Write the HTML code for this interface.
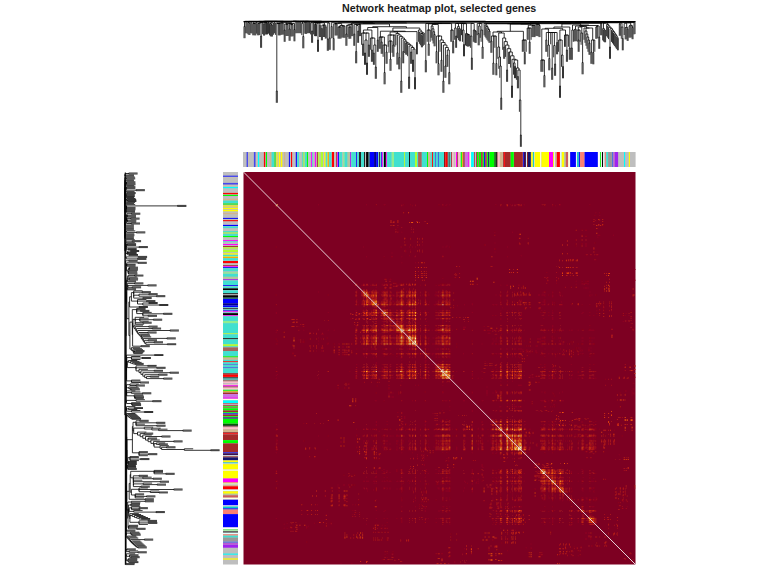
<!DOCTYPE html>
<html><head><meta charset="utf-8"><title>Network heatmap plot</title>
<style>
html,body{margin:0;padding:0;background:#fff;}
body{width:768px;height:576px;overflow:hidden;font-family:"Liberation Sans",sans-serif;}
svg{display:block}
</style></head><body>
<svg width="768" height="576" viewBox="0 0 768 576">
<rect width="768" height="576" fill="#fff"/>
<text x="439.2" y="11.7" text-anchor="middle" font-family="Liberation Sans, sans-serif" font-weight="bold" font-size="10.7px" fill="#1a1a1a">Network heatmap plot, selected genes</text>
<defs><filter id="b2" x="-5%" y="-5%" width="110%" height="110%"><feGaussianBlur stdDeviation="0.3"/></filter></defs>
<g fill="none" stroke="#000" stroke-width="0.8" stroke-linecap="butt" filter="url(#b2)">
<path d="M244 38.2L244 26.4M244 26.4L245 26.4M245 26.4L245 38.2M245.9 33.3L245.9 21.5M245.9 21.5L246.9 21.5M246.9 21.5L246.9 33.3M244.5 26.4L244.5 21.4M244.5 21.4L246.4 21.4M246.4 21.4L246.4 21.5M248.9 35L248.9 23.2M248.9 23.2L249.9 23.2M249.9 23.2L249.9 35M247.9 34.3L247.9 22.5M247.9 22.5L249.4 22.5M249.4 22.5L249.4 23.2M254.8 35.4L254.8 23.6M254.8 23.6L255.8 23.6M255.8 23.6L255.8 35.4M253.8 35.3L253.8 23.5M253.8 23.5L255.3 23.5M255.3 23.5L255.3 23.6M252.8 35.3L252.8 23.5M252.8 23.5L254.5 23.5M254.5 23.5L254.5 23.5M253.7 23.5L253.7 21.9M253.7 21.9L256.7 21.9M256.7 21.9L256.7 33.7M257.7 35.3L257.7 23.5M257.7 23.5L258.7 23.5M258.7 23.5L258.7 35.3M258.2 23.5L258.2 23.3M258.2 23.3L259.7 23.3M259.7 23.3L259.7 35.1M260.6 47.8L260.6 36M260.6 36L261.6 36M261.6 36L261.6 47.8M258.9 23.3L258.9 23M258.9 23L261.1 23M261.1 23L261.1 36M260 23L260 22.4M260 22.4L262.6 22.4M262.6 22.4L262.6 34.2M263.6 35.6L263.6 23.8M263.6 23.8L264.6 23.8M264.6 23.8L264.6 35.6M265.6 34.5L265.6 22.7M265.6 22.7L266.5 22.7M266.5 22.7L266.5 34.5M266 22.7L266 22.6M266 22.6L267.5 22.6M267.5 22.6L267.5 34.4M264.1 23.8L264.1 22.6M264.1 22.6L266.8 22.6M266.8 22.6L266.8 22.6M261.3 22.4L261.3 22.2M261.3 22.2L265.4 22.2M265.4 22.2L265.4 22.6M255.2 21.9L255.2 21.9M255.2 21.9L263.4 21.9M263.4 21.9L263.4 22.2M271.4 36.6L271.4 24.8M271.4 24.8L272.4 24.8M272.4 24.8L272.4 36.6M270.4 36.4L270.4 24.6M270.4 24.6L271.9 24.6M271.9 24.6L271.9 24.8M269.5 35.3L269.5 23.5M269.5 23.5L271.2 23.5M271.2 23.5L271.2 24.6M270.3 23.5L270.3 23M270.3 23L273.4 23M273.4 23L273.4 34.8M268.5 33.7L268.5 21.9M268.5 21.9L271.9 21.9M271.9 21.9L271.9 23M259.3 21.9L259.3 21.7M259.3 21.7L270.2 21.7M270.2 21.7L270.2 21.9M251.8 33.4L251.8 21.6M251.8 21.6L264.7 21.6M264.7 21.6L264.7 21.7M258.3 21.6L258.3 21.5M258.3 21.5L274.4 21.5M274.4 21.5L274.4 33.3M250.8 33.3L250.8 21.5M250.8 21.5L266.3 21.5M266.3 21.5L266.3 21.5M276.3 102.8L276.3 91M276.3 91L277.3 91M277.3 91L277.3 102.8M276.8 91L276.8 23.6M276.8 23.6L278.3 23.6M278.3 23.6L278.3 35.4M279.3 35.4L279.3 23.6M279.3 23.6L280.2 23.6M280.2 23.6L280.2 35.4M277.6 23.6L277.6 23.5M277.6 23.5L279.8 23.5M279.8 23.5L279.8 23.6M275.4 34.9L275.4 23.1M275.4 23.1L278.7 23.1M278.7 23.1L278.7 23.5M277 23.1L277 23.1M277 23.1L281.2 23.1M281.2 23.1L281.2 34.9M282.2 34.7L282.2 22.9M282.2 22.9L283.2 22.9M283.2 22.9L283.2 34.7M279.1 23.1L279.1 22.9M279.1 22.9L282.7 22.9M282.7 22.9L282.7 22.9M284.2 41.8L284.2 30M284.2 30L285.1 30M285.1 30L285.1 41.8M286.1 36L286.1 24.2M286.1 24.2L287.1 24.2M287.1 24.2L287.1 36M286.6 24.2L286.6 24.2M286.6 24.2L288.1 24.2M288.1 24.2L288.1 36M284.7 30L284.7 24M284.7 24L287.4 24M287.4 24L287.4 24.2M289.1 40.8L289.1 29M289.1 29L290.1 29M290.1 29L290.1 40.8M291 36.5L291 24.7M291 24.7L292 24.7M292 24.7L292 36.5M291.5 24.7L291.5 24.5M291.5 24.5L293 24.5M293 24.5L293 36.3M289.6 29L289.6 24.2M289.6 24.2L292.3 24.2M292.3 24.2L292.3 24.5M286 24L286 23.6M286 23.6L290.9 23.6M290.9 23.6L290.9 24.2M294 41.3L294 29.5M294 29.5L294.9 29.5M294.9 29.5L294.9 41.3M288.5 23.6L288.5 23.5M288.5 23.5L294.5 23.5M294.5 23.5L294.5 29.5M280.9 22.9L280.9 22.6M280.9 22.6L291.5 22.6M291.5 22.6L291.5 23.5M286.2 22.6L286.2 21.5M286.2 21.5L295.9 21.5M295.9 21.5L295.9 33.3M291.1 21.5L291.1 21.4M291.1 21.4L296.9 21.4M296.9 21.4L296.9 33.2M297.9 33.2L297.9 21.4M297.9 21.4L298.9 21.4M298.9 21.4L298.9 33.2M294 21.4L294 21.4M294 21.4L298.4 21.4M298.4 21.4L298.4 21.4M258.6 21.5L258.6 21.4M258.6 21.4L296.2 21.4M296.2 21.4L296.2 21.4M248.6 22.5L248.6 21.4M248.6 21.4L277.4 21.4M277.4 21.4L277.4 21.4M302.8 48.3L302.8 36.5M302.8 36.5L303.8 36.5M303.8 36.5L303.8 48.3M301.8 35.1L301.8 23.3M301.8 23.3L303.3 23.3M303.3 23.3L303.3 36.5M302.5 23.3L302.5 21.9M302.5 21.9L304.8 21.9M304.8 21.9L304.8 33.7M305.7 33.9L305.7 22.1M305.7 22.1L306.7 22.1M306.7 22.1L306.7 33.9M303.6 21.9L303.6 21.9M303.6 21.9L306.2 21.9M306.2 21.9L306.2 22.1M300.8 33.3L300.8 21.5M300.8 21.5L304.9 21.5M304.9 21.5L304.9 21.9M307.7 33.2L307.7 21.4M307.7 21.4L308.7 21.4M308.7 21.4L308.7 33.2M302.9 21.5L302.9 21.4M302.9 21.4L308.2 21.4M308.2 21.4L308.2 21.4M305.5 21.4L305.5 21.4M305.5 21.4L309.6 21.4M309.6 21.4L309.6 33.2M299.9 33.2L299.9 21.4M299.9 21.4L307.6 21.4M307.6 21.4L307.6 21.4M263 21.4L263 21.4M263 21.4L303.7 21.4M303.7 21.4L303.7 21.4M245.5 21.4L245.5 21.3M245.5 21.3L283.4 21.3M283.4 21.3L283.4 21.4M311.6 42.8L311.6 31M311.6 31L312.6 31M312.6 31L312.6 42.8M310.6 34.4L310.6 22.6M310.6 22.6L312.1 22.6M312.1 22.6L312.1 31M315.5 36.2L315.5 24.4M315.5 24.4L316.5 24.4M316.5 24.4L316.5 36.2M314.6 36.1L314.6 24.3M314.6 24.3L316 24.3M316 24.3L316 24.4M317.5 51.8L317.5 40M317.5 40L318.5 40M318.5 40L318.5 51.8M315.3 24.3L315.3 23.1M315.3 23.1L318 23.1M318 23.1L318 40M319.4 37L319.4 25.2M319.4 25.2L320.4 25.2M320.4 25.2L320.4 37M316.6 23.1L316.6 22.9M316.6 22.9L319.9 22.9M319.9 22.9L319.9 25.2M321.4 40.3L321.4 28.5M321.4 28.5L322.4 28.5M322.4 28.5L322.4 40.3M323.4 37L323.4 25.2M323.4 25.2L324.4 25.2M324.4 25.2L324.4 37M321.9 28.5L321.9 25.1M321.9 25.1L323.9 25.1M323.9 25.1L323.9 25.2M325.3 38.6L325.3 26.8M325.3 26.8L326.3 26.8M326.3 26.8L326.3 38.6M322.9 25.1L322.9 25.1M322.9 25.1L325.8 25.1M325.8 25.1L325.8 26.8M318.3 22.9L318.3 22.8M318.3 22.8L324.4 22.8M324.4 22.8L324.4 25.1M313.6 34.4L313.6 22.6M313.6 22.6L321.3 22.6M321.3 22.6L321.3 22.8M311.4 22.6L311.4 22.6M311.4 22.6L317.4 22.6M317.4 22.6L317.4 22.6M327.3 50.8L327.3 39M327.3 39L328.3 39M328.3 39L328.3 50.8M329.2 49.8L329.2 38M329.2 38L330.2 38M330.2 38L330.2 49.8M327.8 39L327.8 23M327.8 23L329.7 23M329.7 23L329.7 38M314.4 22.6L314.4 22.4M314.4 22.4L328.8 22.4M328.8 22.4L328.8 23M264.4 21.3L264.4 21.2M264.4 21.2L321.6 21.2M321.6 21.2L321.6 22.4M331.2 38.3L331.2 26.5M331.2 26.5L332.2 26.5M332.2 26.5L332.2 38.3M333.2 50.3L333.2 38.5M333.2 38.5L334.1 38.5M334.1 38.5L334.1 50.3M335.1 35.5L335.1 23.7M335.1 23.7L336.1 23.7M336.1 23.7L336.1 35.5M335.6 23.7L335.6 23.7M335.6 23.7L337.1 23.7M337.1 23.7L337.1 35.5M333.7 38.5L333.7 23.7M333.7 23.7L336.4 23.7M336.4 23.7L336.4 23.7M339.1 38.7L339.1 26.9M339.1 26.9L340 26.9M340 26.9L340 38.7M338.1 38.7L338.1 26.9M338.1 26.9L339.5 26.9M339.5 26.9L339.5 26.9M338.8 26.9L338.8 26.8M338.8 26.8L341 26.8M341 26.8L341 38.6M342 37.6L342 25.8M342 25.8L343 25.8M343 25.8L343 37.6M343.9 37.8L343.9 26M343.9 26L344.9 26M344.9 26L344.9 37.8M342.5 25.8L342.5 25.8M342.5 25.8L344.4 25.8M344.4 25.8L344.4 26M339.9 26.8L339.9 25.5M339.9 25.5L343.5 25.5M343.5 25.5L343.5 25.8M335 23.7L335 23.6M335 23.6L341.7 23.6M341.7 23.6L341.7 25.5M345.9 45.8L345.9 34M345.9 34L346.9 34M346.9 34L346.9 45.8M346.4 34L346.4 25.3M346.4 25.3L347.9 25.3M347.9 25.3L347.9 37.1M348.9 38.8L348.9 27M348.9 27L349.8 27M349.8 27L349.8 38.8M349.3 27L349.3 26.9M349.3 26.9L350.8 26.9M350.8 26.9L350.8 38.7M347.1 25.3L347.1 25.2M347.1 25.2L350.1 25.2M350.1 25.2L350.1 26.9M348.6 25.2L348.6 24.4M348.6 24.4L351.8 24.4M351.8 24.4L351.8 36.2M350.2 24.4L350.2 24.3M350.2 24.3L352.8 24.3M352.8 24.3L352.8 36.1M353.8 45.8L353.8 34M353.8 34L354.7 34M354.7 34L354.7 45.8M355.7 63.3L355.7 51.5M355.7 51.5L356.7 51.5M356.7 51.5L356.7 63.3M357.7 42.8L357.7 31M357.7 31L358.6 31M358.6 31L358.6 42.8M356.2 51.5L356.2 25.5M356.2 25.5L358.2 25.5M358.2 25.5L358.2 31M354.2 34L354.2 24.5M354.2 24.5L357.2 24.5M357.2 24.5L357.2 25.5M355.7 24.5L355.7 24.4M355.7 24.4L359.6 24.4M359.6 24.4L359.6 36.2M357.7 24.4L357.7 24.3M357.7 24.3L360.6 24.3M360.6 24.3L360.6 36.1M362.6 55.8L362.6 44M362.6 44L363.6 44M363.6 44L363.6 55.8M364.5 64.8L364.5 53M364.5 53L365.5 53M365.5 53L365.5 64.8M366.5 74.8L366.5 63M366.5 63L367.5 63M367.5 63L367.5 74.8M365 53L365 40M365 40L367 40M367 40L367 63M368.4 56.8L368.4 45M368.4 45L369.4 45M369.4 45L369.4 56.8M366 40L366 33M366 33L368.9 33M368.9 33L368.9 45M363.1 44L363.1 33M363.1 33L367.5 33M367.5 33L367.5 33M361.6 44.8L361.6 33M361.6 33L365.3 33M365.3 33L365.3 33M371.4 61.8L371.4 50M371.4 50L372.4 50M372.4 50L372.4 61.8M373.4 64.8L373.4 53M373.4 53L374.3 53M374.3 53L374.3 64.8M375.3 78.8L375.3 67M375.3 67L376.3 67M376.3 67L376.3 78.8M373.8 53L373.8 45M373.8 45L375.8 45M375.8 45L375.8 67M371.9 50L371.9 38M371.9 38L374.8 38M374.8 38L374.8 45M370.4 49.8L370.4 38M370.4 38L373.4 38M373.4 38L373.4 38M363.4 33L363.4 30M363.4 30L371.9 30M371.9 30L371.9 38M377.3 51.8L377.3 40M377.3 40L378.2 40M378.2 40L378.2 51.8M367.7 30L367.7 27.5M367.7 27.5L377.8 27.5M377.8 27.5L377.8 40M381.2 53.8L381.2 42M381.2 42L382.2 42M382.2 42L382.2 53.8M384.1 84.3L384.1 72.5M384.1 72.5L385.1 72.5M385.1 72.5L385.1 84.3M386.1 63.8L386.1 52M386.1 52L387.1 52M387.1 52L387.1 63.8M384.6 72.5L384.6 45M384.6 45L386.6 45M386.6 45L386.6 52M383.1 56.8L383.1 45M383.1 45L385.6 45M385.6 45L385.6 45M381.7 42L381.7 37M381.7 37L384.4 37M384.4 37L384.4 45M380.2 48.8L380.2 37M380.2 37L383 37M383 37L383 37M379.2 48.8L379.2 37M379.2 37L381.6 37M381.6 37L381.6 37M390 70.8L390 59M390 59L391 59M391 59L391 70.8M390.5 59L390.5 41M390.5 41L392 41M392 41L392 52.8M389 52.8L389 41M389 41L391.2 41M391.2 41L391.2 41M392.9 56.8L392.9 45M392.9 45L393.9 45M393.9 45L393.9 56.8M393.4 45L393.4 35M393.4 35L394.9 35M394.9 35L394.9 46.8M390.1 41L390.1 35M390.1 35L394.2 35M394.2 35L394.2 35M388.1 46.8L388.1 35M388.1 35L392.2 35M392.2 35L392.2 35M396.9 64.6L396.9 52.8M396.9 52.8L397.9 52.8M397.9 52.8L397.9 64.6M398.8 69.3L398.8 57.5M398.8 57.5L399.8 57.5M399.8 57.5L399.8 69.3M400.8 92.8L400.8 81M400.8 81L401.8 81M401.8 81L401.8 92.8M402.8 63.3L402.8 51.5M402.8 51.5L403.7 51.5M403.7 51.5L403.7 63.3M408.6 88.8L408.6 77M408.6 77L409.6 77M409.6 77L409.6 88.8M410.6 63.8L410.6 52M410.6 52L411.6 52M411.6 52L411.6 63.8M412.5 71.8L412.5 60M412.5 60L413.5 60M413.5 60L413.5 71.8M414.5 89.3L414.5 77.5M414.5 77.5L415.5 77.5M415.5 77.5L415.5 89.3M413 60L413 49M413 49L415 49M415 49L415 77.5M411.1 52L411.1 47.5M411.1 47.5L414 47.5M414 47.5L414 49M409.1 77L409.1 45.9M409.1 45.9L412.6 45.9M412.6 45.9L412.6 47.5M407.6 56.2L407.6 44.4M407.6 44.4L410.8 44.4M410.8 44.4L410.8 45.9M406.7 54.8L406.7 43M406.7 43L409.2 43M409.2 43L409.2 44.4M405.7 54.6L405.7 42.8M405.7 42.8L408 42.8M408 42.8L408 43M404.7 53L404.7 41.2M404.7 41.2L406.8 41.2M406.8 41.2L406.8 42.8M403.2 51.5L403.2 39.7M403.2 39.7L405.8 39.7M405.8 39.7L405.8 41.2M401.3 81L401.3 38.1M401.3 38.1L404.5 38.1M404.5 38.1L404.5 39.7M399.3 57.5L399.3 36.6M399.3 36.6L402.9 36.6M402.9 36.6L402.9 38.1M397.4 52.8L397.4 35M397.4 35L401.1 35M401.1 35L401.1 36.6M395.9 45.3L395.9 33.5M395.9 33.5L399.2 33.5M399.2 33.5L399.2 35M390.1 35L390.1 32M390.1 32L397.6 32M397.6 32L397.6 33.5M416.5 54.3L416.5 42.5M416.5 42.5L417.4 42.5M417.4 42.5L417.4 54.3M393.8 32L393.8 31.6M393.8 31.6L417 31.6M417 31.6L417 42.5M380.4 37L380.4 31.2M380.4 31.2L405.4 31.2M405.4 31.2L405.4 31.6M421.4 47.3L421.4 35.5M421.4 35.5L422.4 35.5M422.4 35.5L422.4 47.3M421.9 35.5L421.9 34M421.9 34L423.3 34M423.3 34L423.3 45.8M420.4 45.3L420.4 33.5M420.4 33.5L422.6 33.5M422.6 33.5L422.6 34M421.5 33.5L421.5 33M421.5 33L424.3 33M424.3 33L424.3 44.8M419.4 43.8L419.4 32M419.4 32L422.9 32M422.9 32L422.9 33M418.4 41.8L418.4 30M418.4 30L421.2 30M421.2 30L421.2 32M392.9 31.2L392.9 28M392.9 28L419.8 28M419.8 28L419.8 30M372.7 27.5L372.7 26.7M372.7 26.7L406.4 26.7M406.4 26.7L406.4 28M359.1 24.3L359.1 24M359.1 24L389.5 24M389.5 24L389.5 26.7M351.5 24.3L351.5 23.3M351.5 23.3L374.3 23.3M374.3 23.3L374.3 24M425.3 72.3L425.3 60.5M425.3 60.5L426.3 60.5M426.3 60.5L426.3 72.3M428.2 55.8L428.2 44M428.2 44L429.2 44M429.2 44L429.2 55.8M428.7 44L428.7 30M428.7 30L430.2 30M430.2 30L430.2 41.8M427.2 41.8L427.2 30M427.2 30L429.5 30M429.5 30L429.5 30M434.1 46.3L434.1 34.5M434.1 34.5L435.1 34.5M435.1 34.5L435.1 46.3M433.1 43.5L433.1 31.7M433.1 31.7L434.6 31.7M434.6 31.7L434.6 34.5M432.1 40.6L432.1 28.8M432.1 28.8L433.9 28.8M433.9 28.8L433.9 31.7M431.2 37.8L431.2 26M431.2 26L433 26M433 26L433 28.8M436.1 63.3L436.1 51.5M436.1 51.5L437 51.5M437 51.5L437 63.3M438 75.3L438 63.5M438 63.5L439 63.5M439 63.5L439 75.3M441 71.8L441 60M441 60L441.9 60M441.9 60L441.9 71.8M442.9 92.8L442.9 81M442.9 81L443.9 81M443.9 81L443.9 92.8M444.9 77.8L444.9 66M444.9 66L445.9 66M445.9 66L445.9 77.8M446.9 66.8L446.9 55M446.9 55L447.8 55M447.8 55L447.8 66.8M448.8 84.3L448.8 72.5M448.8 72.5L449.8 72.5M449.8 72.5L449.8 84.3M447.3 55L447.3 50M447.3 50L449.3 50M449.3 50L449.3 72.5M445.4 66L445.4 47.5M445.4 47.5L448.3 47.5M448.3 47.5L448.3 50M443.4 81L443.4 45M443.4 45L446.9 45M446.9 45L446.9 47.5M441.5 60L441.5 42.5M441.5 42.5L445.1 42.5M445.1 42.5L445.1 45M440 51.8L440 40M440 40L443.3 40M443.3 40L443.3 42.5M438.5 63.5L438.5 36M438.5 36L441.6 36M441.6 36L441.6 40M436.6 51.5L436.6 36M436.6 36L440.1 36M440.1 36L440.1 36M432.1 26L432.1 24.5M432.1 24.5L438.3 24.5M438.3 24.5L438.3 36M428.4 30L428.4 23.8M428.4 23.8L435.2 23.8M435.2 23.8L435.2 24.5M452.7 53.3L452.7 41.5M452.7 41.5L453.7 41.5M453.7 41.5L453.7 53.3M451.8 41.8L451.8 30M451.8 30L453.2 30M453.2 30L453.2 41.5M450.8 41.8L450.8 30M450.8 30L452.5 30M452.5 30L452.5 30M431.8 23.8L431.8 23.6M431.8 23.6L451.6 23.6M451.6 23.6L451.6 30M425.8 60.5L425.8 23.5M425.8 23.5L441.7 23.5M441.7 23.5L441.7 23.6M455.7 47.8L455.7 36M455.7 36L456.6 36M456.6 36L456.6 47.8M454.7 39.8L454.7 28M454.7 28L456.2 28M456.2 28L456.2 36M459.6 41.3L459.6 29.5M459.6 29.5L460.6 29.5M460.6 29.5L460.6 41.3M458.6 40.2L458.6 28.4M458.6 28.4L460.1 28.4M460.1 28.4L460.1 29.5M457.6 38.2L457.6 26.4M457.6 26.4L459.3 26.4M459.3 26.4L459.3 28.4M455.4 28L455.4 23.5M455.4 23.5L458.5 23.5M458.5 23.5L458.5 26.4M463.5 56.3L463.5 44.5M463.5 44.5L464.5 44.5M464.5 44.5L464.5 56.3M462.5 41.8L462.5 30M462.5 30L464 30M464 30L464 44.5M467.4 46.6L467.4 34.8M467.4 34.8L468.4 34.8M468.4 34.8L468.4 46.6M467.9 34.8L467.9 34.5M467.9 34.5L469.4 34.5M469.4 34.5L469.4 46.3M466.4 46.1L466.4 34.3M466.4 34.3L468.7 34.3M468.7 34.3L468.7 34.5M465.5 45.4L465.5 33.6M465.5 33.6L467.6 33.6M467.6 33.6L467.6 34.3M463.3 30L463.3 23.7M463.3 23.7L466.5 23.7M466.5 23.7L466.5 33.6M461.5 35.2L461.5 23.4M461.5 23.4L464.9 23.4M464.9 23.4L464.9 23.7M457 23.5L457 23.4M457 23.4L463.2 23.4M463.2 23.4L463.2 23.4M471.4 69.8L471.4 58M471.4 58L472.3 58M472.3 58L472.3 69.8M470.4 47.8L470.4 36M470.4 36L471.8 36M471.8 36L471.8 58M475.3 42.9L475.3 31.1M475.3 31.1L476.2 31.1M476.2 31.1L476.2 42.9M474.3 42.5L474.3 30.7M474.3 30.7L475.8 30.7M475.8 30.7L475.8 31.1M473.3 41.8L473.3 30M473.3 30L475 30M475 30L475 30.7M471.1 36L471.1 23.5M471.1 23.5L474.2 23.5M474.2 23.5L474.2 30M460.1 23.4L460.1 23.3M460.1 23.3L472.6 23.3M472.6 23.3L472.6 23.5M433.7 23.5L433.7 23.2M433.7 23.2L466.4 23.2M466.4 23.2L466.4 23.3M362.9 23.3L362.9 23.2M362.9 23.2L450.1 23.2M450.1 23.2L450.1 23.2M338.3 23.6L338.3 22.9M338.3 22.9L406.5 22.9M406.5 22.9L406.5 23.2M331.7 26.5L331.7 22.3M331.7 22.3L372.4 22.3M372.4 22.3L372.4 22.9M478.2 45.3L478.2 33.5M478.2 33.5L479.2 33.5M479.2 33.5L479.2 45.3M478.7 33.5L478.7 26M478.7 26L480.2 26M480.2 26L480.2 37.8M482.1 58.8L482.1 47M482.1 47L483.1 47M483.1 47L483.1 58.8M481.1 41.8L481.1 30M481.1 30L482.6 30M482.6 30L482.6 47M479.4 26L479.4 23.6M479.4 23.6L481.9 23.6M481.9 23.6L481.9 30M477.2 35.2L477.2 23.4M477.2 23.4L480.7 23.4M480.7 23.4L480.7 23.6M489 42.8L489 31M489 31L490 31M490 31L490 42.8M488 41.3L488 29.5M488 29.5L489.5 29.5M489.5 29.5L489.5 31M487 39.8L487 28M487 28L488.7 28M488.7 28L488.7 29.5M486 38.3L486 26.5M486 26.5L487.9 26.5M487.9 26.5L487.9 28M485.1 36.8L485.1 25M485.1 25L487 25M487 25L487 26.5M490.9 52.8L490.9 41M490.9 41L491.9 41M491.9 41L491.9 52.8M492.9 74.8L492.9 63M492.9 63L493.9 63M493.9 63L493.9 74.8M495.9 75.3L495.9 63.5M495.9 63.5L496.8 63.5M496.8 63.5L496.8 75.3M494.9 47.8L494.9 36M494.9 36L496.3 36M496.3 36L496.3 63.5M493.4 63L493.4 36M493.4 36L495.6 36M495.6 36L495.6 36M491.4 41L491.4 36M491.4 36L494.5 36M494.5 36L494.5 36M500.8 109.8L500.8 98M500.8 98L501.7 98M501.7 98L501.7 109.8M499.8 77.8L499.8 66M499.8 66L501.2 66M501.2 66L501.2 98M498.8 68.8L498.8 57M498.8 57L500.5 57M500.5 57L500.5 66M497.8 58.8L497.8 47M497.8 47L499.6 47M499.6 47L499.6 57M503.7 58.8L503.7 47M503.7 47L504.7 47M504.7 47L504.7 58.8M506.6 81.8L506.6 70M506.6 70L507.6 70M507.6 70L507.6 81.8M508.6 64L508.6 52.2M508.6 52.2L509.6 52.2M509.6 52.2L509.6 64M511.5 97.8L511.5 86M511.5 86L512.5 86M512.5 86L512.5 97.8M514.5 78.2L514.5 66.4M514.5 66.4L515.5 66.4M515.5 66.4L515.5 78.2M513.5 74.7L513.5 62.9M513.5 62.9L515 62.9M515 62.9L515 66.4M517.4 88.3L517.4 76.5M517.4 76.5L518.4 76.5M518.4 76.5L518.4 88.3M520.4 146.8L520.4 135M520.4 135L521.3 135M521.3 135L521.3 146.8M519.4 111.8L519.4 100M519.4 100L520.8 100M520.8 100L520.8 135M517.9 76.5L517.9 70M517.9 70L520.1 70M520.1 70L520.1 100M516.4 79.8L516.4 68M516.4 68L519 68M519 68L519 70M514.2 62.9L514.2 60M514.2 60L517.7 60M517.7 60L517.7 68M512 86L512 59.3M512 59.3L516 59.3M516 59.3L516 60M510.6 67.6L510.6 55.8M510.6 55.8L514 55.8M514 55.8L514 59.3M509.1 52.2L509.1 52M509.1 52L512.3 52M512.3 52L512.3 55.8M507.1 70L507.1 48.7M507.1 48.7L510.7 48.7M510.7 48.7L510.7 52M505.6 56.9L505.6 45.1M505.6 45.1L508.9 45.1M508.9 45.1L508.9 48.7M504.2 47L504.2 41.6M504.2 41.6L507.3 41.6M507.3 41.6L507.3 45.1M502.7 49.8L502.7 38M502.7 38L505.7 38M505.7 38L505.7 41.6M498.7 47L498.7 33M498.7 33L504.2 33M504.2 33L504.2 38M493 36L493 32M493 32L501.5 32M501.5 32L501.5 33M524.3 64.3L524.3 52.5M524.3 52.5L525.2 52.5M525.2 52.5L525.2 64.3M524.8 52.5L524.8 40M524.8 40L526.2 40M526.2 40L526.2 51.8M523.3 51.8L523.3 40M523.3 40L525.5 40M525.5 40L525.5 40M522.3 51.8L522.3 40M522.3 40L524.4 40M524.4 40L524.4 40M497.2 32L497.2 31.3M497.2 31.3L523.4 31.3M523.4 31.3L523.4 40M529.2 53.8L529.2 42M529.2 42L530.1 42M530.1 42L530.1 53.8M529.7 42L529.7 28M529.7 28L531.1 28M531.1 28L531.1 39.8M528.2 39.8L528.2 28M528.2 28L530.4 28M530.4 28L530.4 28M527.2 39.8L527.2 28M527.2 28L529.3 28M529.3 28L529.3 28M532.1 37.1L532.1 25.3M532.1 25.3L533.1 25.3M533.1 25.3L533.1 37.1M534.1 37.1L534.1 25.3M534.1 25.3L535 25.3M535 25.3L535 37.1M532.6 25.3L532.6 25.3M532.6 25.3L534.6 25.3M534.6 25.3L534.6 25.3M528.3 28L528.3 25.2M528.3 25.2L533.6 25.2M533.6 25.2L533.6 25.3M510.3 31.3L510.3 24M510.3 24L530.9 24M530.9 24L530.9 25.2M539 37.1L539 25.3M539 25.3L540 25.3M540 25.3L540 37.1M538 36.2L538 24.4M538 24.4L539.5 24.4M539.5 24.4L539.5 25.3M537 36.1L537 24.3M537 24.3L538.7 24.3M538.7 24.3L538.7 24.4M536 35.9L536 24.1M536 24.1L537.9 24.1M537.9 24.1L537.9 24.3M520.6 24L520.6 23.9M520.6 23.9L536.9 23.9M536.9 23.9L536.9 24.1M486 25L486 23.8M486 23.8L528.8 23.8M528.8 23.8L528.8 23.9M543.9 87.3L543.9 75.5M543.9 75.5L544.9 75.5M544.9 75.5L544.9 87.3M542.9 71.8L542.9 60M542.9 60L544.4 60M544.4 60L544.4 75.5M541.9 71.8L541.9 60M541.9 60L543.6 60M543.6 60L543.6 60M540.9 71.8L540.9 60M540.9 60L542.8 60M542.8 60L542.8 60M545.8 51.8L545.8 40M545.8 40L546.8 40M546.8 40L546.8 51.8M548.8 70.3L548.8 58.5M548.8 58.5L549.8 58.5M549.8 58.5L549.8 70.3M547.8 56.8L547.8 45M547.8 45L549.3 45M549.3 45L549.3 58.5M551.7 79.8L551.7 68M551.7 68L552.7 68M552.7 68L552.7 79.8M554.6 75.8L554.6 64M554.6 64L555.6 64M555.6 64L555.6 75.8M553.7 57.3L553.7 45.5M553.7 45.5L555.1 45.5M555.1 45.5L555.1 64M556.6 54.3L556.6 42.5M556.6 42.5L557.6 42.5M557.6 42.5L557.6 54.3M554.4 45.5L554.4 32.5M554.4 32.5L557.1 32.5M557.1 32.5L557.1 42.5M552.2 68L552.2 32.5M552.2 32.5L555.8 32.5M555.8 32.5L555.8 32.5M550.7 44.3L550.7 32.5M550.7 32.5L554 32.5M554 32.5L554 32.5M548.5 45L548.5 32.5M548.5 32.5L552.4 32.5M552.4 32.5L552.4 32.5M546.3 40L546.3 32.5M546.3 32.5L550.4 32.5M550.4 32.5L550.4 32.5M541.8 60L541.8 29M541.8 29L548.4 29M548.4 29L548.4 32.5M559.5 97.8L559.5 86M559.5 86L560.5 86M560.5 86L560.5 97.8M562.5 78.3L562.5 66.5M562.5 66.5L563.5 66.5M563.5 66.5L563.5 78.3M561.5 66.8L561.5 55M561.5 55L563 55M563 55L563 66.5M560 86L560 40M560 40L562.2 40M562.2 40L562.2 55M558.6 51.8L558.6 40M558.6 40L561.1 40M561.1 40L561.1 40M566.4 61.8L566.4 50M566.4 50L567.4 50M567.4 50L567.4 61.8M566.9 50L566.9 35M566.9 35L568.4 35M568.4 35L568.4 46.8M565.4 46.8L565.4 35M565.4 35L567.6 35M567.6 35L567.6 35M564.5 46.8L564.5 35M564.5 35L566.5 35M566.5 35L566.5 35M559.9 40L559.9 30M559.9 30L565.5 30M565.5 30L565.5 35M545.1 29L545.1 28.3M545.1 28.3L562.7 28.3M562.7 28.3L562.7 30M569.3 59.8L569.3 48M569.3 48L570.3 48M570.3 48L570.3 59.8M553.9 28.3L553.9 27M553.9 27L569.8 27M569.8 27L569.8 48M571.3 59.8L571.3 48M571.3 48L572.3 48M572.3 48L572.3 59.8M571.8 48L571.8 30M571.8 30L573.3 30M573.3 30L573.3 41.8M574.2 41.4L574.2 29.6M574.2 29.6L575.2 29.6M575.2 29.6L575.2 41.4M574.7 29.6L574.7 29.2M574.7 29.2L576.2 29.2M576.2 29.2L576.2 41M578.2 51.8L578.2 40M578.2 40L579.1 40M579.1 40L579.1 51.8M578.7 40L578.7 30M578.7 30L580.1 30M580.1 30L580.1 41.8M577.2 41.8L577.2 30M577.2 30L579.4 30M579.4 30L579.4 30M582.1 74.3L582.1 62.5M582.1 62.5L583.1 62.5M583.1 62.5L583.1 74.3M581.1 44.8L581.1 33M581.1 33L582.6 33M582.6 33L582.6 62.5M578.3 30L578.3 27M578.3 27L581.8 27M581.8 27L581.8 33M589 54.8L589 43M589 43L589.9 43M589.9 43L589.9 54.8M588 51.8L588 40M588 40L589.4 40M589.4 40L589.4 43M587 48.8L587 37M587 37L588.7 37M588.7 37L588.7 40M586 45.8L586 34M586 34L587.8 34M587.8 34L587.8 37M585 42.8L585 31M585 31L586.9 31M586.9 31L586.9 34M590.9 63.8L590.9 52M590.9 52L591.9 52M591.9 52L591.9 63.8M592.9 64.3L592.9 52.5M592.9 52.5L593.8 52.5M593.8 52.5L593.8 64.3M593.4 52.5L593.4 40M593.4 40L594.8 40M594.8 40L594.8 51.8M591.4 52L591.4 40M591.4 40L594.1 40M594.1 40L594.1 40M586 31L586 28M586 28L592.7 28M592.7 28L592.7 40M584 39.8L584 28M584 28L589.4 28M589.4 28L589.4 28M580.1 27L580.1 26.5M580.1 26.5L586.7 26.5M586.7 26.5L586.7 28M575.5 29.2L575.5 26M575.5 26L583.4 26M583.4 26L583.4 26.5M595.8 38.8L595.8 27M595.8 27L596.8 27M596.8 27L596.8 38.8M596.3 27L596.3 26.5M596.3 26.5L597.8 26.5M597.8 26.5L597.8 38.3M598.8 48.8L598.8 37M598.8 37L599.7 37M599.7 37L599.7 48.8M597 26.5L597 26M597 26L599.2 26M599.2 26L599.2 37M579.4 26L579.4 25.5M579.4 25.5L598.1 25.5M598.1 25.5L598.1 26M572.5 30L572.5 25M572.5 25L588.8 25M588.8 25L588.8 25.5M561.9 27L561.9 23.9M561.9 23.9L580.7 23.9M580.7 23.9L580.7 25M507.4 23.8L507.4 23.7M507.4 23.7L571.3 23.7M571.3 23.7L571.3 23.9M484.1 35.3L484.1 23.5M484.1 23.5L539.3 23.5M539.3 23.5L539.3 23.7M600.7 35.3L600.7 23.5M600.7 23.5L601.7 23.5M601.7 23.5L601.7 35.3M511.7 23.5L511.7 23.1M511.7 23.1L601.2 23.1M601.2 23.1L601.2 23.5M604.6 42.3L604.6 30.5M604.6 30.5L605.6 30.5M605.6 30.5L605.6 42.3M603.6 41.6L603.6 29.8M603.6 29.8L605.1 29.8M605.1 29.8L605.1 30.5M602.7 40.4L602.7 28.6M602.7 28.6L604.4 28.6M604.4 28.6L604.4 29.8M609.5 58.8L609.5 47M609.5 47L610.5 47M610.5 47L610.5 58.8M617.4 50.3L617.4 38.5M617.4 38.5L618.3 38.5M618.3 38.5L618.3 50.3M616.4 48.9L616.4 37.1M616.4 37.1L617.9 37.1M617.9 37.1L617.9 38.5M615.4 47.5L615.4 35.7M615.4 35.7L617.1 35.7M617.1 35.7L617.1 37.1M614.4 46.1L614.4 34.3M614.4 34.3L616.3 34.3M616.3 34.3L616.3 35.7M613.5 44.7L613.5 32.9M613.5 32.9L615.3 32.9M615.3 32.9L615.3 34.3M612.5 43.3L612.5 31.5M612.5 31.5L614.4 31.5M614.4 31.5L614.4 32.9M611.5 41.9L611.5 30.1M611.5 30.1L613.4 30.1M613.4 30.1L613.4 31.5M610 47L610 28.7M610 28.7L612.5 28.7M612.5 28.7L612.5 30.1M608.5 39.1L608.5 27.3M608.5 27.3L611.2 27.3M611.2 27.3L611.2 28.7M607.6 37.7L607.6 25.9M607.6 25.9L609.9 25.9M609.9 25.9L609.9 27.3M606.6 36.3L606.6 24.5M606.6 24.5L608.7 24.5M608.7 24.5L608.7 25.9M603.5 28.6L603.5 23.1M603.5 23.1L607.7 23.1M607.7 23.1L607.7 24.5M556.5 23.1L556.5 23M556.5 23L605.6 23M605.6 23L605.6 23.1M478.9 23.4L478.9 23M478.9 23L581 23M581 23L581 23M619.3 35.8L619.3 24M619.3 24L620.3 24M620.3 24L620.3 35.8M622.3 50.3L622.3 38.5M622.3 38.5L623.2 38.5M623.2 38.5L623.2 50.3M621.3 38.8L621.3 27M621.3 27L622.8 27M622.8 27L622.8 38.5M619.8 24L619.8 23M619.8 23L622 23M622 23L622 27M530 23L530 22.8M530 22.8L620.9 22.8M620.9 22.8L620.9 23M625.2 39.4L625.2 27.6M625.2 27.6L626.2 27.6M626.2 27.6L626.2 39.4M627.2 40.9L627.2 29.1M627.2 29.1L628.1 29.1M628.1 29.1L628.1 40.9M625.7 27.6L625.7 27.4M625.7 27.4L627.7 27.4M627.7 27.4L627.7 29.1M624.2 35L624.2 23.2M624.2 23.2L626.7 23.2M626.7 23.2L626.7 27.4M629.1 37.7L629.1 25.9M629.1 25.9L630.1 25.9M630.1 25.9L630.1 37.7M632.1 39.2L632.1 27.4M632.1 27.4L633 27.4M633 27.4L633 39.2M631.1 37.6L631.1 25.8M631.1 25.8L632.6 25.8M632.6 25.8L632.6 27.4M629.6 25.9L629.6 25.3M629.6 25.3L631.8 25.3M631.8 25.3L631.8 25.8M625.5 23.2L625.5 22.9M625.5 22.9L630.7 22.9M630.7 22.9L630.7 25.3M628.1 22.9L628.1 22.6M628.1 22.6L634 22.6M634 22.6L634 34.4M575.5 22.8L575.5 22.4M575.5 22.4L631.1 22.4M631.1 22.4L631.1 22.6M603.3 22.4L603.3 22.3M603.3 22.3L635 22.3M635 22.3L635 34.1M352.1 22.3L352.1 22.2M352.1 22.2L619.1 22.2M619.1 22.2L619.1 22.3M293 21.2L293 21.2M293 21.2L485.6 21.2M485.6 21.2L485.6 22.2"/>
<path d="M137.6 173L128.7 173M128.7 173L128.7 174M128.7 174L137.6 174M134 175L125 175M125 175L125 175.9M125 175.9L134 175.9M128.7 173.5L125 173.5M125 173.5L125 175.4M125 175.4L125 175.4M135.2 177.9L126.3 177.9M126.3 177.9L126.3 178.9M126.3 178.9L135.2 178.9M134.7 176.9L125.8 176.9M125.8 176.9L125.8 178.4M125.8 178.4L126.3 178.4M135.5 183.8L126.6 183.8M126.6 183.8L126.6 184.8M126.6 184.8L135.5 184.8M135.4 182.8L126.5 182.8M126.5 182.8L126.5 184.3M126.5 184.3L126.6 184.3M135.4 181.8L126.5 181.8M126.5 181.8L126.5 183.5M126.5 183.5L126.5 183.5M126.5 182.7L125.3 182.7M125.3 182.7L125.3 185.7M125.3 185.7L134.2 185.7M135.4 186.7L126.5 186.7M126.5 186.7L126.5 187.7M126.5 187.7L135.4 187.7M126.5 187.2L126.4 187.2M126.4 187.2L126.4 188.7M126.4 188.7L135.3 188.7M144.9 189.7L136 189.7M136 189.7L136 190.7M136 190.7L144.9 190.7M126.4 188L126.2 188M126.2 188L126.2 190.2M126.2 190.2L136 190.2M126.2 189.1L125.7 189.1M125.7 189.1L125.7 191.6M125.7 191.6L134.6 191.6M135.7 192.6L126.8 192.6M126.8 192.6L126.8 193.6M126.8 193.6L135.7 193.6M134.8 194.6L125.9 194.6M125.9 194.6L125.9 195.6M125.9 195.6L134.8 195.6M125.9 195.1L125.9 195.1M125.9 195.1L125.9 196.5M125.9 196.5L134.8 196.5M126.8 193.1L125.8 193.1M125.8 193.1L125.8 195.8M125.8 195.8L125.9 195.8M125.7 190.4L125.6 190.4M125.6 190.4L125.6 194.5M125.6 194.5L125.8 194.5M125.3 184.2L125.3 184.2M125.3 184.2L125.3 192.4M125.3 192.4L125.6 192.4M136.4 200.5L127.5 200.5M127.5 200.5L127.5 201.5M127.5 201.5L136.4 201.5M136.2 199.5L127.3 199.5M127.3 199.5L127.3 201M127.3 201L127.5 201M135.5 198.5L126.6 198.5M126.6 198.5L126.6 200.2M126.6 200.2L127.3 200.2M126.6 199.4L126.2 199.4M126.2 199.4L126.2 202.4M126.2 202.4L135.1 202.4M134.2 197.5L125.3 197.5M125.3 197.5L125.3 200.9M125.3 200.9L126.2 200.9M125.3 188.3L125.2 188.3M125.2 188.3L125.2 199.2M125.2 199.2L125.3 199.2M134 180.8L125.1 180.8M125.1 180.8L125.1 193.8M125.1 193.8L125.2 193.8M125.1 187.3L125 187.3M125 187.3L125 203.4M125 203.4L134 203.4M133.9 179.9L125 179.9M125 179.9L125 195.4M125 195.4L125 195.4M186.4 205.4L177.5 205.4M177.5 205.4L177.5 206.4M177.5 206.4L186.4 206.4M177.5 205.9L126.6 205.9M126.6 205.9L126.6 207.3M126.6 207.3L135.5 207.3M135.5 208.3L126.6 208.3M126.6 208.3L126.6 209.3M126.6 209.3L135.5 209.3M126.6 206.6L126.5 206.6M126.5 206.6L126.5 208.8M126.5 208.8L126.6 208.8M135.2 204.4L126.3 204.4M126.3 204.4L126.3 207.7M126.3 207.7L126.5 207.7M126.3 206.1L126.2 206.1M126.2 206.1L126.2 210.3M126.2 210.3L135.2 210.3M135 211.3L126.1 211.3M126.1 211.3L126.1 212.2M126.1 212.2L135 212.2M126.2 208.2L126.1 208.2M126.1 208.2L126.1 211.8M126.1 211.8L126.1 211.8M140.3 213.2L131.4 213.2M131.4 213.2L131.4 214.2M131.4 214.2L140.3 214.2M136 215.2L127.1 215.2M127.1 215.2L127.1 216.2M127.1 216.2L136 216.2M127.1 215.7L127.1 215.7M127.1 215.7L127.1 217.2M127.1 217.2L136 217.2M131.4 213.7L126.9 213.7M126.9 213.7L126.9 216.4M126.9 216.4L127.1 216.4M139.6 218.1L130.7 218.1M130.7 218.1L130.7 219.1M130.7 219.1L139.6 219.1M136.3 220.1L127.4 220.1M127.4 220.1L127.4 221.1M127.4 221.1L136.3 221.1M127.4 220.6L127.3 220.6M127.3 220.6L127.3 222.1M127.3 222.1L136.2 222.1M130.7 218.6L127.1 218.6M127.1 218.6L127.1 221.3M127.1 221.3L127.3 221.3M126.9 215.1L126.6 215.1M126.6 215.1L126.6 220M126.6 220L127.1 220M140 223L131.1 223M131.1 223L131.1 224M131.1 224L140 224M126.6 217.5L126.5 217.5M126.5 217.5L126.5 223.5M126.5 223.5L131.1 223.5M126.1 210L125.8 210M125.8 210L125.8 220.5M125.8 220.5L126.5 220.5M125.8 215.2L125 215.2M125 215.2L125 225M125 225L133.9 225M125 220.1L125 220.1M125 220.1L125 226M125 226L133.9 226M133.9 227L125 227M125 227L125 228M125 228L133.9 228M125 223.1L124.9 223.1M124.9 223.1L124.9 227.5M124.9 227.5L125 227.5M125 187.6L124.9 187.6M124.9 187.6L124.9 225.3M124.9 225.3L124.9 225.3M125.8 177.7L124.9 177.7M124.9 177.7L124.9 206.4M124.9 206.4L124.9 206.4M145.3 231.9L136.3 231.9M136.3 231.9L136.3 232.9M136.3 232.9L145.3 232.9M135.3 230.9L126.4 230.9M126.4 230.9L126.4 232.4M126.4 232.4L136.3 232.4M126.4 231.6L125.3 231.6M125.3 231.6L125.3 233.8M125.3 233.8L134.3 233.8M134.4 234.8L125.4 234.8M125.4 234.8L125.4 235.8M125.4 235.8L134.4 235.8M125.3 232.7L125.3 232.7M125.3 232.7L125.3 235.3M125.3 235.3L125.4 235.3M133.9 229.9L125 229.9M125 229.9L125 234M125 234L125.3 234M133.9 236.8L125 236.8M125 236.8L125 237.8M125 237.8L133.9 237.8M125 232L125 232M125 232L125 237.3M125 237.3L125 237.3M125 234.6L124.9 234.6M124.9 234.6L124.9 238.7M124.9 238.7L133.9 238.7M133.9 228.9L124.9 228.9M124.9 228.9L124.9 236.7M124.9 236.7L124.9 236.7M124.9 192L124.9 192M124.9 192L124.9 232.8M124.9 232.8L124.9 232.8M125 174.5L124.9 174.5M124.9 174.5L124.9 212.4M124.9 212.4L124.9 212.4M141.1 240.7L132.2 240.7M132.2 240.7L132.2 241.7M132.2 241.7L141.1 241.7M134.8 239.7L125.8 239.7M125.8 239.7L125.8 241.2M125.8 241.2L132.2 241.2M136.1 244.6L127.2 244.6M127.2 244.6L127.2 245.6M127.2 245.6L136.1 245.6M136.1 243.7L127.2 243.7M127.2 243.7L127.2 245.1M127.2 245.1L127.2 245.1M147.9 246.6L139 246.6M139 246.6L139 247.6M139 247.6L147.9 247.6M127.2 244.4L126.3 244.4M126.3 244.4L126.3 247.1M126.3 247.1L139 247.1M136.7 248.6L127.8 248.6M127.8 248.6L127.8 249.5M127.8 249.5L136.7 249.5M126.3 245.7L126.1 245.7M126.1 245.7L126.1 249.1M126.1 249.1L127.8 249.1M139.2 250.5L130.3 250.5M130.3 250.5L130.3 251.5M130.3 251.5L139.2 251.5M136.7 252.5L127.8 252.5M127.8 252.5L127.8 253.5M127.8 253.5L136.7 253.5M130.3 251L127.7 251M127.7 251L127.7 253M127.7 253L127.8 253M138 254.5L129 254.5M129 254.5L129 255.4M129 255.4L138 255.4M127.7 252L127.7 252M127.7 252L127.7 254.9M127.7 254.9L129 254.9M126.1 247.4L126 247.4M126 247.4L126 253.5M126 253.5L127.7 253.5M134.8 242.7L125.9 242.7M125.9 242.7L125.9 250.4M125.9 250.4L126 250.4M125.8 240.5L125.8 240.5M125.8 240.5L125.8 246.6M125.8 246.6L125.9 246.6M147.1 256.4L138.2 256.4M138.2 256.4L138.2 257.4M138.2 257.4L147.1 257.4M146.4 258.4L137.5 258.4M137.5 258.4L137.5 259.4M137.5 259.4L146.4 259.4M138.2 256.9L126.2 256.9M126.2 256.9L126.2 258.9M126.2 258.9L137.5 258.9M125.8 243.5L125.7 243.5M125.7 243.5L125.7 257.9M125.7 257.9L126.2 257.9M124.9 193.4L124.8 193.4M124.8 193.4L124.8 250.7M124.8 250.7L125.7 250.7M137.7 260.3L128.8 260.3M128.8 260.3L128.8 261.3M128.8 261.3L137.7 261.3M146.8 262.3L137.9 262.3M137.9 262.3L137.9 263.3M137.9 263.3L146.8 263.3M135.6 264.3L126.7 264.3M126.7 264.3L126.7 265.2M126.7 265.2L135.6 265.2M126.7 264.8L126.7 264.8M126.7 264.8L126.7 266.2M126.7 266.2L135.6 266.2M137.9 262.8L126.7 262.8M126.7 262.8L126.7 265.5M126.7 265.5L126.7 265.5M138 268.2L129.1 268.2M129.1 268.2L129.1 269.2M129.1 269.2L138 269.2M138 267.2L129.1 267.2M129.1 267.2L129.1 268.7M129.1 268.7L129.1 268.7M129.1 267.9L129 267.9M129 267.9L129 270.2M129 270.2L137.9 270.2M137.2 271.1L128.3 271.1M128.3 271.1L128.3 272.1M128.3 272.1L137.2 272.1M137.4 273.1L128.5 273.1M128.5 273.1L128.5 274.1M128.5 274.1L137.4 274.1M128.3 271.6L128.2 271.6M128.2 271.6L128.2 273.6M128.2 273.6L128.5 273.6M129 269.1L128.1 269.1M128.1 269.1L128.1 272.6M128.1 272.6L128.2 272.6M126.7 264.1L126.6 264.1M126.6 264.1L126.6 270.8M126.6 270.8L128.1 270.8M143.4 275.1L134.5 275.1M134.5 275.1L134.5 276M134.5 276L143.4 276M134.5 275.6L127.9 275.6M127.9 275.6L127.9 277M127.9 277L136.8 277M138.1 278L129.1 278M129.1 278L129.1 279M129.1 279L138.1 279M129.1 278.5L129.1 278.5M129.1 278.5L129.1 280M129.1 280L138 280M127.9 276.3L127.8 276.3M127.8 276.3L127.8 279.2M127.8 279.2L129.1 279.2M127.8 277.8L127.2 277.8M127.2 277.8L127.2 281M127.2 281L136.1 281M127.2 279.4L127.1 279.4M127.1 279.4L127.1 281.9M127.1 281.9L136 281.9M143.4 282.9L134.5 282.9M134.5 282.9L134.5 283.9M134.5 283.9L143.4 283.9M156.6 284.9L147.7 284.9M147.7 284.9L147.7 285.9M147.7 285.9L156.6 285.9M141.1 286.8L132.2 286.8M132.2 286.8L132.2 287.8M132.2 287.8L141.1 287.8M147.7 285.4L128 285.4M128 285.4L128 287.3M128 287.3L132.2 287.3M134.5 283.4L127.3 283.4M127.3 283.4L127.3 286.4M127.3 286.4L128 286.4M127.3 284.9L127.2 284.9M127.2 284.9L127.2 288.8M127.2 288.8L136.1 288.8M127.2 286.8L127.1 286.8M127.1 286.8L127.1 289.8M127.1 289.8L136 289.8M150.9 291.7L142 291.7M142 291.7L142 292.7M142 292.7L150.9 292.7M157.7 293.7L148.8 293.7M148.8 293.7L148.8 294.7M148.8 294.7L157.7 294.7M165.3 295.7L156.4 295.7M156.4 295.7L156.4 296.7M156.4 296.7L165.3 296.7M148.8 294.2L139 294.2M139 294.2L139 296.2M139 296.2L156.4 296.2M151.7 297.6L142.8 297.6M142.8 297.6L142.8 298.6M142.8 298.6L151.7 298.6M139 295.2L133.7 295.2M133.7 295.2L133.7 298.1M133.7 298.1L142.8 298.1M142 292.2L133.7 292.2M133.7 292.2L133.7 296.7M133.7 296.7L133.7 296.7M142.6 290.8L133.7 290.8M133.7 290.8L133.7 294.4M133.7 294.4L133.7 294.4M155.4 300.6L146.5 300.6M146.5 300.6L146.5 301.6M146.5 301.6L155.4 301.6M157.7 302.5L148.8 302.5M148.8 302.5L148.8 303.5M148.8 303.5L157.7 303.5M168.3 304.5L159.4 304.5M159.4 304.5L159.4 305.5M159.4 305.5L168.3 305.5M148.8 303L142.8 303M142.8 303L142.8 305M142.8 305L159.4 305M146.5 301.1L137.5 301.1M137.5 301.1L137.5 304M137.5 304L142.8 304M146.4 299.6L137.5 299.6M137.5 299.6L137.5 302.5M137.5 302.5L137.5 302.5M133.7 292.6L131.4 292.6M131.4 292.6L131.4 301.1M131.4 301.1L137.5 301.1M147.9 306.5L139 306.5M139 306.5L139 307.5M139 307.5L147.9 307.5M131.4 296.8L129.6 296.8M129.6 296.8L129.6 307M129.6 307L139 307M149.4 310.4L140.5 310.4M140.5 310.4L140.5 311.4M140.5 311.4L149.4 311.4M172.4 313.3L163.5 313.3M163.5 313.3L163.5 314.3M163.5 314.3L172.4 314.3M157 315.3L148.1 315.3M148.1 315.3L148.1 316.3M148.1 316.3L157 316.3M163.5 313.8L142.8 313.8M142.8 313.8L142.8 315.8M142.8 315.8L148.1 315.8M151.7 312.4L142.8 312.4M142.8 312.4L142.8 314.8M142.8 314.8L142.8 314.8M140.5 310.9L136.7 310.9M136.7 310.9L136.7 313.6M136.7 313.6L142.8 313.6M145.6 309.4L136.7 309.4M136.7 309.4L136.7 312.2M136.7 312.2L136.7 312.2M145.6 308.4L136.7 308.4M136.7 308.4L136.7 310.8M136.7 310.8L136.7 310.8M162.2 319.2L153.3 319.2M153.3 319.2L153.3 320.2M153.3 320.2L162.2 320.2M153.3 319.7L139.8 319.7M139.8 319.7L139.8 321.2M139.8 321.2L148.7 321.2M148.7 318.2L139.8 318.2M139.8 318.2L139.8 320.5M139.8 320.5L139.8 320.5M151.7 322.2L142.8 322.2M142.8 322.2L142.8 323.2M142.8 323.2L151.7 323.2M142.8 322.7L135.2 322.7M135.2 322.7L135.2 324.1M135.2 324.1L144.1 324.1M139.8 319.4L135.2 319.4M135.2 319.4L135.2 323.4M135.2 323.4L135.2 323.4M144.1 317.3L135.2 317.3M135.2 317.3L135.2 321.4M135.2 321.4L135.2 321.4M157.6 326.1L148.7 326.1M148.7 326.1L148.7 327.1M148.7 327.1L157.6 327.1M161.1 328.1L152.2 328.1M152.2 328.1L152.2 329M152.2 329L161.1 329M178.9 330L169.9 330M169.9 330L169.9 331M169.9 331L178.9 331M156.6 332L147.7 332M147.7 332L147.7 333M147.7 333L156.6 333M175.8 337.9L166.9 337.9M166.9 337.9L166.9 338.9M166.9 338.9L175.8 338.9M157 339.8L148.1 339.8M148.1 339.8L148.1 340.8M148.1 340.8L157 340.8M163 341.8L154.1 341.8M154.1 341.8L154.1 342.8M154.1 342.8L163 342.8M176.2 343.8L167.3 343.8M167.3 343.8L167.3 344.7M167.3 344.7L176.2 344.7M154.1 342.3L145.8 342.3M145.8 342.3L145.8 344.3M145.8 344.3L167.3 344.3M148.1 340.3L144.6 340.3M144.6 340.3L144.6 343.3M144.6 343.3L145.8 343.3M166.9 338.4L143.4 338.4M143.4 338.4L143.4 341.8M143.4 341.8L144.6 341.8M151.2 336.9L142.3 336.9M142.3 336.9L142.3 340.1M142.3 340.1L143.4 340.1M150.2 335.9L141.3 335.9M141.3 335.9L141.3 338.5M141.3 338.5L142.3 338.5M150 334.9L141.1 334.9M141.1 334.9L141.1 337.2M141.1 337.2L141.3 337.2M148.8 334L139.9 334M139.9 334L139.9 336.1M139.9 336.1L141.1 336.1M147.7 332.5L138.8 332.5M138.8 332.5L138.8 335M138.8 335L139.9 335M169.9 330.5L137.6 330.5M137.6 330.5L137.6 333.7M137.6 333.7L138.8 333.7M152.2 328.6L136.4 328.6M136.4 328.6L136.4 332.1M136.4 332.1L137.6 332.1M148.7 326.6L135.3 326.6M135.3 326.6L135.3 330.3M135.3 330.3L136.4 330.3M143 325.1L134.1 325.1M134.1 325.1L134.1 328.5M134.1 328.5L135.3 328.5M135.2 319.3L133 319.3M133 319.3L133 326.8M133 326.8L134.1 326.8M149.8 345.7L140.9 345.7M140.9 345.7L140.9 346.7M140.9 346.7L149.8 346.7M133 323.1L132.6 323.1M132.6 323.1L132.6 346.2M132.6 346.2L140.9 346.2M136.7 309.6L132.3 309.6M132.3 309.6L132.3 334.6M132.3 334.6L132.6 334.6M144.5 350.6L135.6 350.6M135.6 350.6L135.6 351.6M135.6 351.6L144.5 351.6M135.6 351.1L134.5 351.1M134.5 351.1L134.5 352.6M134.5 352.6L143.4 352.6M143 349.7L134.1 349.7M134.1 349.7L134.1 351.9M134.1 351.9L134.5 351.9M134.1 350.8L133.7 350.8M133.7 350.8L133.7 353.6M133.7 353.6L142.6 353.6M141.9 348.7L133 348.7M133 348.7L133 352.2M133 352.2L133.7 352.2M140.3 347.7L131.4 347.7M131.4 347.7L131.4 350.4M131.4 350.4L133 350.4M132.3 322.1L129.9 322.1M129.9 322.1L129.9 349.1M129.9 349.1L131.4 349.1M129.6 301.9L128.9 301.9M128.9 301.9L128.9 335.6M128.9 335.6L129.9 335.6M127.1 288.3L126.9 288.3M126.9 288.3L126.9 318.7M126.9 318.7L128.9 318.7M127.1 280.6L126.4 280.6M126.4 280.6L126.4 303.5M126.4 303.5L126.9 303.5M163.4 354.6L154.5 354.6M154.5 354.6L154.5 355.5M154.5 355.5L163.4 355.5M150.9 357.5L142 357.5M142 357.5L142 358.5M142 358.5L150.9 358.5M142 358L131.5 358M131.5 358L131.5 359.5M131.5 359.5L140.4 359.5M140.4 356.5L131.4 356.5M131.4 356.5L131.4 358.7M131.4 358.7L131.5 358.7M143.7 363.4L134.8 363.4M134.8 363.4L134.8 364.4M134.8 364.4L143.7 364.4M141.6 362.4L132.7 362.4M132.7 362.4L132.7 363.9M132.7 363.9L134.8 363.9M139.5 361.4L130.6 361.4M130.6 361.4L130.6 363.2M130.6 363.2L132.7 363.2M137.3 360.5L128.4 360.5M128.4 360.5L128.4 362.3M128.4 362.3L130.6 362.3M156.6 365.4L147.7 365.4M147.7 365.4L147.7 366.3M147.7 366.3L156.6 366.3M165.6 367.3L156.7 367.3M156.7 367.3L156.7 368.3M156.7 368.3L165.6 368.3M163 370.3L154.1 370.3M154.1 370.3L154.1 371.2M154.1 371.2L163 371.2M178.9 372.2L169.9 372.2M169.9 372.2L169.9 373.2M169.9 373.2L178.9 373.2M167.5 374.2L158.6 374.2M158.6 374.2L158.6 375.2M158.6 375.2L167.5 375.2M159.2 376.2L150.3 376.2M150.3 376.2L150.3 377.1M150.3 377.1L159.2 377.1M172.4 378.1L163.5 378.1M163.5 378.1L163.5 379.1M163.5 379.1L172.4 379.1M150.3 376.6L146.5 376.6M146.5 376.6L146.5 378.6M146.5 378.6L163.5 378.6M158.6 374.7L144.7 374.7M144.7 374.7L144.7 377.6M144.7 377.6L146.5 377.6M169.9 372.7L142.8 372.7M142.8 372.7L142.8 376.2M142.8 376.2L144.7 376.2M154.1 370.8L140.9 370.8M140.9 370.8L140.9 374.4M140.9 374.4L142.8 374.4M147.9 369.3L139 369.3M139 369.3L139 372.6M139 372.6L140.9 372.6M156.7 367.8L136 367.8M136 367.8L136 370.9M136 370.9L139 370.9M147.7 365.8L136 365.8M136 365.8L136 369.4M136 369.4L136 369.4M128.4 361.4L127.3 361.4M127.3 361.4L127.3 367.6M127.3 367.6L136 367.6M131.4 357.6L126.8 357.6M126.8 357.6L126.8 364.5M126.8 364.5L127.3 364.5M149 382L140.1 382M140.1 382L140.1 383M140.1 383L149 383M140.4 381.1L131.5 381.1M131.5 381.1L131.5 382.5M131.5 382.5L140.1 382.5M140.4 380.1L131.4 380.1M131.4 380.1L131.4 381.8M131.4 381.8L131.5 381.8M126.8 361.1L126.6 361.1M126.6 361.1L126.6 380.9M126.6 380.9L131.4 380.9M154.5 355.1L126.5 355.1M126.5 355.1L126.5 371M126.5 371L126.6 371M144.9 385L136 385M136 385L136 386M136 386L144.9 386M138.8 384L129.9 384M129.9 384L129.9 385.5M129.9 385.5L136 385.5M139.9 388.9L131 388.9M131 388.9L131 389.9M131 389.9L139.9 389.9M139.1 387.9L130.2 387.9M130.2 387.9L130.2 389.4M130.2 389.4L131 389.4M137.7 387L128.8 387M128.8 387L128.8 388.7M128.8 388.7L130.2 388.7M129.9 384.7L126.5 384.7M126.5 384.7L126.5 387.8M126.5 387.8L128.8 387.8M151.3 392.8L142.4 392.8M142.4 392.8L142.4 393.8M142.4 393.8L151.3 393.8M140.4 391.9L131.4 391.9M131.4 391.9L131.4 393.3M131.4 393.3L142.4 393.3M144 396.8L135.1 396.8M135.1 396.8L135.1 397.7M135.1 397.7L144 397.7M135.1 397.3L134.8 397.3M134.8 397.3L134.8 398.7M134.8 398.7L143.7 398.7M143.6 395.8L134.7 395.8M134.7 395.8L134.7 398M134.7 398L134.8 398M143.1 394.8L134.2 394.8M134.2 394.8L134.2 396.9M134.2 396.9L134.7 396.9M131.4 392.6L126.7 392.6M126.7 392.6L126.7 395.8M126.7 395.8L134.2 395.8M135.4 390.9L126.5 390.9M126.5 390.9L126.5 394.2M126.5 394.2L126.7 394.2M126.5 386.3L126.5 386.3M126.5 386.3L126.5 392.5M126.5 392.5L126.5 392.5M161.5 400.7L152.6 400.7M152.6 400.7L152.6 401.7M152.6 401.7L161.5 401.7M144.9 399.7L136 399.7M136 399.7L136 401.2M136 401.2L152.6 401.2M141.1 404.6L132.2 404.6M132.2 404.6L132.2 405.6M132.2 405.6L141.1 405.6M140.9 403.6L132 403.6M132 403.6L132 405.1M132 405.1L132.2 405.1M140.4 402.7L131.5 402.7M131.5 402.7L131.5 404.4M131.5 404.4L132 404.4M136 400.4L126.5 400.4M126.5 400.4L126.5 403.5M126.5 403.5L131.5 403.5M126.5 389.4L126.4 389.4M126.4 389.4L126.4 402M126.4 402L126.5 402M126.5 363L126.3 363M126.3 363L126.3 395.7M126.3 395.7L126.4 395.7M126.4 292.1L126.3 292.1M126.3 292.1L126.3 379.4M126.3 379.4L126.3 379.4M126.6 267.5L126.1 267.5M126.1 267.5L126.1 335.7M126.1 335.7L126.3 335.7M128.8 260.8L125.6 260.8M125.6 260.8L125.6 301.6M125.6 301.6L126.1 301.6M143 407.6L134.1 407.6M134.1 407.6L134.1 408.5M134.1 408.5L143 408.5M134.1 408.1L128.4 408.1M128.4 408.1L128.4 409.5M128.4 409.5L137.3 409.5M153.2 411.5L144.3 411.5M144.3 411.5L144.3 412.5M144.3 412.5L153.2 412.5M140.4 410.5L131.4 410.5M131.4 410.5L131.4 412M131.4 412L144.3 412M128.4 408.8L126.6 408.8M126.6 408.8L126.6 411.2M126.6 411.2L131.4 411.2M135.4 406.6L126.5 406.6M126.5 406.6L126.5 410M126.5 410L126.6 410M141.1 418.4L132.2 418.4M132.2 418.4L132.2 419.3M132.2 419.3L141.1 419.3M140 417.4L131.1 417.4M131.1 417.4L131.1 418.8M131.1 418.8L132.2 418.8M138.8 416.4L129.9 416.4M129.9 416.4L129.9 418.1M129.9 418.1L131.1 418.1M137.7 415.4L128.8 415.4M128.8 415.4L128.8 417.3M128.8 417.3L129.9 417.3M136.6 414.4L127.7 414.4M127.7 414.4L127.7 416.3M127.7 416.3L128.8 416.3M148.7 420.3L139.7 420.3M139.7 420.3L139.7 421.3M139.7 421.3L148.7 421.3M165.3 422.3L156.4 422.3M156.4 422.3L156.4 423.3M156.4 423.3L165.3 423.3M165.6 425.2L156.7 425.2M156.7 425.2L156.7 426.2M156.7 426.2L165.6 426.2M144.9 424.2L136 424.2M136 424.2L136 425.7M136 425.7L156.7 425.7M156.4 422.8L136 422.8M136 422.8L136 425M136 425L136 425M139.7 420.8L136 420.8M136 420.8L136 423.9M136 423.9L136 423.9M191.7 430.1L182.8 430.1M182.8 430.1L182.8 431.1M182.8 431.1L191.7 431.1M167.5 429.2L158.6 429.2M158.6 429.2L158.6 430.6M158.6 430.6L182.8 430.6M160.7 428.2L151.8 428.2M151.8 428.2L151.8 429.9M151.8 429.9L158.6 429.9M153.2 427.2L144.3 427.2M144.3 427.2L144.3 429M144.3 429L151.8 429M153.2 433.1L144.3 433.1M144.3 433.1L144.3 434.1M144.3 434.1L153.2 434.1M170.5 436L161.6 436M161.6 436L161.6 437M161.6 437L170.5 437M157.1 438L148.2 438M148.2 438L148.2 439M148.2 439L157.1 439M182.6 440.9L173.7 440.9M173.7 440.9L173.7 441.9M173.7 441.9L182.6 441.9M167.9 443.9L159 443.9M159 443.9L159 444.9M159 444.9L167.9 444.9M165.2 442.9L156.3 442.9M156.3 442.9L156.3 444.4M156.3 444.4L159 444.4M175.5 446.8L166.5 446.8M166.5 446.8L166.5 447.8M166.5 447.8L175.5 447.8M219.6 449.8L210.7 449.8M210.7 449.8L210.7 450.7M210.7 450.7L219.6 450.7M193.2 448.8L184.3 448.8M184.3 448.8L184.3 450.3M184.3 450.3L210.7 450.3M166.5 447.3L161.6 447.3M161.6 447.3L161.6 449.5M161.6 449.5L184.3 449.5M169 445.8L160.1 445.8M160.1 445.8L160.1 448.4M160.1 448.4L161.6 448.4M156.3 443.6L154.1 443.6M154.1 443.6L154.1 447.1M154.1 447.1L160.1 447.1M173.7 441.4L153.6 441.4M153.6 441.4L153.6 445.4M153.6 445.4L154.1 445.4M159.8 440L150.9 440M150.9 440L150.9 443.4M150.9 443.4L153.6 443.4M148.2 438.5L148.1 438.5M148.1 438.5L148.1 441.7M148.1 441.7L150.9 441.7M161.6 436.5L145.5 436.5M145.5 436.5L145.5 440.1M145.5 440.1L148.1 440.1M151.8 435L142.8 435M142.8 435L142.8 438.3M142.8 438.3L145.5 438.3M144.3 433.6L140.2 433.6M140.2 433.6L140.2 436.7M140.2 436.7L142.8 436.7M146.4 432.1L137.5 432.1M137.5 432.1L137.5 435.1M137.5 435.1L140.2 435.1M144.3 428.1L133.7 428.1M133.7 428.1L133.7 433.6M133.7 433.6L137.5 433.6M136 422.3L133 422.3M133 422.3L133 430.9M133 430.9L133.7 430.9M157.3 453.7L148.4 453.7M148.4 453.7L148.4 454.7M148.4 454.7L157.3 454.7M148.4 454.2L139 454.2M139 454.2L139 455.7M139 455.7L147.9 455.7M147.9 452.7L139 452.7M139 452.7L139 454.9M139 454.9L139 454.9M147.9 451.7L139 451.7M139 451.7L139 453.8M139 453.8L139 453.8M133 426.6L132.4 426.6M132.4 426.6L132.4 452.8M132.4 452.8L139 452.8M149.4 458.6L140.5 458.6M140.5 458.6L140.5 459.6M140.5 459.6L149.4 459.6M140.5 459.1L130 459.1M130 459.1L130 460.6M130 460.6L138.9 460.6M138.9 457.6L129.9 457.6M129.9 457.6L129.9 459.8M129.9 459.8L130 459.8M138.8 456.6L129.9 456.6M129.9 456.6L129.9 458.7M129.9 458.7L129.9 458.7M136.8 461.5L127.9 461.5M127.9 461.5L127.9 462.5M127.9 462.5L136.8 462.5M136.8 463.5L127.9 463.5M127.9 463.5L127.9 464.5M127.9 464.5L136.8 464.5M127.9 462L127.9 462M127.9 462L127.9 464M127.9 464L127.9 464M129.9 457.7L127.8 457.7M127.8 457.7L127.8 463M127.8 463L127.9 463M132.4 439.7L126.9 439.7M126.9 439.7L126.9 460.3M126.9 460.3L127.8 460.3M136.8 468.4L127.9 468.4M127.9 468.4L127.9 469.4M127.9 469.4L136.8 469.4M136.1 467.4L127.2 467.4M127.2 467.4L127.2 468.9M127.2 468.9L127.9 468.9M136.1 466.5L127.2 466.5M127.2 466.5L127.2 468.2M127.2 468.2L127.2 468.2M135.9 465.5L127 465.5M127 465.5L127 467.3M127 467.3L127.2 467.3M126.9 450L126.9 450M126.9 450L126.9 466.4M126.9 466.4L127 466.4M127.7 415.4L126.8 415.4M126.8 415.4L126.8 458.2M126.8 458.2L126.9 458.2M174.7 473.3L165.8 473.3M165.8 473.3L165.8 474.3M165.8 474.3L174.7 474.3M163 472.3L154.1 472.3M154.1 472.3L154.1 473.8M154.1 473.8L165.8 473.8M163 471.4L154.1 471.4M154.1 471.4L154.1 473.1M154.1 473.1L154.1 473.1M163 470.4L154.1 470.4M154.1 470.4L154.1 472.2M154.1 472.2L154.1 472.2M147.9 475.3L139 475.3M139 475.3L139 476.3M139 476.3L147.9 476.3M161.9 478.2L153 478.2M153 478.2L153 479.2M153 479.2L161.9 479.2M151.7 477.2L142.8 477.2M142.8 477.2L142.8 478.7M142.8 478.7L153 478.7M169 481.2L160.1 481.2M160.1 481.2L160.1 482.2M160.1 482.2L169 482.2M166 484.1L157.1 484.1M157.1 484.1L157.1 485.1M157.1 485.1L166 485.1M152.1 483.1L143.2 483.1M143.2 483.1L143.2 484.6M143.2 484.6L157.1 484.6M149.8 486.1L140.9 486.1M140.9 486.1L140.9 487.1M140.9 487.1L149.8 487.1M143.2 483.9L133.4 483.9M133.4 483.9L133.4 486.6M133.4 486.6L140.9 486.6M160.1 481.7L133.4 481.7M133.4 481.7L133.4 485.2M133.4 485.2L133.4 485.2M142.3 480.2L133.4 480.2M133.4 480.2L133.4 483.4M133.4 483.4L133.4 483.4M142.8 478L133.3 478M133.3 478L133.3 481.8M133.3 481.8L133.4 481.8M139 475.8L133.3 475.8M133.3 475.8L133.3 479.9M133.3 479.9L133.3 479.9M154.1 471.3L130.7 471.3M130.7 471.3L130.7 477.8M130.7 477.8L133.3 477.8M182.6 489L173.7 489M173.7 489L173.7 490M173.7 490L182.6 490M167.9 492L159 492M159 492L159 492.9M159 492.9L167.9 492.9M159.2 491L150.3 491M150.3 491L150.3 492.5M150.3 492.5L159 492.5M173.7 489.5L139 489.5M139 489.5L139 491.7M139 491.7L150.3 491.7M147.9 488L139 488M139 488L139 490.6M139 490.6L139 490.6M155.4 495.9L146.5 495.9M146.5 495.9L146.5 496.9M146.5 496.9L155.4 496.9M146.5 496.4L135.2 496.4M135.2 496.4L135.2 497.9M135.2 497.9L144.1 497.9M144.1 494.9L135.2 494.9M135.2 494.9L135.2 497.1M135.2 497.1L135.2 497.1M144.1 493.9L135.2 493.9M135.2 493.9L135.2 496M135.2 496L135.2 496M139 489.3L131.4 489.3M131.4 489.3L131.4 495M131.4 495L135.2 495M130.7 474.6L130.2 474.6M130.2 474.6L130.2 492.2M130.2 492.2L131.4 492.2M153.9 498.8L145 498.8M145 498.8L145 499.8M145 499.8L153.9 499.8M130.2 483.4L129.2 483.4M129.2 483.4L129.2 499.3M129.2 499.3L145 499.3M153.9 500.8L145 500.8M145 500.8L145 501.8M145 501.8L153.9 501.8M145 501.3L131.4 501.3M131.4 501.3L131.4 502.8M131.4 502.8L140.4 502.8M140 503.7L131.1 503.7M131.1 503.7L131.1 504.7M131.1 504.7L140 504.7M131.1 504.2L130.8 504.2M130.8 504.2L130.8 505.7M130.8 505.7L139.7 505.7M147.9 507.7L139 507.7M139 507.7L139 508.7M139 508.7L147.9 508.7M139 508.2L131.5 508.2M131.5 508.2L131.5 509.6M131.5 509.6L140.4 509.6M140.4 506.7L131.4 506.7M131.4 506.7L131.4 508.9M131.4 508.9L131.5 508.9M164.9 511.6L156 511.6M156 511.6L156 512.6M156 512.6L164.9 512.6M142.6 510.6L133.7 510.6M133.7 510.6L133.7 512.1M133.7 512.1L156 512.1M131.4 507.8L129.2 507.8M129.2 507.8L129.2 511.4M129.2 511.4L133.7 511.4M150.2 518.5L141.3 518.5M141.3 518.5L141.3 519.4M141.3 519.4L150.2 519.4M147.9 517.5L139 517.5M139 517.5L139 519M139 519L141.3 519M145.6 516.5L136.7 516.5M136.7 516.5L136.7 518.2M136.7 518.2L139 518.2M143.4 515.5L134.5 515.5M134.5 515.5L134.5 517.4M134.5 517.4L136.7 517.4M141.1 514.5L132.2 514.5M132.2 514.5L132.2 516.4M132.2 516.4L134.5 516.4M157 520.4L148.1 520.4M148.1 520.4L148.1 521.4M148.1 521.4L157 521.4M157.3 522.4L148.4 522.4M148.4 522.4L148.4 523.4M148.4 523.4L157.3 523.4M148.4 522.9L139 522.9M139 522.9L139 524.4M139 524.4L147.9 524.4M148.1 520.9L139 520.9M139 520.9L139 523.6M139 523.6L139 523.6M132.2 515.5L129.9 515.5M129.9 515.5L129.9 522.3M129.9 522.3L139 522.3M138.8 513.6L129.9 513.6M129.9 513.6L129.9 518.9M129.9 518.9L129.9 518.9M129.2 509.6L128.8 509.6M128.8 509.6L128.8 516.2M128.8 516.2L129.9 516.2M130.8 505L128.4 505M128.4 505L128.4 512.9M128.4 512.9L128.8 512.9M138.1 525.3L129.2 525.3M129.2 525.3L129.2 526.3M129.2 526.3L138.1 526.3M129.2 525.8L128.8 525.8M128.8 525.8L128.8 527.3M128.8 527.3L137.7 527.3M145.6 528.3L136.7 528.3M136.7 528.3L136.7 529.3M136.7 529.3L145.6 529.3M128.8 526.6L128.4 526.6M128.4 526.6L128.4 528.8M128.4 528.8L136.7 528.8M128.4 508.9L128 508.9M128 508.9L128 527.7M128 527.7L128.4 527.7M131.4 502L127.7 502M127.7 502L127.7 518.3M127.7 518.3L128 518.3M129.2 491.3L126.8 491.3M126.8 491.3L126.8 510.2M126.8 510.2L127.7 510.2M126.8 436.8L126.7 436.8M126.7 436.8L126.7 500.8M126.7 500.8L126.8 500.8M135.4 413.5L126.5 413.5M126.5 413.5L126.5 468.8M126.5 468.8L126.7 468.8M135.4 530.2L126.5 530.2M126.5 530.2L126.5 531.2M126.5 531.2L135.4 531.2M126.5 441.1L126.2 441.1M126.2 441.1L126.2 530.7M126.2 530.7L126.5 530.7M140.7 534.2L131.8 534.2M131.8 534.2L131.8 535.2M131.8 535.2L140.7 535.2M140.2 533.2L131.3 533.2M131.3 533.2L131.3 534.7M131.3 534.7L131.8 534.7M139.3 532.2L130.4 532.2M130.4 532.2L130.4 533.9M130.4 533.9L131.3 533.9M153.2 539.1L144.3 539.1M144.3 539.1L144.3 540.1M144.3 540.1L153.2 540.1M146.8 546.9L137.9 546.9M137.9 546.9L137.9 547.9M137.9 547.9L146.8 547.9M145.7 545.9L136.8 545.9M136.8 545.9L136.8 547.4M136.8 547.4L137.9 547.4M144.7 545L135.7 545M135.7 545L135.7 546.7M135.7 546.7L136.8 546.7M143.6 544L134.7 544M134.7 544L134.7 545.8M134.7 545.8L135.7 545.8M142.5 543L133.6 543M133.6 543L133.6 544.9M133.6 544.9L134.7 544.9M141.5 542L132.6 542M132.6 542L132.6 544M132.6 544L133.6 544M140.4 541L131.5 541M131.5 541L131.5 543M131.5 543L132.6 543M144.3 539.6L130.5 539.6M130.5 539.6L130.5 542M130.5 542L131.5 542M138.3 538.1L129.4 538.1M129.4 538.1L129.4 540.8M129.4 540.8L130.5 540.8M137.3 537.1L128.3 537.1M128.3 537.1L128.3 539.4M128.3 539.4L129.4 539.4M136.2 536.1L127.3 536.1M127.3 536.1L127.3 538.3M127.3 538.3L128.3 538.3M130.4 533.1L126.2 533.1M126.2 533.1L126.2 537.2M126.2 537.2L127.3 537.2M126.2 485.9L126.2 485.9M126.2 485.9L126.2 535.1M126.2 535.1L126.2 535.1M126.5 408.3L126.2 408.3M126.2 408.3L126.2 510.5M126.2 510.5L126.2 510.5M135.8 548.9L126.9 548.9M126.9 548.9L126.9 549.9M126.9 549.9L135.8 549.9M146.8 551.8L137.9 551.8M137.9 551.8L137.9 552.8M137.9 552.8L146.8 552.8M138.1 550.9L129.2 550.9M129.2 550.9L129.2 552.3M129.2 552.3L137.9 552.3M126.9 549.4L126.2 549.4M126.2 549.4L126.2 551.6M126.2 551.6L129.2 551.6M126.2 459.4L126 459.4M126 459.4L126 550.5M126 550.5L126.2 550.5M138.5 554.8L129.6 554.8M129.6 554.8L129.6 555.8M129.6 555.8L138.5 555.8M139.7 556.7L130.8 556.7M130.8 556.7L130.8 557.7M130.8 557.7L139.7 557.7M129.6 555.3L129.5 555.3M129.5 555.3L129.5 557.2M129.5 557.2L130.8 557.2M135.2 553.8L126.3 553.8M126.3 553.8L126.3 556.3M126.3 556.3L129.5 556.3M137.3 558.7L128.4 558.7M128.4 558.7L128.4 559.7M128.4 559.7L137.3 559.7M138.4 561.7L129.5 561.7M129.5 561.7L129.5 562.6M129.5 562.6L138.4 562.6M137.2 560.7L128.3 560.7M128.3 560.7L128.3 562.1M128.3 562.1L129.5 562.1M128.4 559.2L127.9 559.2M127.9 559.2L127.9 561.4M127.9 561.4L128.3 561.4M126.3 555L126.1 555M126.1 555L126.1 560.3M126.1 560.3L127.9 560.3M126.1 557.7L125.9 557.7M125.9 557.7L125.9 563.6M125.9 563.6L134.8 563.6M126 505L125.7 505M125.7 505L125.7 560.6M125.7 560.6L125.9 560.6M125.7 532.8L125.6 532.8M125.6 532.8L125.6 564.6M125.6 564.6L134.5 564.6M125.6 281.2L125.6 281.2M125.6 281.2L125.6 548.7M125.6 548.7L125.6 548.7M124.8 222.1L124.8 222.1M124.8 222.1L124.8 415M124.8 415L125.6 415"/>
<path d="M243.5 21.6H635.6" stroke-width="1.3"/>
<path d="M125.3 172.4V564.8" stroke-width="0.9"/>
</g>
<defs><filter id="bh" x="-1%" y="0" width="102%" height="100%"><feGaussianBlur stdDeviation="0.5 0"/></filter>
<filter id="bv" x="0" y="-1%" width="100%" height="102%"><feGaussianBlur stdDeviation="0 0.5"/></filter>
<clipPath id="ct"><rect x="243" y="152" width="392.6" height="15"/></clipPath><clipPath id="cl"><rect x="223" y="172" width="15" height="392.6"/></clipPath></defs>
<g clip-path="url(#ct)"><g filter="url(#bh)"><rect x="233" y="152" width="412" height="15" fill="#BEBEBE"/>
<rect x="246.6" y="152" width="1.3" height="15" fill="#4040F0"/><rect x="248.2" y="152" width="0.7" height="15" fill="#CBC2B0"/><rect x="253.9" y="152" width="1.6" height="15" fill="#4444EE"/><rect x="256.1" y="152" width="1.4" height="15" fill="#CBC2B0"/><rect x="257.9" y="152" width="1.3" height="15" fill="#00FFFF"/><rect x="263.9" y="152" width="1.3" height="15" fill="#FF0000"/><rect x="265.9" y="152" width="1.2" height="15" fill="#00FF00"/><rect x="267.3" y="152" width="0.8" height="15" fill="#C9A9D9"/><rect x="269.7" y="152" width="1.8" height="15" fill="#D2B48C"/><rect x="271.6" y="152" width="2.5" height="15" fill="#40E0D0"/><rect x="274.1" y="152" width="1.9" height="15" fill="#4FDD5A"/><rect x="276" y="152" width="2.2" height="15" fill="#E2DA55"/><rect x="278.9" y="152" width="1.2" height="15" fill="#FFFF00"/><rect x="280.9" y="152" width="1.4" height="15" fill="#FFFF00"/><rect x="284" y="152" width="1.2" height="15" fill="#D2B48C"/><rect x="288.9" y="152" width="1" height="15" fill="#0000FF"/><rect x="291" y="152" width="1.1" height="15" fill="#FF0000"/><rect x="295.1" y="152" width="0.5" height="15" fill="#C9A9D9"/><rect x="295.8" y="152" width="1.1" height="15" fill="#0000FF"/><rect x="297.2" y="152" width="1.8" height="15" fill="#40E0D0"/><rect x="301.9" y="152" width="0.9" height="15" fill="#40E0D0"/><rect x="302.9" y="152" width="1.8" height="15" fill="#9AE870"/><rect x="305" y="152" width="1.8" height="15" fill="#40E0D0"/><rect x="306.9" y="152" width="1.1" height="15" fill="#00FF00"/><rect x="311" y="152" width="0.9" height="15" fill="#FF00FF"/><rect x="312.3" y="152" width="0.8" height="15" fill="#40E0D0"/><rect x="314.9" y="152" width="1.1" height="15" fill="#FF00FF"/><rect x="316.9" y="152" width="0.9" height="15" fill="#A52A2A"/><rect x="318.1" y="152" width="1.4" height="15" fill="#ADFF2F"/><rect x="320.7" y="152" width="2.3" height="15" fill="#ADFF2F"/><rect x="324.2" y="152" width="1.3" height="15" fill="#FFFF00"/><rect x="325.8" y="152" width="1.1" height="15" fill="#40E0D0"/><rect x="327.1" y="152" width="0.6" height="15" fill="#ADFF2F"/><rect x="327.9" y="152" width="1" height="15" fill="#FFA500"/><rect x="329.1" y="152" width="2.3" height="15" fill="#40E0D0"/><rect x="331.9" y="152" width="2.1" height="15" fill="#FF0000"/><rect x="336.1" y="152" width="0.8" height="15" fill="#A52A2A"/><rect x="337.1" y="152" width="0.8" height="15" fill="#FF00FF"/><rect x="338.1" y="152" width="0.9" height="15" fill="#0000FF"/><rect x="339.2" y="152" width="3" height="15" fill="#40E0D0"/><rect x="343.1" y="152" width="1.4" height="15" fill="#90EE90"/><rect x="344.6" y="152" width="3" height="15" fill="#40E0D0"/><rect x="347.6" y="152" width="2.2" height="15" fill="#B4C49C"/><rect x="350.1" y="152" width="0.9" height="15" fill="#A020F0"/><rect x="351.3" y="152" width="4.6" height="15" fill="#40E0D0"/><rect x="356.1" y="152" width="0.8" height="15" fill="#0000FF"/><rect x="357.2" y="152" width="1.8" height="15" fill="#40E0D0"/><rect x="359.2" y="152" width="1.6" height="15" fill="#000000"/><rect x="361.1" y="152" width="2.9" height="15" fill="#40E0D0"/><rect x="364.1" y="152" width="0.8" height="15" fill="#000000"/><rect x="366.1" y="152" width="2.3" height="15" fill="#000000"/><rect x="368.5" y="152" width="1.1" height="15" fill="#106060"/><rect x="369.8" y="152" width="4.3" height="15" fill="#0000FF"/><rect x="374.1" y="152" width="2.1" height="15" fill="#00008B"/><rect x="376.2" y="152" width="1.8" height="15" fill="#0000FF"/><rect x="378.3" y="152" width="0.6" height="15" fill="#40E0D0"/><rect x="379.2" y="152" width="0.7" height="15" fill="#000000"/><rect x="380.2" y="152" width="0.6" height="15" fill="#40E0D0"/><rect x="381.2" y="152" width="0.7" height="15" fill="#0000FF"/><rect x="382.1" y="152" width="0.8" height="15" fill="#FF00FF"/><rect x="383.3" y="152" width="0.5" height="15" fill="#40E0D0"/><rect x="384" y="152" width="1.8" height="15" fill="#000000"/><rect x="386.1" y="152" width="0.8" height="15" fill="#FF00FF"/><rect x="387.1" y="152" width="4.6" height="15" fill="#40E0D0"/><rect x="391.8" y="152" width="2.2" height="15" fill="#90EE90"/><rect x="394" y="152" width="10" height="15" fill="#40E0D0"/><rect x="404.1" y="152" width="0.9" height="15" fill="#ADFF2F"/><rect x="405.1" y="152" width="3.9" height="15" fill="#40E0D0"/><rect x="409.1" y="152" width="0.9" height="15" fill="#000000"/><rect x="410.1" y="152" width="4.9" height="15" fill="#40E0D0"/><rect x="415" y="152" width="2" height="15" fill="#ADFF2F"/><rect x="417.1" y="152" width="0.9" height="15" fill="#40E0D0"/><rect x="418.1" y="152" width="3.7" height="15" fill="#A8645C"/><rect x="421.8" y="152" width="5.1" height="15" fill="#40E0D0"/><rect x="427" y="152" width="1.1" height="15" fill="#00FF00"/><rect x="428.3" y="152" width="2.1" height="15" fill="#D2B48C"/><rect x="430.5" y="152" width="1.3" height="15" fill="#40E0D0"/><rect x="432" y="152" width="0.9" height="15" fill="#FF0000"/><rect x="433" y="152" width="1.9" height="15" fill="#40E0D0"/><rect x="435" y="152" width="0.9" height="15" fill="#4169E1"/><rect x="436" y="152" width="1.8" height="15" fill="#40E0D0"/><rect x="437.9" y="152" width="1.1" height="15" fill="#4169E1"/><rect x="439.1" y="152" width="4.9" height="15" fill="#40E0D0"/><rect x="444.1" y="152" width="1.1" height="15" fill="#8B0000"/><rect x="445.3" y="152" width="2.3" height="15" fill="#FF0000"/><rect x="447.8" y="152" width="0.6" height="15" fill="#000000"/><rect x="448.6" y="152" width="0.5" height="15" fill="#40E0D0"/><rect x="449.3" y="152" width="0.8" height="15" fill="#106060"/><rect x="450.3" y="152" width="0.7" height="15" fill="#40E0D0"/><rect x="451.2" y="152" width="0.8" height="15" fill="#A52A2A"/><rect x="452.2" y="152" width="1.4" height="15" fill="#FFC0CB"/><rect x="455" y="152" width="0.7" height="15" fill="#FFC0CB"/><rect x="456" y="152" width="1.1" height="15" fill="#FF00FF"/><rect x="457.3" y="152" width="0.7" height="15" fill="#A52A2A"/><rect x="458.4" y="152" width="1.5" height="15" fill="#FFC0CB"/><rect x="460.1" y="152" width="0.7" height="15" fill="#90EE90"/><rect x="461" y="152" width="0.9" height="15" fill="#00FF00"/><rect x="462.1" y="152" width="0.8" height="15" fill="#FFA500"/><rect x="463.3" y="152" width="1.4" height="15" fill="#A52A2A"/><rect x="464.8" y="152" width="3.2" height="15" fill="#CC70E0"/><rect x="468.1" y="152" width="1.2" height="15" fill="#FF00FF"/><rect x="469.6" y="152" width="1.3" height="15" fill="#FFFFE0"/><rect x="471.1" y="152" width="2.6" height="15" fill="#00FFFF"/><rect x="474.2" y="152" width="0.7" height="15" fill="#A52A2A"/><rect x="475.1" y="152" width="0.7" height="15" fill="#C9A9D9"/><rect x="476" y="152" width="0.8" height="15" fill="#A52A2A"/><rect x="477" y="152" width="1.1" height="15" fill="#00FF00"/><rect x="478.3" y="152" width="0.5" height="15" fill="#A52A2A"/><rect x="478.9" y="152" width="2.2" height="15" fill="#00FF00"/><rect x="481.2" y="152" width="1.5" height="15" fill="#A52A2A"/><rect x="482.9" y="152" width="1" height="15" fill="#00FF00"/><rect x="484.1" y="152" width="1" height="15" fill="#0000FF"/><rect x="485.3" y="152" width="1.4" height="15" fill="#A52A2A"/><rect x="486.9" y="152" width="1" height="15" fill="#00FF00"/><rect x="488.1" y="152" width="1.2" height="15" fill="#191970"/><rect x="489.5" y="152" width="4.7" height="15" fill="#00FF00"/><rect x="494.3" y="152" width="1.5" height="15" fill="#006400"/><rect x="496" y="152" width="0.8" height="15" fill="#000000"/><rect x="497" y="152" width="0.8" height="15" fill="#A8645C"/><rect x="497.9" y="152" width="1.9" height="15" fill="#FFC0CB"/><rect x="500" y="152" width="2.8" height="15" fill="#D2B48C"/><rect x="503" y="152" width="0.6" height="15" fill="#8B0000"/><rect x="503.8" y="152" width="1.1" height="15" fill="#FF0000"/><rect x="505" y="152" width="5.6" height="15" fill="#A52A2A"/><rect x="510.7" y="152" width="3.1" height="15" fill="#00FF00"/><rect x="514" y="152" width="8.8" height="15" fill="#A52A2A"/><rect x="523" y="152" width="0.8" height="15" fill="#0000FF"/><rect x="523.9" y="152" width="2" height="15" fill="#3A0A50"/><rect x="526" y="152" width="0.8" height="15" fill="#E0FFFF"/><rect x="527.1" y="152" width="0.8" height="15" fill="#8B0000"/><rect x="528" y="152" width="2.8" height="15" fill="#191970"/><rect x="530.9" y="152" width="0" height="15" fill="#FFFFFF"/><rect x="531.1" y="152" width="1.6" height="15" fill="#FFFF00"/><rect x="533.1" y="152" width="0.9" height="15" fill="#00CED1"/><rect x="534.2" y="152" width="0.5" height="15" fill="#FFFFE0"/><rect x="534.8" y="152" width="5.2" height="15" fill="#FFFF00"/><rect x="540.1" y="152" width="1.3" height="15" fill="#FFFFE0"/><rect x="541.5" y="152" width="7.5" height="15" fill="#FFFF00"/><rect x="549" y="152" width="4.1" height="15" fill="#FF00FF"/><rect x="553.2" y="152" width="0.8" height="15" fill="#FFFF00"/><rect x="554.2" y="152" width="0.9" height="15" fill="#E0FFFF"/><rect x="555.3" y="152" width="1.4" height="15" fill="#D2B48C"/><rect x="556.8" y="152" width="3.1" height="15" fill="#FF0000"/><rect x="560.1" y="152" width="1.5" height="15" fill="#E0FFFF"/><rect x="561.8" y="152" width="2.4" height="15" fill="#FFFF00"/><rect x="564.3" y="152" width="1.4" height="15" fill="#B4C49C"/><rect x="565.8" y="152" width="2.3" height="15" fill="#CD5C5C"/><rect x="568.2" y="152" width="1.9" height="15" fill="#FFFFE0"/><rect x="570.2" y="152" width="5.7" height="15" fill="#0000FF"/><rect x="576" y="152" width="0.8" height="15" fill="#FFFFFF"/><rect x="577.1" y="152" width="1.6" height="15" fill="#00CED1"/><rect x="578.9" y="152" width="1" height="15" fill="#0000FF"/><rect x="580.1" y="152" width="4.4" height="15" fill="#FA8072"/><rect x="584.6" y="152" width="13.3" height="15" fill="#0000FF"/><rect x="597.9" y="152" width="2" height="15" fill="#FFFFFF"/><rect x="600.1" y="152" width="0.8" height="15" fill="#00FF00"/><rect x="601.1" y="152" width="0.7" height="15" fill="#FFFFFF"/><rect x="602" y="152" width="1" height="15" fill="#000000"/><rect x="603.2" y="152" width="1.3" height="15" fill="#E0FFFF"/><rect x="604.8" y="152" width="1.1" height="15" fill="#FA8072"/><rect x="606.2" y="152" width="1.9" height="15" fill="#40E0D0"/><rect x="608.1" y="152" width="3.8" height="15" fill="#999999"/><rect x="612.1" y="152" width="1.1" height="15" fill="#4169E1"/><rect x="613.4" y="152" width="1.5" height="15" fill="#BA55D3"/><rect x="615" y="152" width="3.1" height="15" fill="#A020F0"/><rect x="624" y="152" width="1.1" height="15" fill="#00FFFF"/><rect x="628.8" y="152" width="1.2" height="15" fill="#FFFF00"/></g></g>
<g clip-path="url(#cl)"><g filter="url(#bv)"><rect x="223" y="162" width="15" height="412" fill="#BEBEBE"/>
<rect x="223" y="175.6" width="15" height="1.3" fill="#4040F0"/><rect x="223" y="177.2" width="15" height="0.7" fill="#CBC2B0"/><rect x="223" y="182.9" width="15" height="1.6" fill="#4444EE"/><rect x="223" y="185.1" width="15" height="1.4" fill="#CBC2B0"/><rect x="223" y="186.9" width="15" height="1.3" fill="#00FFFF"/><rect x="223" y="192.9" width="15" height="1.3" fill="#FF0000"/><rect x="223" y="194.9" width="15" height="1.2" fill="#00FF00"/><rect x="223" y="196.3" width="15" height="0.8" fill="#C9A9D9"/><rect x="223" y="198.7" width="15" height="1.8" fill="#D2B48C"/><rect x="223" y="200.6" width="15" height="2.5" fill="#40E0D0"/><rect x="223" y="203.1" width="15" height="1.9" fill="#4FDD5A"/><rect x="223" y="205" width="15" height="2.2" fill="#E2DA55"/><rect x="223" y="207.9" width="15" height="1.2" fill="#FFFF00"/><rect x="223" y="209.9" width="15" height="1.4" fill="#FFFF00"/><rect x="223" y="213" width="15" height="1.2" fill="#D2B48C"/><rect x="223" y="217.9" width="15" height="1" fill="#0000FF"/><rect x="223" y="220.1" width="15" height="1.1" fill="#FF0000"/><rect x="223" y="224.2" width="15" height="0.5" fill="#C9A9D9"/><rect x="223" y="224.9" width="15" height="1.1" fill="#0000FF"/><rect x="223" y="226.3" width="15" height="1.8" fill="#40E0D0"/><rect x="223" y="231" width="15" height="0.9" fill="#40E0D0"/><rect x="223" y="232" width="15" height="1.8" fill="#9AE870"/><rect x="223" y="234.1" width="15" height="1.8" fill="#40E0D0"/><rect x="223" y="236" width="15" height="1.1" fill="#00FF00"/><rect x="223" y="240.1" width="15" height="0.9" fill="#FF00FF"/><rect x="223" y="241.4" width="15" height="0.8" fill="#40E0D0"/><rect x="223" y="244" width="15" height="1.1" fill="#FF00FF"/><rect x="223" y="246" width="15" height="0.9" fill="#A52A2A"/><rect x="223" y="247.2" width="15" height="1.4" fill="#ADFF2F"/><rect x="223" y="249.8" width="15" height="2.3" fill="#ADFF2F"/><rect x="223" y="253.3" width="15" height="1.3" fill="#FFFF00"/><rect x="223" y="254.9" width="15" height="1.1" fill="#40E0D0"/><rect x="223" y="256.2" width="15" height="0.6" fill="#ADFF2F"/><rect x="223" y="257" width="15" height="1" fill="#FFA500"/><rect x="223" y="258.2" width="15" height="2.3" fill="#40E0D0"/><rect x="223" y="261" width="15" height="2.1" fill="#FF0000"/><rect x="223" y="265.2" width="15" height="0.8" fill="#A52A2A"/><rect x="223" y="266.2" width="15" height="0.8" fill="#FF00FF"/><rect x="223" y="267.2" width="15" height="0.9" fill="#0000FF"/><rect x="223" y="268.3" width="15" height="3" fill="#40E0D0"/><rect x="223" y="272.2" width="15" height="1.4" fill="#90EE90"/><rect x="223" y="273.8" width="15" height="3" fill="#40E0D0"/><rect x="223" y="276.8" width="15" height="2.2" fill="#B4C49C"/><rect x="223" y="279.2" width="15" height="0.9" fill="#A020F0"/><rect x="223" y="280.5" width="15" height="4.6" fill="#40E0D0"/><rect x="223" y="285.2" width="15" height="0.8" fill="#0000FF"/><rect x="223" y="286.4" width="15" height="1.8" fill="#40E0D0"/><rect x="223" y="288.4" width="15" height="1.6" fill="#000000"/><rect x="223" y="290.3" width="15" height="2.9" fill="#40E0D0"/><rect x="223" y="293.3" width="15" height="0.8" fill="#000000"/><rect x="223" y="295.3" width="15" height="2.3" fill="#000000"/><rect x="223" y="297.7" width="15" height="1.1" fill="#106060"/><rect x="223" y="299" width="15" height="4.3" fill="#0000FF"/><rect x="223" y="303.3" width="15" height="2.1" fill="#00008B"/><rect x="223" y="305.4" width="15" height="1.8" fill="#0000FF"/><rect x="223" y="307.5" width="15" height="0.6" fill="#40E0D0"/><rect x="223" y="308.4" width="15" height="0.7" fill="#000000"/><rect x="223" y="309.4" width="15" height="0.6" fill="#40E0D0"/><rect x="223" y="310.4" width="15" height="0.7" fill="#0000FF"/><rect x="223" y="311.3" width="15" height="0.8" fill="#FF00FF"/><rect x="223" y="312.5" width="15" height="0.5" fill="#40E0D0"/><rect x="223" y="313.2" width="15" height="1.8" fill="#000000"/><rect x="223" y="315.3" width="15" height="0.8" fill="#FF00FF"/><rect x="223" y="316.3" width="15" height="4.6" fill="#40E0D0"/><rect x="223" y="321" width="15" height="2.2" fill="#90EE90"/><rect x="223" y="323.2" width="15" height="10" fill="#40E0D0"/><rect x="223" y="333.3" width="15" height="0.9" fill="#ADFF2F"/><rect x="223" y="334.3" width="15" height="3.9" fill="#40E0D0"/><rect x="223" y="338.3" width="15" height="0.9" fill="#000000"/><rect x="223" y="339.3" width="15" height="4.9" fill="#40E0D0"/><rect x="223" y="344.3" width="15" height="2" fill="#ADFF2F"/><rect x="223" y="346.3" width="15" height="0.9" fill="#40E0D0"/><rect x="223" y="347.4" width="15" height="3.7" fill="#A8645C"/><rect x="223" y="351.1" width="15" height="5.1" fill="#40E0D0"/><rect x="223" y="356.3" width="15" height="1.1" fill="#00FF00"/><rect x="223" y="357.6" width="15" height="2.1" fill="#D2B48C"/><rect x="223" y="359.8" width="15" height="1.3" fill="#40E0D0"/><rect x="223" y="361.3" width="15" height="0.9" fill="#FF0000"/><rect x="223" y="362.3" width="15" height="1.9" fill="#40E0D0"/><rect x="223" y="364.3" width="15" height="0.9" fill="#4169E1"/><rect x="223" y="365.3" width="15" height="1.8" fill="#40E0D0"/><rect x="223" y="367.2" width="15" height="1.1" fill="#4169E1"/><rect x="223" y="368.4" width="15" height="4.9" fill="#40E0D0"/><rect x="223" y="373.4" width="15" height="1.1" fill="#8B0000"/><rect x="223" y="374.6" width="15" height="2.3" fill="#FF0000"/><rect x="223" y="377.1" width="15" height="0.6" fill="#000000"/><rect x="223" y="377.9" width="15" height="0.5" fill="#40E0D0"/><rect x="223" y="378.6" width="15" height="0.8" fill="#106060"/><rect x="223" y="379.6" width="15" height="0.7" fill="#40E0D0"/><rect x="223" y="380.5" width="15" height="0.8" fill="#A52A2A"/><rect x="223" y="381.5" width="15" height="1.4" fill="#FFC0CB"/><rect x="223" y="384.3" width="15" height="0.7" fill="#FFC0CB"/><rect x="223" y="385.3" width="15" height="1.1" fill="#FF00FF"/><rect x="223" y="386.6" width="15" height="0.7" fill="#A52A2A"/><rect x="223" y="387.7" width="15" height="1.5" fill="#FFC0CB"/><rect x="223" y="389.4" width="15" height="0.7" fill="#90EE90"/><rect x="223" y="390.3" width="15" height="0.9" fill="#00FF00"/><rect x="223" y="391.4" width="15" height="0.8" fill="#FFA500"/><rect x="223" y="392.6" width="15" height="1.4" fill="#A52A2A"/><rect x="223" y="394.1" width="15" height="3.2" fill="#CC70E0"/><rect x="223" y="397.4" width="15" height="1.2" fill="#FF00FF"/><rect x="223" y="398.9" width="15" height="1.3" fill="#FFFFE0"/><rect x="223" y="400.4" width="15" height="2.6" fill="#00FFFF"/><rect x="223" y="403.5" width="15" height="0.7" fill="#A52A2A"/><rect x="223" y="404.4" width="15" height="0.7" fill="#C9A9D9"/><rect x="223" y="405.3" width="15" height="0.8" fill="#A52A2A"/><rect x="223" y="406.3" width="15" height="1.1" fill="#00FF00"/><rect x="223" y="407.6" width="15" height="0.5" fill="#A52A2A"/><rect x="223" y="408.3" width="15" height="2.2" fill="#00FF00"/><rect x="223" y="410.5" width="15" height="1.5" fill="#A52A2A"/><rect x="223" y="412.2" width="15" height="1" fill="#00FF00"/><rect x="223" y="413.4" width="15" height="1" fill="#0000FF"/><rect x="223" y="414.6" width="15" height="1.4" fill="#A52A2A"/><rect x="223" y="416.2" width="15" height="1" fill="#00FF00"/><rect x="223" y="417.4" width="15" height="1.2" fill="#191970"/><rect x="223" y="418.9" width="15" height="4.7" fill="#00FF00"/><rect x="223" y="423.7" width="15" height="1.5" fill="#006400"/><rect x="223" y="425.4" width="15" height="0.8" fill="#000000"/><rect x="223" y="426.4" width="15" height="0.8" fill="#A8645C"/><rect x="223" y="427.3" width="15" height="1.9" fill="#FFC0CB"/><rect x="223" y="429.4" width="15" height="2.8" fill="#D2B48C"/><rect x="223" y="432.4" width="15" height="0.6" fill="#8B0000"/><rect x="223" y="433.2" width="15" height="1.1" fill="#FF0000"/><rect x="223" y="434.4" width="15" height="5.6" fill="#A52A2A"/><rect x="223" y="440.1" width="15" height="3.1" fill="#00FF00"/><rect x="223" y="443.4" width="15" height="8.8" fill="#A52A2A"/><rect x="223" y="452.4" width="15" height="0.8" fill="#0000FF"/><rect x="223" y="453.3" width="15" height="2" fill="#3A0A50"/><rect x="223" y="455.4" width="15" height="0.8" fill="#E0FFFF"/><rect x="223" y="456.5" width="15" height="0.8" fill="#8B0000"/><rect x="223" y="457.4" width="15" height="2.8" fill="#191970"/><rect x="223" y="460.3" width="15" height="0" fill="#FFFFFF"/><rect x="223" y="460.5" width="15" height="1.6" fill="#FFFF00"/><rect x="223" y="462.5" width="15" height="0.9" fill="#00CED1"/><rect x="223" y="463.6" width="15" height="0.5" fill="#FFFFE0"/><rect x="223" y="464.2" width="15" height="5.2" fill="#FFFF00"/><rect x="223" y="469.5" width="15" height="1.3" fill="#FFFFE0"/><rect x="223" y="470.9" width="15" height="7.5" fill="#FFFF00"/><rect x="223" y="478.5" width="15" height="4.1" fill="#FF00FF"/><rect x="223" y="482.6" width="15" height="0.8" fill="#FFFF00"/><rect x="223" y="483.6" width="15" height="0.9" fill="#E0FFFF"/><rect x="223" y="484.7" width="15" height="1.4" fill="#D2B48C"/><rect x="223" y="486.3" width="15" height="3.1" fill="#FF0000"/><rect x="223" y="489.6" width="15" height="1.5" fill="#E0FFFF"/><rect x="223" y="491.3" width="15" height="2.4" fill="#FFFF00"/><rect x="223" y="493.8" width="15" height="1.4" fill="#B4C49C"/><rect x="223" y="495.3" width="15" height="2.3" fill="#CD5C5C"/><rect x="223" y="497.7" width="15" height="1.9" fill="#FFFFE0"/><rect x="223" y="499.7" width="15" height="5.7" fill="#0000FF"/><rect x="223" y="505.5" width="15" height="0.8" fill="#FFFFFF"/><rect x="223" y="506.6" width="15" height="1.6" fill="#00CED1"/><rect x="223" y="508.4" width="15" height="1" fill="#0000FF"/><rect x="223" y="509.6" width="15" height="4.4" fill="#FA8072"/><rect x="223" y="514.1" width="15" height="13.3" fill="#0000FF"/><rect x="223" y="527.4" width="15" height="2" fill="#FFFFFF"/><rect x="223" y="529.6" width="15" height="0.8" fill="#00FF00"/><rect x="223" y="530.6" width="15" height="0.7" fill="#FFFFFF"/><rect x="223" y="531.5" width="15" height="1" fill="#000000"/><rect x="223" y="532.7" width="15" height="1.3" fill="#E0FFFF"/><rect x="223" y="534.3" width="15" height="1.1" fill="#FA8072"/><rect x="223" y="535.7" width="15" height="1.9" fill="#40E0D0"/><rect x="223" y="537.6" width="15" height="3.8" fill="#999999"/><rect x="223" y="541.6" width="15" height="1.1" fill="#4169E1"/><rect x="223" y="542.9" width="15" height="1.5" fill="#BA55D3"/><rect x="223" y="544.6" width="15" height="3.1" fill="#A020F0"/><rect x="223" y="553.6" width="15" height="1.1" fill="#00FFFF"/><rect x="223" y="558.4" width="15" height="1.2" fill="#FFFF00"/></g></g>
<rect x="243.5" y="172" width="392" height="392.5" fill="#7D0022"/>
<defs><filter id="bl" x="-2%" y="-2%" width="104%" height="104%"><feGaussianBlur stdDeviation="0.45"/></filter></defs>
<g transform="translate(243.5 172)" filter="url(#bl)">
<g id="tri"><path fill="#900820" d="M74.5 32.3h1v1h-1zM122.5 32.3h1v1h-1zM140.1 32.3h2v1h-2zM157.8 32.3h1v1h-1zM159.7 32.3h1v1h-1zM166.6 32.3h1v1h-1zM171.5 32.3h1v1h-1zM195 32.3h1v1h-1zM202.9 32.3h1v1h-1zM205.8 32.3h1v1h-1zM251.9 32.3h1v1h-1zM257.7 32.3h1v1h-1zM266.6 32.3h1v1h-1zM268.5 32.3h1v1h-1zM270.5 32.3h4v1h-4zM276.4 32.3h1v1h-1zM280.3 32.3h1v1h-1zM297.9 32.3h1v1h-1zM299.9 32.3h1v1h-1zM316.5 32.3h1v1h-1zM345.9 32.3h1v1h-1zM168.6 33.3h1v1h-1zM171.5 33.3h1v1h-1zM198.9 33.3h1v1h-1zM201.9 33.3h1v1h-1zM262.6 33.3h1v1h-1zM267.5 33.3h2v1h-2zM270.5 33.3h2v1h-2zM274.4 33.3h3v1h-3zM300.9 33.3h1v1h-1zM308.7 33.3h1v1h-1zM311.6 33.3h1v1h-1zM351.8 40.2h1v1h-1zM355.7 40.2h1v1h-1zM350.8 43.1h1v1h-1zM355.7 43.1h1v1h-1zM350.8 47h1v1h-1zM355.7 47h1v1h-1zM350.8 48h2v1h-2zM354.8 48h2v1h-2zM180.3 49h1v1h-1zM351.8 51.9h1v1h-1zM153.9 54.9h1v1h-1zM167.6 54.9h1v1h-1zM153.9 58.8h1v1h-1zM169.5 58.8h1v1h-1zM157.8 59.8h1v1h-1zM167.6 59.8h1v1h-1zM250.9 59.8h1v1h-1zM268.5 59.8h1v1h-1zM353.8 62.7h3v1h-3zM369.5 62.7h1v1h-1zM353.8 64.7h1v1h-1zM161.7 65.7h1v1h-1zM166.6 65.7h1v1h-1zM250.9 70.6h1v1h-1zM350.8 70.6h1v1h-1zM178.4 72.5h1v1h-1zM202.9 73.5h1v1h-1zM332.2 73.5h1v1h-1zM119.6 74.5h1v1h-1zM156.8 74.5h2v1h-2zM165.6 74.5h1v1h-1zM168.6 74.5h1v1h-1zM171.5 74.5h1v1h-1zM198.9 74.5h1v1h-1zM201.9 74.5h1v1h-1zM205.8 74.5h1v1h-1zM263.6 74.5h1v1h-1zM161.7 77.4h1v1h-1zM166.6 77.4h1v1h-1zM178.4 77.4h1v1h-1zM161.7 78.4h1v1h-1zM178.4 78.4h1v1h-1zM161.7 79.4h1v1h-1zM175.4 79.4h1v1h-1zM250.9 79.4h1v1h-1zM148 80.4h1v1h-1zM342 82.3h1v1h-1zM165.6 83.3h1v1h-1zM171.5 83.3h1v1h-1zM198.9 83.3h1v1h-1zM277.3 83.3h1v1h-1zM122.5 84.3h1v1h-1zM140.1 84.3h1v1h-1zM157.8 84.3h1v1h-1zM170.5 84.3h2v1h-2zM263.6 84.3h1v1h-1zM351.8 87.2h1v1h-1zM157.8 90.2h1v1h-1zM171.5 90.2h1v1h-1zM312.6 94.1h1v1h-1zM314.6 94.1h1v1h-1zM391 97h1v1h-1zM302.8 100h1v1h-1zM211.7 101.9h1v1h-1zM212.7 102.9h1v1h-1zM210.7 104.9h1v1h-1zM198.9 105.8h1v1h-1zM146 106.8h2v1h-2zM314.6 106.8h1v1h-1zM391 107.8h1v1h-1zM303.8 108.8h1v1h-1zM312.6 108.8h1v1h-1zM332.2 108.8h1v1h-1zM338.1 108.8h1v1h-1zM342 108.8h1v1h-1zM165.6 110.7h1v1h-1zM312.6 110.7h1v1h-1zM338.1 110.7h1v1h-1zM340.1 110.7h1v1h-1zM344 110.7h1v1h-1zM120.5 111.7h1v1h-1zM128.4 111.7h2v1h-2zM138.2 111.7h1v1h-1zM140.1 111.7h2v1h-2zM146 111.7h1v1h-1zM152.9 111.7h1v1h-1zM155.8 111.7h2v1h-2zM158.8 111.7h1v1h-1zM164.6 111.7h1v1h-1zM166.6 111.7h1v1h-1zM181.3 111.7h1v1h-1zM197 111.7h1v1h-1zM200.9 111.7h1v1h-1zM202.9 111.7h4v1h-4zM332.2 111.7h1v1h-1zM338.1 111.7h1v1h-1zM344 111.7h1v1h-1zM117.6 112.7h2v1h-2zM121.5 112.7h1v1h-1zM124.5 112.7h1v1h-1zM126.4 112.7h2v1h-2zM131.3 112.7h1v1h-1zM138.2 112.7h1v1h-1zM141.1 112.7h2v1h-2zM146 112.7h1v1h-1zM153.9 112.7h2v1h-2zM162.7 112.7h1v1h-1zM176.4 112.7h1v1h-1zM192.1 112.7h1v1h-1zM197 112.7h2v1h-2zM199.9 112.7h3v1h-3zM203.8 112.7h2v1h-2zM256.8 112.7h1v1h-1zM262.6 112.7h2v1h-2zM268.5 112.7h1v1h-1zM274.4 112.7h2v1h-2zM132.3 114.7h1v1h-1zM340.1 115.6h1v1h-1zM344 115.6h1v1h-1zM123.5 117.6h1v1h-1zM129.4 117.6h1v1h-1zM131.3 117.6h2v1h-2zM141.1 117.6h1v1h-1zM143.1 117.6h1v1h-1zM158.8 117.6h1v1h-1zM165.6 117.6h1v1h-1zM168.6 117.6h1v1h-1zM121.5 118.6h1v1h-1zM129.4 118.6h2v1h-2zM138.2 118.6h1v1h-1zM140.1 118.6h1v1h-1zM143.1 118.6h1v1h-1zM146 118.6h1v1h-1zM152.9 118.6h1v1h-1zM156.8 118.6h1v1h-1zM159.7 118.6h1v1h-1zM162.7 118.6h3v1h-3zM166.6 118.6h1v1h-1zM168.6 118.6h1v1h-1zM170.5 118.6h1v1h-1zM181.3 118.6h1v1h-1zM195 118.6h1v1h-1zM205.8 118.6h1v1h-1zM263.6 118.6h1v1h-1zM124.5 119.6h1v1h-1zM126.4 119.6h1v1h-1zM129.4 119.6h1v1h-1zM133.3 119.6h2v1h-2zM137.2 119.6h3v1h-3zM153.9 119.6h2v1h-2zM169.5 119.6h1v1h-1zM172.5 119.6h1v1h-1zM176.4 119.6h1v1h-1zM192.1 119.6h1v1h-1zM194 119.6h1v1h-1zM197 119.6h2v1h-2zM200.9 119.6h2v1h-2zM204.8 119.6h1v1h-1zM268.5 119.6h1v1h-1zM270.5 119.6h1v1h-1zM274.4 119.6h1v1h-1zM277.3 119.6h1v1h-1zM299.9 119.6h1v1h-1zM308.7 119.6h1v1h-1zM315.6 119.6h1v1h-1zM345.9 119.6h1v1h-1zM125.4 120.5h1v1h-1zM127.4 120.5h1v1h-1zM133.3 120.5h2v1h-2zM138.2 120.5h2v1h-2zM142.1 120.5h1v1h-1zM146 120.5h1v1h-1zM153.9 120.5h3v1h-3zM158.8 120.5h1v1h-1zM162.7 120.5h2v1h-2zM172.5 120.5h1v1h-1zM176.4 120.5h1v1h-1zM182.3 120.5h1v1h-1zM184.2 120.5h1v1h-1zM192.1 120.5h1v1h-1zM194 120.5h2v1h-2zM198 120.5h1v1h-1zM199.9 120.5h1v1h-1zM203.8 120.5h1v1h-1zM256.8 120.5h1v1h-1zM262.6 120.5h2v1h-2zM268.5 120.5h1v1h-1zM276.4 120.5h1v1h-1zM298.9 120.5h1v1h-1zM300.9 120.5h1v1h-1zM308.7 120.5h1v1h-1zM315.6 120.5h2v1h-2zM124.5 121.5h1v1h-1zM127.4 121.5h3v1h-3zM131.3 121.5h1v1h-1zM138.2 121.5h1v1h-1zM140.1 121.5h1v1h-1zM142.1 121.5h2v1h-2zM156.8 121.5h1v1h-1zM158.8 121.5h1v1h-1zM165.6 121.5h1v1h-1zM168.6 121.5h1v1h-1zM170.5 121.5h1v1h-1zM198.9 121.5h1v1h-1zM202.9 121.5h1v1h-1zM277.3 121.5h1v1h-1zM133.3 122.5h1v1h-1zM135.2 122.5h1v1h-1zM139.2 122.5h1v1h-1zM144.1 122.5h1v1h-1zM147 122.5h4v1h-4zM154.8 122.5h2v1h-2zM160.7 122.5h1v1h-1zM172.5 122.5h2v1h-2zM176.4 122.5h1v1h-1zM178.4 122.5h1v1h-1zM184.2 122.5h2v1h-2zM191.1 122.5h4v1h-4zM251.9 122.5h1v1h-1zM255.8 122.5h1v1h-1zM262.6 122.5h1v1h-1zM264.6 122.5h1v1h-1zM272.4 122.5h1v1h-1zM275.4 122.5h1v1h-1zM297.9 122.5h4v1h-4zM304.8 122.5h1v1h-1zM308.7 122.5h1v1h-1zM315.6 122.5h2v1h-2zM345.9 122.5h1v1h-1zM347.9 122.5h1v1h-1zM351.8 122.5h1v1h-1zM134.3 123.5h1v1h-1zM139.2 123.5h1v1h-1zM149 123.5h3v1h-3zM153.9 123.5h2v1h-2zM161.7 123.5h1v1h-1zM167.6 123.5h1v1h-1zM169.5 123.5h1v1h-1zM176.4 123.5h1v1h-1zM192.1 123.5h1v1h-1zM195 123.5h1v1h-1zM201.9 123.5h1v1h-1zM204.8 123.5h1v1h-1zM268.5 123.5h1v1h-1zM272.4 123.5h1v1h-1zM275.4 123.5h1v1h-1zM277.3 123.5h1v1h-1zM300.9 123.5h1v1h-1zM308.7 123.5h1v1h-1zM316.5 123.5h1v1h-1zM318.5 123.5h1v1h-1zM345.9 123.5h1v1h-1zM140.1 124.5h4v1h-4zM146 124.5h1v1h-1zM158.8 124.5h1v1h-1zM163.7 124.5h2v1h-2zM167.6 124.5h1v1h-1zM170.5 124.5h1v1h-1zM181.3 124.5h1v1h-1zM195 124.5h1v1h-1zM197 124.5h1v1h-1zM199.9 124.5h1v1h-1zM201.9 124.5h1v1h-1zM203.8 124.5h2v1h-2zM256.8 124.5h1v1h-1zM268.5 124.5h1v1h-1zM308.7 124.5h1v1h-1zM163.7 125.4h1v1h-1zM165.6 125.4h2v1h-2zM181.3 125.4h1v1h-1zM199.9 125.4h1v1h-1zM201.9 125.4h2v1h-2zM205.8 125.4h1v1h-1zM127.4 126.4h1v1h-1zM129.4 126.4h1v1h-1zM140.1 126.4h1v1h-1zM143.1 126.4h1v1h-1zM156.8 126.4h1v1h-1zM164.6 126.4h1v1h-1zM168.6 126.4h1v1h-1zM181.3 126.4h1v1h-1zM198.9 126.4h1v1h-1zM205.8 126.4h1v1h-1zM256.8 126.4h1v1h-1zM138.2 127.4h2v1h-2zM145 127.4h3v1h-3zM152.9 127.4h2v1h-2zM155.8 127.4h1v1h-1zM158.8 127.4h2v1h-2zM162.7 127.4h2v1h-2zM172.5 127.4h1v1h-1zM176.4 127.4h1v1h-1zM195 127.4h1v1h-1zM197 127.4h1v1h-1zM199.9 127.4h1v1h-1zM201.9 127.4h1v1h-1zM203.8 127.4h1v1h-1zM262.6 127.4h2v1h-2zM275.4 127.4h1v1h-1zM277.3 127.4h1v1h-1zM299.9 127.4h2v1h-2zM133.3 128.4h2v1h-2zM138.2 128.4h1v1h-1zM141.1 128.4h2v1h-2zM146 128.4h2v1h-2zM149 128.4h1v1h-1zM152.9 128.4h4v1h-4zM158.8 128.4h1v1h-1zM163.7 128.4h2v1h-2zM176.4 128.4h1v1h-1zM182.3 128.4h1v1h-1zM194 128.4h2v1h-2zM197 128.4h1v1h-1zM199.9 128.4h2v1h-2zM203.8 128.4h2v1h-2zM256.8 128.4h1v1h-1zM263.6 128.4h1v1h-1zM275.4 128.4h3v1h-3zM300.9 128.4h1v1h-1zM133.3 129.4h1v1h-1zM139.2 129.4h1v1h-1zM145 129.4h1v1h-1zM149 129.4h2v1h-2zM151.9 129.4h1v1h-1zM153.9 129.4h1v1h-1zM155.8 129.4h1v1h-1zM162.7 129.4h2v1h-2zM169.5 129.4h1v1h-1zM172.5 129.4h1v1h-1zM176.4 129.4h1v1h-1zM182.3 129.4h1v1h-1zM185.2 129.4h1v1h-1zM192.1 129.4h1v1h-1zM197 129.4h2v1h-2zM199.9 129.4h2v1h-2zM203.8 129.4h2v1h-2zM256.8 129.4h1v1h-1zM263.6 129.4h1v1h-1zM270.5 129.4h1v1h-1zM274.4 129.4h2v1h-2zM277.3 129.4h1v1h-1zM298.9 129.4h3v1h-3zM308.7 129.4h1v1h-1zM317.5 129.4h1v1h-1zM133.3 130.3h3v1h-3zM138.2 130.3h2v1h-2zM146 130.3h1v1h-1zM150.9 130.3h1v1h-1zM152.9 130.3h4v1h-4zM169.5 130.3h1v1h-1zM176.4 130.3h1v1h-1zM182.3 130.3h1v1h-1zM194 130.3h2v1h-2zM197 130.3h2v1h-2zM199.9 130.3h1v1h-1zM204.8 130.3h1v1h-1zM262.6 130.3h1v1h-1zM268.5 130.3h1v1h-1zM276.4 130.3h1v1h-1zM300.9 130.3h1v1h-1zM308.7 130.3h1v1h-1zM310.7 130.3h1v1h-1zM133.3 131.3h3v1h-3zM139.2 131.3h1v1h-1zM145 131.3h1v1h-1zM149 131.3h1v1h-1zM160.7 131.3h1v1h-1zM162.7 131.3h1v1h-1zM167.6 131.3h1v1h-1zM172.5 131.3h2v1h-2zM192.1 131.3h4v1h-4zM197 131.3h2v1h-2zM199.9 131.3h1v1h-1zM204.8 131.3h1v1h-1zM228.3 131.3h1v1h-1zM256.8 131.3h1v1h-1zM262.6 131.3h2v1h-2zM270.5 131.3h1v1h-1zM274.4 131.3h3v1h-3zM300.9 131.3h1v1h-1zM304.8 131.3h1v1h-1zM308.7 131.3h1v1h-1zM355.7 131.3h1v1h-1zM135.2 132.3h2v1h-2zM144.1 132.3h2v1h-2zM149.9 132.3h1v1h-1zM161.7 132.3h1v1h-1zM173.5 132.3h1v1h-1zM179.3 132.3h1v1h-1zM185.2 132.3h1v1h-1zM190.1 132.3h3v1h-3zM200.9 132.3h1v1h-1zM220.5 132.3h1v1h-1zM228.3 132.3h1v1h-1zM248.9 132.3h2v1h-2zM251.9 132.3h2v1h-2zM257.7 132.3h1v1h-1zM265.6 132.3h1v1h-1zM267.5 132.3h1v1h-1zM271.5 132.3h1v1h-1zM274.4 132.3h1v1h-1zM297.9 132.3h3v1h-3zM303.8 132.3h2v1h-2zM310.7 132.3h1v1h-1zM318.5 132.3h1v1h-1zM327.3 132.3h1v1h-1zM338.1 132.3h1v1h-1zM345.9 132.3h1v1h-1zM351.8 132.3h1v1h-1zM134.3 133.3h1v1h-1zM141.1 133.3h1v1h-1zM143.1 133.3h1v1h-1zM146 133.3h1v1h-1zM152.9 133.3h1v1h-1zM158.8 133.3h1v1h-1zM168.6 133.3h1v1h-1zM170.5 133.3h2v1h-2zM202.9 133.3h1v1h-1zM213.6 133.3h1v1h-1zM359.7 133.3h1v1h-1zM138.2 134.3h1v1h-1zM143.1 134.3h1v1h-1zM156.8 134.3h1v1h-1zM164.6 134.3h1v1h-1zM166.6 134.3h1v1h-1zM168.6 134.3h1v1h-1zM198.9 134.3h1v1h-1zM205.8 134.3h1v1h-1zM365.5 134.3h1v1h-1zM138.2 135.2h1v1h-1zM140.1 135.2h1v1h-1zM157.8 135.2h1v1h-1zM168.6 135.2h1v1h-1zM198.9 135.2h1v1h-1zM258.7 135.2h1v1h-1zM140.1 136.2h1v1h-1zM157.8 136.2h1v1h-1zM171.5 136.2h1v1h-1zM198.9 136.2h1v1h-1zM142.1 137.2h1v1h-1zM152.9 137.2h1v1h-1zM155.8 137.2h2v1h-2zM164.6 137.2h1v1h-1zM169.5 137.2h2v1h-2zM198.9 137.2h1v1h-1zM202.9 137.2h1v1h-1zM359.7 137.2h1v1h-1zM144.1 138.2h1v1h-1zM147 138.2h1v1h-1zM149 138.2h1v1h-1zM153.9 138.2h1v1h-1zM155.8 138.2h1v1h-1zM158.8 138.2h1v1h-1zM162.7 138.2h1v1h-1zM170.5 138.2h1v1h-1zM176.4 138.2h1v1h-1zM181.3 138.2h1v1h-1zM192.1 138.2h1v1h-1zM195 138.2h4v1h-4zM199.9 138.2h1v1h-1zM201.9 138.2h1v1h-1zM203.8 138.2h2v1h-2zM256.8 138.2h1v1h-1zM263.6 138.2h1v1h-1zM268.5 138.2h1v1h-1zM274.4 138.2h1v1h-1zM297.9 138.2h1v1h-1zM300.9 138.2h1v1h-1zM308.7 138.2h1v1h-1zM352.8 138.2h1v1h-1zM355.7 138.2h1v1h-1zM367.5 138.2h1v1h-1zM387.1 138.2h1v1h-1zM146 139.2h1v1h-1zM155.8 139.2h2v1h-2zM164.6 139.2h1v1h-1zM166.6 139.2h1v1h-1zM170.5 139.2h2v1h-2zM181.3 139.2h1v1h-1zM198.9 139.2h1v1h-1zM202.9 139.2h1v1h-1zM205.8 139.2h1v1h-1zM148 140.1h1v1h-1zM149.9 140.1h2v1h-2zM154.8 140.1h2v1h-2zM160.7 140.1h1v1h-1zM179.3 140.1h1v1h-1zM184.2 140.1h1v1h-1zM193.1 140.1h4v1h-4zM200.9 140.1h1v1h-1zM228.3 140.1h1v1h-1zM256.8 140.1h1v1h-1zM265.6 140.1h1v1h-1zM267.5 140.1h1v1h-1zM272.4 140.1h1v1h-1zM274.4 140.1h1v1h-1zM276.4 140.1h2v1h-2zM296.9 140.1h1v1h-1zM298.9 140.1h2v1h-2zM304.8 140.1h1v1h-1zM308.7 140.1h1v1h-1zM316.5 140.1h1v1h-1zM339.1 140.1h1v1h-1zM345.9 140.1h1v1h-1zM144.1 141.1h1v1h-1zM149 141.1h1v1h-1zM151.9 141.1h1v1h-1zM154.8 141.1h2v1h-2zM167.6 141.1h1v1h-1zM172.5 141.1h2v1h-2zM176.4 141.1h1v1h-1zM192.1 141.1h1v1h-1zM194 141.1h1v1h-1zM197 141.1h2v1h-2zM199.9 141.1h3v1h-3zM203.8 141.1h2v1h-2zM262.6 141.1h2v1h-2zM268.5 141.1h1v1h-1zM270.5 141.1h1v1h-1zM275.4 141.1h1v1h-1zM277.3 141.1h1v1h-1zM300.9 141.1h1v1h-1zM308.7 141.1h1v1h-1zM315.6 141.1h1v1h-1zM338.1 141.1h1v1h-1zM352.8 141.1h1v1h-1zM382.2 141.1h1v1h-1zM144.1 142.1h2v1h-2zM148 142.1h2v1h-2zM153.9 142.1h2v1h-2zM156.8 142.1h1v1h-1zM159.7 142.1h1v1h-1zM163.7 142.1h1v1h-1zM166.6 142.1h1v1h-1zM169.5 142.1h1v1h-1zM181.3 142.1h1v1h-1zM192.1 142.1h1v1h-1zM194 142.1h2v1h-2zM197 142.1h1v1h-1zM199.9 142.1h3v1h-3zM203.8 142.1h1v1h-1zM256.8 142.1h1v1h-1zM268.5 142.1h1v1h-1zM277.3 142.1h1v1h-1zM299.9 142.1h1v1h-1zM144.1 143.1h1v1h-1zM148 143.1h1v1h-1zM150.9 143.1h2v1h-2zM167.6 143.1h1v1h-1zM172.5 143.1h1v1h-1zM193.1 143.1h2v1h-2zM196 143.1h1v1h-1zM203.8 143.1h1v1h-1zM248.9 143.1h1v1h-1zM251.9 143.1h1v1h-1zM257.7 143.1h1v1h-1zM262.6 143.1h1v1h-1zM271.5 143.1h1v1h-1zM274.4 143.1h2v1h-2zM277.3 143.1h1v1h-1zM297.9 143.1h3v1h-3zM304.8 143.1h1v1h-1zM307.7 143.1h2v1h-2zM315.6 143.1h2v1h-2zM345.9 143.1h1v1h-1zM349.9 143.1h1v1h-1zM381.2 143.1h1v1h-1zM385.1 143.1h1v1h-1zM146 144.1h2v1h-2zM156.8 144.1h1v1h-1zM158.8 144.1h1v1h-1zM165.6 144.1h1v1h-1zM181.3 144.1h1v1h-1zM147 145h2v1h-2zM152.9 145h1v1h-1zM158.8 145h2v1h-2zM164.6 145h2v1h-2zM168.6 145h1v1h-1zM170.5 145h1v1h-1zM202.9 145h1v1h-1zM216.6 145h1v1h-1zM219.5 145h1v1h-1zM308.7 145h1v1h-1zM387.1 145h1v1h-1zM148 146h1v1h-1zM150.9 146h1v1h-1zM154.8 146h1v1h-1zM159.7 146h1v1h-1zM172.5 146h1v1h-1zM176.4 146h1v1h-1zM181.3 146h2v1h-2zM192.1 146h4v1h-4zM198 146h1v1h-1zM200.9 146h1v1h-1zM204.8 146h1v1h-1zM256.8 146h1v1h-1zM263.6 146h1v1h-1zM271.5 146h1v1h-1zM275.4 146h2v1h-2zM299.9 146h1v1h-1zM308.7 146h1v1h-1zM315.6 146h2v1h-2zM148 147h1v1h-1zM150.9 147h1v1h-1zM153.9 147h2v1h-2zM158.8 147h2v1h-2zM162.7 147h1v1h-1zM164.6 147h1v1h-1zM166.6 147h1v1h-1zM172.5 147h1v1h-1zM176.4 147h1v1h-1zM192.1 147h1v1h-1zM194 147h1v1h-1zM197 147h1v1h-1zM199.9 147h1v1h-1zM201.9 147h1v1h-1zM204.8 147h2v1h-2zM224.4 147h1v1h-1zM256.8 147h1v1h-1zM263.6 147h1v1h-1zM276.4 147h1v1h-1zM308.7 147h1v1h-1zM149 148h1v1h-1zM152.9 148h2v1h-2zM165.6 148h1v1h-1zM168.6 148h2v1h-2zM198.9 148h1v1h-1zM202.9 148h1v1h-1zM381.2 148h2v1h-2zM384.2 148h1v1h-1zM149.9 149h2v1h-2zM154.8 149h2v1h-2zM159.7 149h1v1h-1zM164.6 149h1v1h-1zM168.6 149h1v1h-1zM170.5 149h2v1h-2zM182.3 149h1v1h-1zM198.9 149h1v1h-1zM201.9 149h2v1h-2zM204.8 149h2v1h-2zM220.5 149h1v1h-1zM263.6 149h1v1h-1zM379.3 149h1v1h-1zM381.2 149h2v1h-2zM154.8 149.9h2v1h-2zM158.8 149.9h1v1h-1zM162.7 149.9h1v1h-1zM164.6 149.9h3v1h-3zM168.6 149.9h1v1h-1zM170.5 149.9h1v1h-1zM198.9 149.9h1v1h-1zM154.8 150.9h2v1h-2zM159.7 150.9h1v1h-1zM164.6 150.9h3v1h-3zM168.6 150.9h1v1h-1zM198.9 150.9h1v1h-1zM387.1 150.9h1v1h-1zM154.8 151.9h1v1h-1zM158.8 151.9h2v1h-2zM168.6 151.9h3v1h-3zM198.9 151.9h1v1h-1zM202.9 151.9h1v1h-1zM161.7 152.9h1v1h-1zM172.5 152.9h1v1h-1zM182.3 152.9h1v1h-1zM184.2 152.9h1v1h-1zM194 152.9h1v1h-1zM200.9 152.9h1v1h-1zM203.8 152.9h2v1h-2zM257.7 152.9h1v1h-1zM262.6 152.9h1v1h-1zM270.5 152.9h2v1h-2zM274.4 152.9h1v1h-1zM276.4 152.9h2v1h-2zM296.9 152.9h3v1h-3zM308.7 152.9h1v1h-1zM316.5 152.9h1v1h-1zM345.9 152.9h1v1h-1zM163.7 153.9h3v1h-3zM169.5 153.9h1v1h-1zM172.5 153.9h1v1h-1zM181.3 153.9h1v1h-1zM192.1 153.9h1v1h-1zM201.9 153.9h1v1h-1zM203.8 153.9h2v1h-2zM240.1 153.9h1v1h-1zM245 153.9h1v1h-1zM263.6 153.9h1v1h-1zM268.5 153.9h1v1h-1zM308.7 153.9h1v1h-1zM163.7 154.8h1v1h-1zM166.6 154.8h2v1h-2zM169.5 154.8h1v1h-1zM181.3 154.8h1v1h-1zM194 154.8h2v1h-2zM203.8 154.8h1v1h-1zM219.5 154.8h3v1h-3zM263.6 154.8h1v1h-1zM160.7 155.8h1v1h-1zM167.6 155.8h1v1h-1zM169.5 155.8h1v1h-1zM182.3 155.8h1v1h-1zM192.1 155.8h1v1h-1zM194 155.8h1v1h-1zM198 155.8h1v1h-1zM199.9 155.8h2v1h-2zM203.8 155.8h2v1h-2zM257.7 155.8h1v1h-1zM263.6 155.8h1v1h-1zM272.4 155.8h1v1h-1zM308.7 155.8h1v1h-1zM316.5 155.8h1v1h-1zM173.5 156.8h2v1h-2zM182.3 156.8h1v1h-1zM185.2 156.8h1v1h-1zM192.1 156.8h3v1h-3zM203.8 156.8h1v1h-1zM248.9 156.8h1v1h-1zM255.8 156.8h3v1h-3zM262.6 156.8h2v1h-2zM268.5 156.8h1v1h-1zM270.5 156.8h1v1h-1zM272.4 156.8h1v1h-1zM274.4 156.8h3v1h-3zM296.9 156.8h2v1h-2zM299.9 156.8h2v1h-2zM315.6 156.8h2v1h-2zM345.9 156.8h1v1h-1zM174.4 157.8h1v1h-1zM177.4 157.8h1v1h-1zM180.3 157.8h1v1h-1zM188.2 157.8h1v1h-1zM208.7 157.8h1v1h-1zM248.9 157.8h2v1h-2zM252.8 157.8h1v1h-1zM254.8 157.8h1v1h-1zM265.6 157.8h2v1h-2zM269.5 157.8h1v1h-1zM273.4 157.8h1v1h-1zM280.3 157.8h1v1h-1zM302.8 157.8h1v1h-1zM310.7 157.8h2v1h-2zM313.6 157.8h2v1h-2zM317.5 157.8h3v1h-3zM325.4 157.8h1v1h-1zM327.3 157.8h2v1h-2zM334.2 157.8h1v1h-1zM338.1 157.8h1v1h-1zM345 157.8h5.9v1h-5.9zM160.7 158.8h2v1h-2zM172.5 158.8h2v1h-2zM176.4 158.8h1v1h-1zM192.1 158.8h1v1h-1zM195 158.8h1v1h-1zM199.9 158.8h2v1h-2zM205.8 158.8h1v1h-1zM256.8 158.8h1v1h-1zM262.6 158.8h1v1h-1zM268.5 158.8h1v1h-1zM274.4 158.8h1v1h-1zM299.9 158.8h1v1h-1zM308.7 158.8h1v1h-1zM315.6 158.8h1v1h-1zM317.5 158.8h1v1h-1zM161.7 159.7h1v1h-1zM176.4 159.7h1v1h-1zM182.3 159.7h1v1h-1zM197 159.7h1v1h-1zM201.9 159.7h1v1h-1zM203.8 159.7h2v1h-2zM256.8 159.7h1v1h-1zM263.6 159.7h1v1h-1zM268.5 159.7h1v1h-1zM270.5 159.7h1v1h-1zM274.4 159.7h2v1h-2zM277.3 159.7h1v1h-1zM300.9 159.7h1v1h-1zM310.7 159.7h1v1h-1zM163.7 160.7h2v1h-2zM170.5 160.7h1v1h-1zM198.9 160.7h1v1h-1zM202.9 160.7h1v1h-1zM205.8 160.7h1v1h-1zM244 160.7h3v1h-3zM263.6 160.7h1v1h-1zM162.7 161.7h3v1h-3zM166.6 161.7h1v1h-1zM170.5 161.7h1v1h-1zM181.3 161.7h1v1h-1zM205.8 161.7h1v1h-1zM250.9 161.7h1v1h-1zM252.8 161.7h1v1h-1zM257.7 161.7h1v1h-1zM167.6 162.7h1v1h-1zM172.5 162.7h1v1h-1zM176.4 162.7h1v1h-1zM192.1 162.7h1v1h-1zM197 162.7h2v1h-2zM201.9 162.7h3v1h-3zM256.8 162.7h1v1h-1zM167.6 163.7h1v1h-1zM172.5 163.7h2v1h-2zM176.4 163.7h1v1h-1zM182.3 163.7h1v1h-1zM194 163.7h2v1h-2zM198 163.7h1v1h-1zM199.9 163.7h1v1h-1zM201.9 163.7h1v1h-1zM256.8 163.7h1v1h-1zM275.4 163.7h1v1h-1zM308.7 163.7h1v1h-1zM172.5 164.6h1v1h-1zM176.4 164.6h1v1h-1zM179.3 164.6h1v1h-1zM182.3 164.6h1v1h-1zM192.1 164.6h1v1h-1zM194 164.6h1v1h-1zM198 164.6h1v1h-1zM199.9 164.6h1v1h-1zM201.9 164.6h1v1h-1zM203.8 164.6h2v1h-2zM262.6 164.6h1v1h-1zM268.5 164.6h1v1h-1zM272.4 164.6h1v1h-1zM275.4 164.6h1v1h-1zM277.3 164.6h1v1h-1zM298.9 164.6h1v1h-1zM307.7 164.6h1v1h-1zM173.5 165.6h2v1h-2zM184.2 165.6h2v1h-2zM189.1 165.6h2v1h-2zM193.1 165.6h1v1h-1zM196 165.6h1v1h-1zM252.8 165.6h1v1h-1zM255.8 165.6h1v1h-1zM257.7 165.6h1v1h-1zM266.6 165.6h1v1h-1zM268.5 165.6h1v1h-1zM270.5 165.6h3v1h-3zM277.3 165.6h1v1h-1zM296.9 165.6h1v1h-1zM299.9 165.6h2v1h-2zM308.7 165.6h1v1h-1zM310.7 165.6h1v1h-1zM314.6 165.6h2v1h-2zM338.1 165.6h2v1h-2zM347.9 165.6h1v1h-1zM349.9 165.6h1v1h-1zM173.5 166.6h1v1h-1zM176.4 166.6h1v1h-1zM182.3 166.6h1v1h-1zM184.2 166.6h1v1h-1zM194 166.6h2v1h-2zM197 166.6h1v1h-1zM199.9 166.6h1v1h-1zM203.8 166.6h1v1h-1zM248.9 166.6h1v1h-1zM251.9 166.6h1v1h-1zM257.7 166.6h1v1h-1zM262.6 166.6h1v1h-1zM268.5 166.6h1v1h-1zM272.4 166.6h1v1h-1zM274.4 166.6h4v1h-4zM300.9 166.6h1v1h-1zM308.7 166.6h1v1h-1zM172.5 167.6h1v1h-1zM176.4 167.6h1v1h-1zM181.3 167.6h1v1h-1zM197 167.6h2v1h-2zM199.9 167.6h1v1h-1zM202.9 167.6h1v1h-1zM204.8 167.6h1v1h-1zM275.4 167.6h1v1h-1zM178.4 168.6h1v1h-1zM184.2 168.6h2v1h-2zM193.1 168.6h1v1h-1zM228.3 168.6h1v1h-1zM249.9 168.6h1v1h-1zM251.9 168.6h1v1h-1zM255.8 168.6h1v1h-1zM265.6 168.6h1v1h-1zM270.5 168.6h4v1h-4zM276.4 168.6h1v1h-1zM280.3 168.6h1v1h-1zM296.9 168.6h2v1h-2zM299.9 168.6h2v1h-2zM315.6 168.6h1v1h-1zM317.5 168.6h1v1h-1zM338.1 168.6h2v1h-2zM347.9 168.6h1v1h-1zM174.4 169.5h1v1h-1zM182.3 169.5h1v1h-1zM192.1 169.5h1v1h-1zM195 169.5h1v1h-1zM197 169.5h2v1h-2zM199.9 169.5h3v1h-3zM203.8 169.5h2v1h-2zM256.8 169.5h1v1h-1zM262.6 169.5h2v1h-2zM271.5 169.5h1v1h-1zM277.3 169.5h1v1h-1zM285.2 169.5h1v1h-1zM300.9 169.5h1v1h-1zM318.5 169.5h1v1h-1zM320.5 169.5h1v1h-1zM327.3 169.5h1v1h-1zM184.2 170.5h1v1h-1zM193.1 170.5h2v1h-2zM198 170.5h1v1h-1zM200.9 170.5h1v1h-1zM203.8 170.5h2v1h-2zM248.9 170.5h1v1h-1zM257.7 170.5h1v1h-1zM263.6 170.5h1v1h-1zM268.5 170.5h1v1h-1zM270.5 170.5h2v1h-2zM274.4 170.5h4v1h-4zM300.9 170.5h1v1h-1zM308.7 170.5h1v1h-1zM316.5 170.5h1v1h-1zM345.9 170.5h1v1h-1zM174.4 171.5h2v1h-2zM178.4 171.5h2v1h-2zM185.2 171.5h1v1h-1zM188.2 171.5h4v1h-4zM196 171.5h1v1h-1zM212.7 171.5h1v1h-1zM238.1 171.5h1v1h-1zM247.9 171.5h2v1h-2zM252.8 171.5h1v1h-1zM254.8 171.5h2v1h-2zM267.5 171.5h1v1h-1zM273.4 171.5h1v1h-1zM296.9 171.5h1v1h-1zM302.8 171.5h1v1h-1zM305.8 171.5h1v1h-1zM310.7 171.5h1v1h-1zM314.6 171.5h1v1h-1zM317.5 171.5h3v1h-3zM323.4 171.5h1v1h-1zM328.3 171.5h1v1h-1zM334.2 171.5h1v1h-1zM339.1 171.5h1v1h-1zM346.9 171.5h3v1h-3zM173.5 172.5h1v1h-1zM182.3 172.5h1v1h-1zM195 172.5h1v1h-1zM197 172.5h2v1h-2zM201.9 172.5h5v1h-5zM263.6 172.5h1v1h-1zM275.4 172.5h3v1h-3zM181.3 173.5h1v1h-1zM198.9 173.5h1v1h-1zM202.9 173.5h1v1h-1zM205.8 173.5h1v1h-1zM282.2 173.5h1v1h-1zM284.2 173.5h1v1h-1zM292 173.5h1v1h-1zM297.9 173.5h1v1h-1zM181.3 174.4h1v1h-1zM212.7 174.4h1v1h-1zM332.2 175.4h1v1h-1zM334.2 175.4h1v1h-1zM336.1 175.4h1v1h-1zM345 175.4h1v1h-1zM346.9 175.4h1v1h-1zM182.3 176.4h1v1h-1zM184.2 176.4h1v1h-1zM192.1 176.4h1v1h-1zM198 176.4h1v1h-1zM200.9 176.4h1v1h-1zM205.8 176.4h1v1h-1zM257.7 176.4h1v1h-1zM262.6 176.4h2v1h-2zM270.5 176.4h2v1h-2zM274.4 176.4h4v1h-4zM300.9 176.4h1v1h-1zM308.7 176.4h1v1h-1zM316.5 176.4h1v1h-1zM181.3 177.4h1v1h-1zM205.8 177.4h1v1h-1zM278.3 177.4h2v1h-2zM282.2 177.4h2v1h-2zM288.1 177.4h1v1h-1zM320.5 177.4h1v1h-1zM329.3 177.4h1v1h-1zM332.2 177.4h1v1h-1zM336.1 177.4h1v1h-1zM338.1 177.4h1v1h-1zM198.9 178.4h1v1h-1zM205.8 178.4h1v1h-1zM282.2 178.4h1v1h-1zM284.2 178.4h1v1h-1zM297.9 178.4h1v1h-1zM336.1 178.4h1v1h-1zM338.1 178.4h1v1h-1zM345 178.4h1v1h-1zM346.9 178.4h1v1h-1zM202.9 179.3h1v1h-1zM204.8 179.3h1v1h-1zM263.6 179.3h1v1h-1zM276.4 179.3h1v1h-1zM278.3 179.3h1v1h-1zM318.5 179.3h1v1h-1zM320.5 179.3h1v1h-1zM327.3 179.3h1v1h-1zM329.3 179.3h1v1h-1zM202.9 180.3h1v1h-1zM256.8 180.3h1v1h-1zM263.6 180.3h1v1h-1zM282.2 180.3h1v1h-1zM284.2 180.3h1v1h-1zM286.2 180.3h1v1h-1zM292 180.3h2v1h-2zM319.5 180.3h1v1h-1zM325.4 180.3h1v1h-1zM327.3 180.3h1v1h-1zM334.2 180.3h1v1h-1zM183.3 181.3h1v1h-1zM186.2 181.3h1v1h-1zM188.2 181.3h3v1h-3zM196 181.3h1v1h-1zM198 181.3h1v1h-1zM219.5 181.3h1v1h-1zM247.9 181.3h1v1h-1zM249.9 181.3h1v1h-1zM251.9 181.3h2v1h-2zM254.8 181.3h2v1h-2zM266.6 181.3h2v1h-2zM273.4 181.3h1v1h-1zM299.9 181.3h1v1h-1zM304.8 181.3h1v1h-1zM307.7 181.3h1v1h-1zM310.7 181.3h2v1h-2zM313.6 181.3h1v1h-1zM316.5 181.3h1v1h-1zM319.5 181.3h1v1h-1zM334.2 181.3h1v1h-1zM336.1 181.3h1v1h-1zM338.1 181.3h2v1h-2zM345.9 181.3h1v1h-1zM347.9 181.3h1v1h-1zM183.3 182.3h1v1h-1zM185.2 182.3h1v1h-1zM188.2 182.3h1v1h-1zM194 182.3h1v1h-1zM198 182.3h1v1h-1zM199.9 182.3h2v1h-2zM203.8 182.3h2v1h-2zM248.9 182.3h1v1h-1zM257.7 182.3h1v1h-1zM262.6 182.3h1v1h-1zM266.6 182.3h1v1h-1zM271.5 182.3h1v1h-1zM274.4 182.3h3v1h-3zM296.9 182.3h1v1h-1zM298.9 182.3h1v1h-1zM308.7 182.3h1v1h-1zM327.3 182.3h1v1h-1zM345.9 182.3h1v1h-1zM192.1 184.2h1v1h-1zM195 184.2h1v1h-1zM198 184.2h1v1h-1zM199.9 184.2h1v1h-1zM202.9 184.2h4v1h-4zM262.6 184.2h2v1h-2zM268.5 184.2h1v1h-1zM271.5 184.2h1v1h-1zM274.4 184.2h1v1h-1zM300.9 184.2h1v1h-1zM311.6 184.2h1v1h-1zM345.9 184.2h1v1h-1zM192.1 185.2h1v1h-1zM195 185.2h1v1h-1zM198.9 185.2h2v1h-2zM205.8 185.2h1v1h-1zM256.8 185.2h1v1h-1zM263.6 185.2h1v1h-1zM275.4 185.2h1v1h-1zM277.3 185.2h1v1h-1zM192.1 188.2h1v1h-1zM198.9 188.2h1v1h-1zM195 189.1h1v1h-1zM202.9 189.1h1v1h-1zM205.8 189.1h1v1h-1zM241.1 189.1h1v1h-1zM192.1 190.1h1v1h-1zM197 190.1h1v1h-1zM198.9 190.1h1v1h-1zM256.8 190.1h2v1h-2zM263.6 190.1h1v1h-1zM274.4 190.1h1v1h-1zM192.1 191.1h1v1h-1zM194 191.1h2v1h-2zM202.9 191.1h1v1h-1zM243 191.1h1v1h-1zM263.6 191.1h1v1h-1zM251.9 192.1h2v1h-2zM255.8 192.1h1v1h-1zM266.6 192.1h2v1h-2zM271.5 192.1h3v1h-3zM296.9 192.1h1v1h-1zM300.9 192.1h1v1h-1zM327.3 192.1h1v1h-1zM345.9 192.1h1v1h-1zM349.9 192.1h1v1h-1zM199.9 193.1h1v1h-1zM201.9 193.1h1v1h-1zM203.8 193.1h3v1h-3zM250.9 193.1h1v1h-1zM256.8 193.1h2v1h-2zM262.6 193.1h2v1h-2zM268.5 193.1h1v1h-1zM274.4 193.1h4v1h-4zM204.8 194h1v1h-1zM262.6 194h1v1h-1zM271.5 194h1v1h-1zM273.4 194h1v1h-1zM275.4 194h3v1h-3zM300.9 194h1v1h-1zM308.7 194h1v1h-1zM311.6 194h1v1h-1zM315.6 194h1v1h-1zM200.9 195h1v1h-1zM203.8 195h1v1h-1zM251.9 195h1v1h-1zM255.8 195h1v1h-1zM262.6 195h1v1h-1zM265.6 195h1v1h-1zM271.5 195h1v1h-1zM275.4 195h3v1h-3zM297.9 195h2v1h-2zM300.9 195h1v1h-1zM308.7 195h1v1h-1zM315.6 195h2v1h-2zM338.1 195h2v1h-2zM345.9 195h1v1h-1zM198 196h1v1h-1zM199.9 196h1v1h-1zM203.8 196h1v1h-1zM205.8 196h1v1h-1zM263.6 196h1v1h-1zM275.4 196h3v1h-3zM248.9 197h1v1h-1zM252.8 197h1v1h-1zM266.6 197h1v1h-1zM271.5 197h1v1h-1zM308.7 197h2v1h-2zM311.6 197h1v1h-1zM338.1 197h1v1h-1zM249.9 198h1v1h-1zM257.7 198h1v1h-1zM262.6 198h1v1h-1zM266.6 198h1v1h-1zM270.5 198h2v1h-2zM274.4 198h2v1h-2zM298.9 198h1v1h-1zM308.7 198h1v1h-1zM345.9 198h1v1h-1zM389.1 198h1v1h-1zM206.8 198.9h1v1h-1zM212.7 198.9h1v1h-1zM220.5 198.9h1v1h-1zM238.1 198.9h1v1h-1zM247 198.9h1v1h-1zM249.9 198.9h1v1h-1zM253.8 198.9h1v1h-1zM261.7 198.9h1v1h-1zM280.3 198.9h1v1h-1zM304.8 198.9h1v1h-1zM311.6 198.9h2v1h-2zM314.6 198.9h1v1h-1zM319.5 198.9h1v1h-1zM321.4 198.9h1v1h-1zM323.4 198.9h1v1h-1zM328.3 198.9h1v1h-1zM334.2 198.9h1v1h-1zM339.1 198.9h2v1h-2zM345 198.9h1v1h-1zM348.9 198.9h1v1h-1zM241.1 199.9h1v1h-1zM248.9 199.9h1v1h-1zM251.9 199.9h1v1h-1zM255.8 199.9h1v1h-1zM267.5 199.9h1v1h-1zM270.5 199.9h5v1h-5zM276.4 199.9h1v1h-1zM296.9 199.9h3v1h-3zM300.9 199.9h1v1h-1zM310.7 199.9h1v1h-1zM334.2 199.9h1v1h-1zM338.1 199.9h1v1h-1zM345.9 199.9h1v1h-1zM349.9 199.9h1v1h-1zM228.3 200.9h1v1h-1zM249.9 200.9h1v1h-1zM255.8 200.9h1v1h-1zM262.6 200.9h1v1h-1zM265.6 200.9h1v1h-1zM272.4 200.9h1v1h-1zM297.9 200.9h2v1h-2zM300.9 200.9h1v1h-1zM308.7 200.9h1v1h-1zM311.6 200.9h1v1h-1zM316.5 200.9h1v1h-1zM228.3 201.9h1v1h-1zM249.9 201.9h1v1h-1zM252.8 201.9h1v1h-1zM255.8 201.9h1v1h-1zM265.6 201.9h1v1h-1zM267.5 201.9h1v1h-1zM272.4 201.9h2v1h-2zM288.1 201.9h2v1h-2zM296.9 201.9h5v1h-5zM304.8 201.9h1v1h-1zM307.7 201.9h1v1h-1zM315.6 201.9h1v1h-1zM318.5 201.9h1v1h-1zM325.4 201.9h1v1h-1zM328.3 201.9h1v1h-1zM338.1 201.9h1v1h-1zM345.9 201.9h1v1h-1zM347.9 201.9h3v1h-3zM206.8 202.9h1v1h-1zM208.7 202.9h2v1h-2zM228.3 202.9h1v1h-1zM247 202.9h1v1h-1zM248.9 202.9h2v1h-2zM254.8 202.9h2v1h-2zM265.6 202.9h2v1h-2zM280.3 202.9h1v1h-1zM286.2 202.9h1v1h-1zM288.1 202.9h1v1h-1zM296.9 202.9h1v1h-1zM302.8 202.9h1v1h-1zM304.8 202.9h2v1h-2zM316.5 202.9h1v1h-1zM318.5 202.9h1v1h-1zM325.4 202.9h1v1h-1zM327.3 202.9h2v1h-2zM334.2 202.9h1v1h-1zM339.1 202.9h2v1h-2zM346.9 202.9h4v1h-4zM248.9 203.8h1v1h-1zM251.9 203.8h2v1h-2zM255.8 203.8h1v1h-1zM257.7 203.8h1v1h-1zM271.5 203.8h4v1h-4zM297.9 203.8h1v1h-1zM300.9 203.8h1v1h-1zM304.8 203.8h1v1h-1zM310.7 203.8h1v1h-1zM316.5 203.8h1v1h-1zM318.5 203.8h1v1h-1zM345.9 203.8h1v1h-1zM349.9 203.8h1v1h-1zM208.7 204.8h1v1h-1zM248.9 204.8h2v1h-2zM251.9 204.8h2v1h-2zM255.8 204.8h1v1h-1zM257.7 204.8h1v1h-1zM266.6 204.8h2v1h-2zM270.5 204.8h1v1h-1zM272.4 204.8h2v1h-2zM286.2 204.8h1v1h-1zM288.1 204.8h2v1h-2zM297.9 204.8h1v1h-1zM299.9 204.8h2v1h-2zM315.6 204.8h2v1h-2zM318.5 204.8h1v1h-1zM338.1 204.8h1v1h-1zM206.8 205.8h2v1h-2zM209.7 205.8h1v1h-1zM234.2 205.8h1v1h-1zM238.1 205.8h1v1h-1zM249.9 205.8h1v1h-1zM252.8 205.8h1v1h-1zM264.6 205.8h1v1h-1zM269.5 205.8h1v1h-1zM298.9 205.8h1v1h-1zM304.8 205.8h2v1h-2zM307.7 205.8h1v1h-1zM310.7 205.8h2v1h-2zM314.6 205.8h1v1h-1zM325.4 205.8h1v1h-1zM327.3 205.8h1v1h-1zM334.2 205.8h1v1h-1zM339.1 205.8h1v1h-1zM345 205.8h1v1h-1zM346.9 205.8h3v1h-3zM351.8 205.8h1v1h-1zM361.6 206.8h1v1h-1zM256.8 208.7h1v1h-1zM263.6 208.7h1v1h-1zM268.5 208.7h1v1h-1zM293 209.7h1v1h-1zM389.1 210.7h2v1h-2zM256.8 211.7h1v1h-1zM263.6 211.7h1v1h-1zM257.7 212.7h1v1h-1zM262.6 212.7h1v1h-1zM274.4 212.7h4v1h-4zM243 214.6h1v1h-1zM389.1 216.6h2v1h-2zM256.8 218.5h1v1h-1zM381.2 218.5h2v1h-2zM388.1 218.5h1v1h-1zM220.5 219.5h1v1h-1zM228.3 219.5h1v1h-1zM251.9 219.5h2v1h-2zM255.8 219.5h1v1h-1zM267.5 219.5h1v1h-1zM273.4 219.5h3v1h-3zM297.9 219.5h1v1h-1zM300.9 219.5h1v1h-1zM318.5 219.5h1v1h-1zM228.3 220.5h1v1h-1zM248.9 220.5h1v1h-1zM251.9 220.5h2v1h-2zM255.8 220.5h1v1h-1zM257.7 220.5h1v1h-1zM266.6 220.5h1v1h-1zM270.5 220.5h1v1h-1zM272.4 220.5h1v1h-1zM300.9 220.5h1v1h-1zM308.7 220.5h1v1h-1zM315.6 220.5h1v1h-1zM376.3 220.5h1v1h-1zM388.1 220.5h3v1h-3zM256.8 221.5h2v1h-2zM262.6 221.5h1v1h-1zM268.5 221.5h1v1h-1zM270.5 221.5h1v1h-1zM275.4 221.5h3v1h-3zM309.7 221.5h1v1h-1zM381.2 221.5h1v1h-1zM390 221.5h1v1h-1zM243 222.5h1v1h-1zM251.9 222.5h1v1h-1zM388.1 222.5h1v1h-1zM310.7 223.4h1v1h-1zM228.3 227.4h1v1h-1zM251.9 227.4h2v1h-2zM257.7 227.4h1v1h-1zM262.6 227.4h1v1h-1zM268.5 227.4h1v1h-1zM270.5 227.4h1v1h-1zM274.4 227.4h1v1h-1zM276.4 227.4h1v1h-1zM300.9 227.4h1v1h-1zM307.7 227.4h2v1h-2zM316.5 227.4h1v1h-1zM238.1 228.3h2v1h-2zM251.9 228.3h2v1h-2zM254.8 228.3h2v1h-2zM261.7 228.3h1v1h-1zM264.6 228.3h2v1h-2zM267.5 228.3h1v1h-1zM273.4 228.3h1v1h-1zM280.3 228.3h1v1h-1zM296.9 228.3h4v1h-4zM304.8 228.3h1v1h-1zM310.7 228.3h2v1h-2zM317.5 228.3h3v1h-3zM307.7 230.3h1v1h-1zM263.6 231.3h1v1h-1zM270.5 232.3h1v1h-1zM309.7 232.3h2v1h-2zM255.8 234.2h2v1h-2zM262.6 234.2h1v1h-1zM265.6 234.2h1v1h-1zM270.5 234.2h3v1h-3zM274.4 234.2h2v1h-2zM277.3 234.2h1v1h-1zM301.8 234.2h1v1h-1zM306.7 234.2h1v1h-1zM308.7 234.2h1v1h-1zM310.7 234.2h1v1h-1zM239.1 238.1h1v1h-1zM248.9 238.1h2v1h-2zM251.9 238.1h2v1h-2zM255.8 238.1h1v1h-1zM257.7 238.1h1v1h-1zM266.6 238.1h2v1h-2zM272.4 238.1h1v1h-1zM292 238.1h3v1h-3zM300.9 238.1h1v1h-1zM308.7 238.1h1v1h-1zM251.9 239.1h1v1h-1zM255.8 239.1h1v1h-1zM257.7 239.1h1v1h-1zM270.5 239.1h2v1h-2zM275.4 239.1h2v1h-2zM295 239.1h1v1h-1zM303.8 239.1h1v1h-1zM256.8 244h1v1h-1zM268.5 244h1v1h-1zM263.6 245h1v1h-1zM342 246h1v1h-1zM247.9 247h1v1h-1zM257.7 247h1v1h-1zM266.6 247h1v1h-1zM268.5 247h1v1h-1zM270.5 247h1v1h-1zM275.4 247h1v1h-1zM311.6 247h1v1h-1zM314.6 247h2v1h-2zM333.2 247h2v1h-2zM336.1 247h1v1h-1zM251.9 247.9h2v1h-2zM255.8 247.9h1v1h-1zM257.7 247.9h1v1h-1zM262.6 247.9h1v1h-1zM270.5 247.9h2v1h-2zM274.4 247.9h1v1h-1zM345.9 247.9h1v1h-1zM253.8 248.9h2v1h-2zM267.5 248.9h1v1h-1zM273.4 248.9h1v1h-1zM280.3 248.9h2v1h-2zM296.9 248.9h1v1h-1zM298.9 248.9h1v1h-1zM304.8 248.9h1v1h-1zM307.7 248.9h1v1h-1zM310.7 248.9h2v1h-2zM325.4 248.9h1v1h-1zM327.3 248.9h1v1h-1zM338.1 248.9h1v1h-1zM346.9 248.9h2v1h-2zM351.8 248.9h1v1h-1zM254.8 249.9h2v1h-2zM257.7 249.9h1v1h-1zM271.5 249.9h1v1h-1zM276.4 249.9h1v1h-1zM297.9 249.9h1v1h-1zM300.9 249.9h1v1h-1zM316.5 249.9h1v1h-1zM328.3 249.9h1v1h-1zM338.1 249.9h1v1h-1zM345.9 249.9h1v1h-1zM349.9 249.9h1v1h-1zM309.7 250.9h1v1h-1zM316.5 250.9h1v1h-1zM319.5 250.9h1v1h-1zM253.8 251.9h1v1h-1zM265.6 251.9h3v1h-3zM270.5 251.9h1v1h-1zM273.4 251.9h1v1h-1zM281.3 251.9h1v1h-1zM297.9 251.9h1v1h-1zM299.9 251.9h2v1h-2zM304.8 251.9h1v1h-1zM307.7 251.9h2v1h-2zM310.7 251.9h1v1h-1zM312.6 251.9h1v1h-1zM318.5 251.9h1v1h-1zM325.4 251.9h1v1h-1zM327.3 251.9h1v1h-1zM338.1 251.9h2v1h-2zM349.9 251.9h1v1h-1zM253.8 252.8h1v1h-1zM260.7 252.8h1v1h-1zM262.6 252.8h1v1h-1zM266.6 252.8h2v1h-2zM273.4 252.8h1v1h-1zM280.3 252.8h1v1h-1zM299.9 252.8h2v1h-2zM305.8 252.8h1v1h-1zM310.7 252.8h1v1h-1zM317.5 252.8h1v1h-1zM333.2 252.8h1v1h-1zM336.1 252.8h1v1h-1zM338.1 252.8h1v1h-1zM342 252.8h1v1h-1zM344 252.8h1v1h-1zM254.8 253.8h2v1h-2zM257.7 253.8h1v1h-1zM262.6 253.8h1v1h-1zM268.5 253.8h1v1h-1zM270.5 253.8h1v1h-1zM274.4 253.8h2v1h-2zM277.3 253.8h1v1h-1zM309.7 253.8h1v1h-1zM316.5 253.8h1v1h-1zM319.5 253.8h1v1h-1zM330.3 253.8h1v1h-1zM333.2 253.8h1v1h-1zM335.2 253.8h1v1h-1zM344 253.8h1v1h-1zM345.9 253.8h1v1h-1zM265.6 254.8h1v1h-1zM272.4 254.8h1v1h-1zM296.9 254.8h1v1h-1zM298.9 254.8h3v1h-3zM304.8 254.8h1v1h-1zM327.3 254.8h1v1h-1zM331.2 254.8h1v1h-1zM333.2 254.8h2v1h-2zM341 254.8h2v1h-2zM344 254.8h1v1h-1zM345.9 254.8h1v1h-1zM258.7 255.8h1v1h-1zM267.5 255.8h1v1h-1zM270.5 255.8h4v1h-4zM280.3 255.8h2v1h-2zM297.9 255.8h2v1h-2zM307.7 255.8h1v1h-1zM311.6 255.8h1v1h-1zM315.6 255.8h3v1h-3zM328.3 255.8h1v1h-1zM338.1 255.8h1v1h-1zM347.9 255.8h1v1h-1zM349.9 255.8h1v1h-1zM351.8 255.8h1v1h-1zM282.2 256.8h1v1h-1zM285.2 256.8h2v1h-2zM296.9 256.8h1v1h-1zM302.8 256.8h2v1h-2zM311.6 256.8h3v1h-3zM320.5 256.8h4v1h-4zM343 256.8h3v1h-3zM351.8 256.8h1v1h-1zM355.7 256.8h1v1h-1zM259.7 257.7h1v1h-1zM261.7 257.7h1v1h-1zM264.6 257.7h1v1h-1zM280.3 257.7h1v1h-1zM296.9 257.7h1v1h-1zM299.9 257.7h1v1h-1zM304.8 257.7h2v1h-2zM310.7 257.7h2v1h-2zM314.6 257.7h2v1h-2zM325.4 257.7h1v1h-1zM328.3 257.7h1v1h-1zM334.2 257.7h1v1h-1zM351.8 257.7h1v1h-1zM370.4 257.7h1v1h-1zM268.5 258.7h1v1h-1zM271.5 258.7h1v1h-1zM274.4 258.7h2v1h-2zM263.6 259.7h1v1h-1zM268.5 259.7h1v1h-1zM275.4 259.7h1v1h-1zM277.3 259.7h1v1h-1zM261.7 260.7h1v1h-1zM268.5 260.7h1v1h-1zM270.5 260.7h2v1h-2zM274.4 260.7h4v1h-4zM349.9 260.7h1v1h-1zM265.6 261.7h1v1h-1zM268.5 261.7h1v1h-1zM270.5 261.7h2v1h-2zM276.4 261.7h2v1h-2zM331.2 261.7h1v1h-1zM335.2 261.7h1v1h-1zM338.1 261.7h1v1h-1zM344 261.7h1v1h-1zM273.4 262.6h1v1h-1zM282.2 262.6h1v1h-1zM286.2 262.6h1v1h-1zM305.8 262.6h1v1h-1zM307.7 262.6h1v1h-1zM310.7 262.6h2v1h-2zM313.6 262.6h1v1h-1zM317.5 262.6h2v1h-2zM323.4 262.6h1v1h-1zM325.4 262.6h1v1h-1zM328.3 262.6h1v1h-1zM334.2 262.6h1v1h-1zM340.1 262.6h1v1h-1zM345 262.6h1v1h-1zM346.9 262.6h1v1h-1zM348.9 262.6h1v1h-1zM351.8 262.6h1v1h-1zM278.3 263.6h2v1h-2zM302.8 263.6h1v1h-1zM305.8 263.6h1v1h-1zM313.6 263.6h1v1h-1zM321.4 263.6h2v1h-2zM326.3 263.6h1v1h-1zM328.3 263.6h1v1h-1zM330.3 263.6h3v1h-3zM335.2 263.6h3v1h-3zM343 263.6h1v1h-1zM378.3 263.6h1v1h-1zM267.5 264.6h1v1h-1zM272.4 264.6h1v1h-1zM275.4 264.6h1v1h-1zM300.9 264.6h1v1h-1zM308.7 264.6h1v1h-1zM330.3 264.6h2v1h-2zM333.2 264.6h1v1h-1zM345.9 264.6h1v1h-1zM347.9 264.6h1v1h-1zM269.5 265.6h1v1h-1zM299.9 265.6h1v1h-1zM308.7 265.6h1v1h-1zM315.6 265.6h1v1h-1zM338.1 265.6h1v1h-1zM345.9 265.6h1v1h-1zM348.9 265.6h2v1h-2zM351.8 265.6h1v1h-1zM269.5 266.6h1v1h-1zM280.3 266.6h1v1h-1zM296.9 266.6h3v1h-3zM304.8 266.6h1v1h-1zM307.7 266.6h1v1h-1zM319.5 266.6h1v1h-1zM338.1 266.6h1v1h-1zM345.9 266.6h2v1h-2zM349.9 266.6h1v1h-1zM281.3 267.5h1v1h-1zM296.9 267.5h1v1h-1zM298.9 267.5h1v1h-1zM304.8 267.5h1v1h-1zM310.7 267.5h2v1h-2zM315.6 267.5h3v1h-3zM338.1 267.5h2v1h-2zM347.9 267.5h1v1h-1zM349.9 267.5h1v1h-1zM279.3 268.5h1v1h-1zM282.2 268.5h1v1h-1zM286.2 268.5h1v1h-1zM302.8 268.5h1v1h-1zM305.8 268.5h1v1h-1zM310.7 268.5h2v1h-2zM314.6 268.5h2v1h-2zM317.5 268.5h3v1h-3zM321.4 268.5h1v1h-1zM323.4 268.5h1v1h-1zM334.2 268.5h2v1h-2zM340.1 268.5h1v1h-1zM343 268.5h1v1h-1zM272.4 269.5h2v1h-2zM300.9 269.5h1v1h-1zM308.7 269.5h1v1h-1zM327.3 269.5h1v1h-1zM345.9 269.5h1v1h-1zM279.3 270.5h1v1h-1zM296.9 270.5h3v1h-3zM307.7 270.5h1v1h-1zM310.7 270.5h2v1h-2zM314.6 270.5h1v1h-1zM317.5 270.5h2v1h-2zM327.3 270.5h1v1h-1zM340.1 270.5h1v1h-1zM349.9 270.5h1v1h-1zM351.8 270.5h1v1h-1zM280.3 271.5h2v1h-2zM296.9 271.5h2v1h-2zM302.8 271.5h1v1h-1zM304.8 271.5h1v1h-1zM307.7 271.5h1v1h-1zM309.7 271.5h1v1h-1zM311.6 271.5h1v1h-1zM317.5 271.5h1v1h-1zM325.4 271.5h1v1h-1zM334.2 271.5h1v1h-1zM340.1 271.5h1v1h-1zM344 271.5h2v1h-2zM346.9 271.5h4v1h-4zM357.7 271.5h1v1h-1zM281.3 272.4h1v1h-1zM292 272.4h2v1h-2zM297.9 272.4h3v1h-3zM301.8 272.4h1v1h-1zM307.7 272.4h1v1h-1zM310.7 272.4h2v1h-2zM316.5 272.4h3v1h-3zM323.4 272.4h1v1h-1zM327.3 272.4h1v1h-1zM334.2 272.4h1v1h-1zM348.9 272.4h2v1h-2zM351.8 272.4h1v1h-1zM280.3 273.4h2v1h-2zM297.9 273.4h2v1h-2zM300.9 273.4h2v1h-2zM305.8 273.4h1v1h-1zM310.7 273.4h1v1h-1zM315.6 273.4h1v1h-1zM325.4 273.4h1v1h-1zM328.3 273.4h1v1h-1zM338.1 273.4h2v1h-2zM347.9 273.4h2v1h-2zM278.3 274.4h2v1h-2zM285.2 274.4h2v1h-2zM296.9 274.4h1v1h-1zM302.8 274.4h1v1h-1zM305.8 274.4h1v1h-1zM310.7 274.4h2v1h-2zM314.6 274.4h1v1h-1zM319.5 274.4h1v1h-1zM323.4 274.4h1v1h-1zM334.2 274.4h1v1h-1zM340.1 274.4h1v1h-1zM344 274.4h1v1h-1zM278.3 275.4h1v1h-1zM285.2 275.4h2v1h-2zM296.9 275.4h1v1h-1zM302.8 275.4h3v1h-3zM313.6 275.4h1v1h-1zM317.5 275.4h1v1h-1zM319.5 275.4h1v1h-1zM328.3 275.4h1v1h-1zM343 275.4h3v1h-3zM278.3 276.4h1v1h-1zM285.2 276.4h2v1h-2zM303.8 276.4h3v1h-3zM309.7 276.4h1v1h-1zM311.6 276.4h4v1h-4zM317.5 276.4h1v1h-1zM323.4 276.4h1v1h-1zM328.3 276.4h1v1h-1zM334.2 276.4h1v1h-1zM340.1 276.4h1v1h-1zM344 276.4h2v1h-2zM346.9 276.4h1v1h-1zM351.8 276.4h1v1h-1zM282.2 277.3h1v1h-1zM302.8 277.3h1v1h-1zM305.8 277.3h1v1h-1zM307.7 277.3h1v1h-1zM311.6 277.3h1v1h-1zM313.6 277.3h1v1h-1zM319.5 277.3h1v1h-1zM321.4 277.3h1v1h-1zM325.4 277.3h1v1h-1zM328.3 277.3h1v1h-1zM334.2 277.3h1v1h-1zM340.1 277.3h1v1h-1zM343 277.3h2v1h-2zM346.9 277.3h1v1h-1zM351.8 277.3h1v1h-1zM280.3 279.3h1v1h-1zM282.2 280.3h1v1h-1zM285.2 280.3h1v1h-1zM300.9 280.3h1v1h-1zM308.7 280.3h1v1h-1zM282.2 281.3h1v1h-1zM348.9 281.3h1v1h-1zM375.3 282.2h1v1h-1zM371.4 287.1h1v1h-1zM375.3 287.1h2v1h-2zM294 290.1h1v1h-1zM294 293h1v1h-1zM298.9 293h3v1h-3zM297.9 294h1v1h-1zM299.9 294h1v1h-1zM302.8 296.9h2v1h-2zM309.7 296.9h2v1h-2zM313.6 296.9h2v1h-2zM317.5 296.9h3v1h-3zM323.4 296.9h1v1h-1zM338.1 296.9h1v1h-1zM301.8 297.9h1v1h-1zM303.8 297.9h1v1h-1zM309.7 297.9h1v1h-1zM311.6 297.9h2v1h-2zM314.6 297.9h1v1h-1zM317.5 297.9h3v1h-3zM322.4 297.9h1v1h-1zM339.1 297.9h1v1h-1zM349.9 297.9h1v1h-1zM301.8 298.9h1v1h-1zM309.7 298.9h1v1h-1zM312.6 298.9h3v1h-3zM327.3 298.9h1v1h-1zM338.1 298.9h2v1h-2zM345.9 298.9h1v1h-1zM303.8 299.9h1v1h-1zM313.6 299.9h3v1h-3zM319.5 299.9h1v1h-1zM322.4 299.9h1v1h-1zM325.4 299.9h1v1h-1zM327.3 299.9h1v1h-1zM339.1 299.9h1v1h-1zM345.9 299.9h1v1h-1zM347.9 299.9h3v1h-3zM306.7 300.9h1v1h-1zM313.6 300.9h1v1h-1zM321.4 300.9h2v1h-2zM334.2 300.9h1v1h-1zM338.1 300.9h2v1h-2zM346.9 300.9h1v1h-1zM348.9 300.9h1v1h-1zM351.8 300.9h1v1h-1zM303.8 301.8h2v1h-2zM308.7 301.8h1v1h-1zM316.5 301.8h1v1h-1zM305.8 302.8h1v1h-1zM309.7 302.8h2v1h-2zM315.6 302.8h2v1h-2zM345.9 302.8h1v1h-1zM305.8 303.8h1v1h-1zM310.7 303.8h2v1h-2zM309.7 304.8h1v1h-1zM319.5 304.8h1v1h-1zM323.4 304.8h1v1h-1zM325.4 304.8h1v1h-1zM339.1 304.8h1v1h-1zM345.9 304.8h1v1h-1zM309.7 305.8h1v1h-1zM313.6 305.8h1v1h-1zM316.5 305.8h4v1h-4zM325.4 305.8h1v1h-1zM345.9 305.8h1v1h-1zM349.9 305.8h1v1h-1zM307.7 306.7h1v1h-1zM312.6 307.7h1v1h-1zM321.4 307.7h1v1h-1zM323.4 307.7h1v1h-1zM338.1 307.7h1v1h-1zM320.5 308.7h4v1h-4zM328.3 308.7h1v1h-1zM334.2 308.7h1v1h-1zM345 308.7h1v1h-1zM346.9 308.7h4v1h-4zM313.6 309.7h2v1h-2zM317.5 309.7h1v1h-1zM312.6 310.7h1v1h-1zM323.4 310.7h1v1h-1zM338.1 310.7h1v1h-1zM345.9 310.7h1v1h-1zM312.6 311.6h1v1h-1zM314.6 311.6h1v1h-1zM323.4 311.6h1v1h-1zM325.4 311.6h1v1h-1zM313.6 312.6h1v1h-1zM317.5 312.6h1v1h-1zM317.5 313.6h3v1h-3zM319.5 314.6h1v1h-1zM321.4 315.6h3v1h-3zM327.3 315.6h1v1h-1zM338.1 315.6h2v1h-2zM346.9 315.6h2v1h-2zM381.2 315.6h1v1h-1zM320.5 316.5h1v1h-1zM322.4 316.5h2v1h-2zM327.3 316.5h1v1h-1zM338.1 316.5h2v1h-2zM347.9 316.5h1v1h-1zM322.4 317.5h1v1h-1zM325.4 317.5h1v1h-1zM338.1 317.5h1v1h-1zM320.5 318.5h1v1h-1zM323.4 318.5h2v1h-2zM328.3 318.5h1v1h-1zM339.1 318.5h1v1h-1zM345.9 318.5h1v1h-1zM349.9 318.5h1v1h-1zM320.5 319.5h1v1h-1zM325.4 319.5h1v1h-1zM327.3 319.5h1v1h-1zM349.9 319.5h1v1h-1zM323.4 322.4h1v1h-1zM325.4 322.4h1v1h-1zM372.4 322.4h1v1h-1zM376.3 322.4h1v1h-1zM378.3 323.4h2v1h-2zM382.2 323.4h1v1h-1zM326.3 325.4h1v1h-1zM328.3 325.4h1v1h-1zM339.1 325.4h1v1h-1zM342 325.4h2v1h-2zM345.9 325.4h1v1h-1zM349.9 325.4h1v1h-1zM351.8 325.4h2v1h-2zM343 326.3h1v1h-1zM352.8 326.3h1v1h-1zM343 327.3h1v1h-1zM345 327.3h1v1h-1zM346.9 327.3h2v1h-2zM351.8 327.3h2v1h-2zM334.2 328.3h1v1h-1zM339.1 328.3h1v1h-1zM349.9 328.3h1v1h-1zM351.8 328.3h1v1h-1zM379.3 328.3h1v1h-1zM382.2 328.3h2v1h-2zM379.3 329.3h1v1h-1zM339.1 330.3h1v1h-1zM345.9 330.3h1v1h-1zM374.4 330.3h1v1h-1zM338.1 332.2h1v1h-1zM335.2 334.2h1v1h-1zM347.9 334.2h3v1h-3zM383.2 334.2h1v1h-1zM338.1 336.1h2v1h-2zM379.3 336.1h1v1h-1zM339.1 337.1h1v1h-1zM342 338.1h4v1h-4zM344 339.1h1v1h-1zM346.9 339.1h1v1h-1zM344 340.1h1v1h-1zM346.9 340.1h2v1h-2zM345.9 341h1v1h-1zM345.9 342h1v1h-1zM347.9 342h1v1h-1zM345 343h1v1h-1zM347.9 343h1v1h-1zM345 344h1v1h-1zM347.9 344h3v1h-3zM346.9 345h1v1h-1zM351.8 345h1v1h-1zM350.8 349.9h1v1h-1zM351.8 350.8h1v1h-1z"/><path fill="#A4121C" d="M132.3 32.3h1v1h-1zM198.9 32.3h1v1h-1zM256.8 32.3h1v1h-1zM262.6 32.3h1v1h-1zM275.4 32.3h1v1h-1zM277.3 32.3h1v1h-1zM298.9 32.3h1v1h-1zM308.7 32.3h1v1h-1zM315.6 32.3h1v1h-1zM157.8 33.3h1v1h-1zM256.8 33.3h1v1h-1zM277.3 33.3h1v1h-1zM349.9 47h1v1h-1zM172.5 49h2v1h-2zM181.3 49h1v1h-1zM149 50h1v1h-1zM349.9 51.9h1v1h-1zM149 52.9h1v1h-1zM153.9 52.9h1v1h-1zM358.7 52.9h1v1h-1zM157.8 54.9h1v1h-1zM151.9 56.8h1v1h-1zM167.6 56.8h1v1h-1zM169.5 56.8h1v1h-1zM338.1 57.8h1v1h-1zM342 57.8h1v1h-1zM151.9 58.8h1v1h-1zM151.9 59.8h1v1h-1zM153.9 59.8h1v1h-1zM169.5 59.8h1v1h-1zM250.9 62.7h1v1h-1zM338.1 62.7h1v1h-1zM342 63.7h1v1h-1zM173.5 65.7h1v1h-1zM178.4 65.7h1v1h-1zM276.4 65.7h1v1h-1zM284.2 65.7h1v1h-1zM166.6 66.6h1v1h-1zM173.5 66.6h1v1h-1zM175.4 66.6h1v1h-1zM160.7 69.6h1v1h-1zM178.4 69.6h1v1h-1zM275.4 70.6h1v1h-1zM275.4 71.5h2v1h-2zM284.2 71.5h1v1h-1zM332.2 71.5h1v1h-1zM338.1 71.5h1v1h-1zM342 71.5h1v1h-1zM160.7 72.5h2v1h-2zM166.6 72.5h1v1h-1zM241.1 72.5h1v1h-1zM342 73.5h1v1h-1zM250.9 76.4h1v1h-1zM175.4 77.4h1v1h-1zM160.7 78.4h1v1h-1zM166.6 79.4h1v1h-1zM178.4 79.4h1v1h-1zM350.8 82.3h1v1h-1zM352.8 82.3h2v1h-2zM148 84.3h1v1h-1zM315.6 87.2h1v1h-1zM322.4 87.2h1v1h-1zM350.8 87.2h1v1h-1zM329.3 88.2h1v1h-1zM174.4 90.2h1v1h-1zM215.6 94.1h1v1h-1zM247 94.1h1v1h-1zM171.5 95.1h1v1h-1zM318.5 95.1h1v1h-1zM323.4 95.1h1v1h-1zM328.3 95.1h1v1h-1zM332.2 95.1h2v1h-2zM269.5 97h1v1h-1zM174.4 99h1v1h-1zM182.3 99h1v1h-1zM312.6 100h1v1h-1zM322.4 100h1v1h-1zM211.7 100.9h1v1h-1zM215.6 100.9h1v1h-1zM322.4 100.9h1v1h-1zM210.7 101.9h1v1h-1zM212.7 101.9h1v1h-1zM177.4 102.9h2v1h-2zM211.7 102.9h1v1h-1zM323.4 102.9h1v1h-1zM326.3 102.9h1v1h-1zM211.7 104.9h1v1h-1zM300.9 104.9h1v1h-1zM303.8 104.9h1v1h-1zM312.6 104.9h1v1h-1zM302.8 105.8h1v1h-1zM314.6 105.8h1v1h-1zM142.1 106.8h1v1h-1zM312.6 107.8h1v1h-1zM344 108.8h1v1h-1zM151.9 110.7h1v1h-1zM302.8 110.7h1v1h-1zM342 110.7h1v1h-1zM119.6 111.7h1v1h-1zM122.5 111.7h2v1h-2zM132.3 111.7h1v1h-1zM142.1 111.7h2v1h-2zM170.5 111.7h1v1h-1zM198.9 111.7h1v1h-1zM233.2 111.7h1v1h-1zM340.1 111.7h1v1h-1zM120.5 112.7h1v1h-1zM122.5 112.7h2v1h-2zM128.4 112.7h3v1h-3zM147 112.7h1v1h-1zM152.9 112.7h1v1h-1zM158.8 112.7h2v1h-2zM164.6 112.7h1v1h-1zM168.6 112.7h1v1h-1zM170.5 112.7h2v1h-2zM195 112.7h1v1h-1zM202.9 112.7h1v1h-1zM205.8 112.7h1v1h-1zM141.1 114.7h2v1h-2zM146 114.7h2v1h-2zM321.4 114.7h1v1h-1zM327.3 114.7h1v1h-1zM142.1 115.6h1v1h-1zM277.3 115.6h1v1h-1zM342 115.6h1v1h-1zM364.6 115.6h2v1h-2zM165.6 116.6h1v1h-1zM169.5 116.6h1v1h-1zM120.5 117.6h1v1h-1zM157.8 117.6h1v1h-1zM198.9 117.6h1v1h-1zM123.5 118.6h1v1h-1zM128.4 118.6h1v1h-1zM131.3 118.6h2v1h-2zM171.5 118.6h1v1h-1zM198.9 118.6h1v1h-1zM201.9 118.6h2v1h-2zM125.4 119.6h1v1h-1zM130.3 119.6h2v1h-2zM141.1 119.6h2v1h-2zM146 119.6h2v1h-2zM152.9 119.6h1v1h-1zM155.8 119.6h1v1h-1zM158.8 119.6h1v1h-1zM162.7 119.6h1v1h-1zM182.3 119.6h1v1h-1zM195 119.6h1v1h-1zM199.9 119.6h1v1h-1zM203.8 119.6h1v1h-1zM256.8 119.6h1v1h-1zM263.6 119.6h1v1h-1zM276.4 119.6h1v1h-1zM300.9 119.6h1v1h-1zM147 120.5h1v1h-1zM156.8 120.5h1v1h-1zM164.6 120.5h1v1h-1zM166.6 120.5h1v1h-1zM181.3 120.5h1v1h-1zM197 120.5h1v1h-1zM201.9 120.5h1v1h-1zM204.8 120.5h1v1h-1zM209.7 120.5h1v1h-1zM285.2 120.5h1v1h-1zM141.1 121.5h1v1h-1zM157.8 121.5h1v1h-1zM166.6 121.5h1v1h-1zM171.5 121.5h1v1h-1zM181.3 121.5h1v1h-1zM279.3 121.5h2v1h-2zM285.2 121.5h1v1h-1zM137.2 122.5h2v1h-2zM153.9 122.5h1v1h-1zM182.3 122.5h1v1h-1zM195 122.5h1v1h-1zM197 122.5h2v1h-2zM200.9 122.5h1v1h-1zM256.8 122.5h1v1h-1zM263.6 122.5h1v1h-1zM268.5 122.5h1v1h-1zM270.5 122.5h2v1h-2zM274.4 122.5h1v1h-1zM276.4 122.5h2v1h-2zM281.3 122.5h2v1h-2zM295 122.5h1v1h-1zM125.4 123.5h2v1h-2zM131.3 123.5h1v1h-1zM141.1 123.5h2v1h-2zM147 123.5h1v1h-1zM152.9 123.5h1v1h-1zM155.8 123.5h1v1h-1zM158.8 123.5h2v1h-2zM164.6 123.5h1v1h-1zM182.3 123.5h1v1h-1zM194 123.5h1v1h-1zM197 123.5h2v1h-2zM199.9 123.5h1v1h-1zM203.8 123.5h1v1h-1zM256.8 123.5h1v1h-1zM262.6 123.5h1v1h-1zM270.5 123.5h1v1h-1zM125.4 124.5h3v1h-3zM130.3 124.5h1v1h-1zM152.9 124.5h1v1h-1zM155.8 124.5h1v1h-1zM159.7 124.5h1v1h-1zM165.6 124.5h2v1h-2zM168.6 124.5h2v1h-2zM202.9 124.5h1v1h-1zM205.8 124.5h1v1h-1zM127.4 125.4h1v1h-1zM129.4 125.4h3v1h-3zM140.1 125.4h4v1h-4zM157.8 125.4h1v1h-1zM128.4 126.4h1v1h-1zM130.3 126.4h1v1h-1zM142.1 126.4h1v1h-1zM152.9 126.4h1v1h-1zM165.6 126.4h1v1h-1zM171.5 126.4h1v1h-1zM202.9 126.4h1v1h-1zM141.1 127.4h2v1h-2zM156.8 127.4h1v1h-1zM164.6 127.4h3v1h-3zM169.5 127.4h1v1h-1zM174.4 127.4h1v1h-1zM181.3 127.4h1v1h-1zM198.9 127.4h1v1h-1zM202.9 127.4h1v1h-1zM205.8 127.4h1v1h-1zM209.7 127.4h1v1h-1zM140.1 128.4h1v1h-1zM156.8 128.4h1v1h-1zM159.7 128.4h1v1h-1zM166.6 128.4h1v1h-1zM168.6 128.4h3v1h-3zM181.3 128.4h1v1h-1zM201.9 128.4h1v1h-1zM205.8 128.4h1v1h-1zM134.3 129.4h1v1h-1zM137.2 129.4h2v1h-2zM141.1 129.4h2v1h-2zM146 129.4h2v1h-2zM152.9 129.4h1v1h-1zM154.8 129.4h1v1h-1zM170.5 129.4h1v1h-1zM195 129.4h1v1h-1zM202.9 129.4h1v1h-1zM205.8 129.4h1v1h-1zM268.5 129.4h1v1h-1zM276.4 129.4h1v1h-1zM359.7 129.4h1v1h-1zM365.5 129.4h1v1h-1zM367.5 129.4h1v1h-1zM137.2 130.3h1v1h-1zM147 130.3h1v1h-1zM159.7 130.3h1v1h-1zM162.7 130.3h3v1h-3zM170.5 130.3h1v1h-1zM172.5 130.3h1v1h-1zM174.4 130.3h1v1h-1zM201.9 130.3h1v1h-1zM203.8 130.3h1v1h-1zM256.8 130.3h1v1h-1zM263.6 130.3h1v1h-1zM286.2 130.3h1v1h-1zM142.1 131.3h2v1h-2zM146 131.3h2v1h-2zM150.9 131.3h1v1h-1zM152.9 131.3h3v1h-3zM158.8 131.3h2v1h-2zM163.7 131.3h1v1h-1zM174.4 131.3h1v1h-1zM181.3 131.3h1v1h-1zM201.9 131.3h1v1h-1zM359.7 131.3h1v1h-1zM365.5 131.3h1v1h-1zM149 132.3h1v1h-1zM150.9 132.3h1v1h-1zM160.7 132.3h1v1h-1zM163.7 132.3h1v1h-1zM176.4 132.3h1v1h-1zM184.2 132.3h1v1h-1zM193.1 132.3h2v1h-2zM198 132.3h1v1h-1zM256.8 132.3h1v1h-1zM262.6 132.3h1v1h-1zM273.4 132.3h1v1h-1zM275.4 132.3h1v1h-1zM277.3 132.3h1v1h-1zM282.2 132.3h1v1h-1zM286.2 132.3h1v1h-1zM300.9 132.3h1v1h-1zM308.7 132.3h1v1h-1zM315.6 132.3h3v1h-3zM140.1 133.3h1v1h-1zM165.6 133.3h1v1h-1zM209.7 133.3h1v1h-1zM355.7 133.3h1v1h-1zM365.5 133.3h1v1h-1zM367.5 133.3h1v1h-1zM140.1 134.3h2v1h-2zM157.8 134.3h1v1h-1zM165.6 134.3h1v1h-1zM171.5 134.3h1v1h-1zM359.7 134.3h1v1h-1zM367.5 134.3h1v1h-1zM171.5 135.2h1v1h-1zM209.7 135.2h1v1h-1zM281.3 135.2h1v1h-1zM286.2 135.2h1v1h-1zM295 135.2h1v1h-1zM359.7 135.2h1v1h-1zM367.5 135.2h1v1h-1zM295 136.2h2v1h-2zM138.2 137.2h1v1h-1zM141.1 137.2h1v1h-1zM146 137.2h1v1h-1zM157.8 137.2h1v1h-1zM165.6 137.2h1v1h-1zM168.6 137.2h1v1h-1zM355.7 137.2h1v1h-1zM139.2 138.2h1v1h-1zM142.1 138.2h1v1h-1zM146 138.2h1v1h-1zM159.7 138.2h1v1h-1zM163.7 138.2h1v1h-1zM166.6 138.2h1v1h-1zM168.6 138.2h2v1h-2zM205.8 138.2h1v1h-1zM359.7 138.2h1v1h-1zM365.5 138.2h1v1h-1zM141.1 139.2h3v1h-3zM165.6 139.2h1v1h-1zM145 140.1h1v1h-1zM149 140.1h1v1h-1zM153.9 140.1h1v1h-1zM163.7 140.1h1v1h-1zM169.5 140.1h1v1h-1zM176.4 140.1h1v1h-1zM182.3 140.1h1v1h-1zM192.1 140.1h1v1h-1zM198 140.1h1v1h-1zM201.9 140.1h1v1h-1zM203.8 140.1h1v1h-1zM262.6 140.1h2v1h-2zM270.5 140.1h2v1h-2zM275.4 140.1h1v1h-1zM300.9 140.1h1v1h-1zM315.6 140.1h1v1h-1zM145 141.1h1v1h-1zM152.9 141.1h2v1h-2zM158.8 141.1h2v1h-2zM162.7 141.1h2v1h-2zM169.5 141.1h2v1h-2zM182.3 141.1h1v1h-1zM195 141.1h1v1h-1zM205.8 141.1h1v1h-1zM256.8 141.1h1v1h-1zM274.4 141.1h1v1h-1zM379.3 141.1h1v1h-1zM385.1 141.1h1v1h-1zM147 142.1h1v1h-1zM155.8 142.1h1v1h-1zM158.8 142.1h1v1h-1zM164.6 142.1h2v1h-2zM170.5 142.1h2v1h-2zM202.9 142.1h1v1h-1zM204.8 142.1h2v1h-2zM275.4 142.1h1v1h-1zM149 143.1h2v1h-2zM153.9 143.1h3v1h-3zM162.7 143.1h2v1h-2zM176.4 143.1h1v1h-1zM181.3 143.1h2v1h-2zM192.1 143.1h1v1h-1zM197 143.1h2v1h-2zM200.9 143.1h1v1h-1zM204.8 143.1h1v1h-1zM256.8 143.1h1v1h-1zM268.5 143.1h1v1h-1zM276.4 143.1h1v1h-1zM355.7 143.1h1v1h-1zM365.5 143.1h1v1h-1zM367.5 143.1h1v1h-1zM379.3 143.1h1v1h-1zM152.9 144.1h1v1h-1zM157.8 144.1h1v1h-1zM168.6 144.1h1v1h-1zM367.5 144.1h1v1h-1zM171.5 145h1v1h-1zM212.7 145h1v1h-1zM215.6 145h1v1h-1zM221.5 145h1v1h-1zM149 146h1v1h-1zM151.9 146h1v1h-1zM153.9 146h1v1h-1zM155.8 146h1v1h-1zM158.8 146h1v1h-1zM166.6 146h2v1h-2zM169.5 146h2v1h-2zM197 146h1v1h-1zM201.9 146h1v1h-1zM203.8 146h1v1h-1zM277.3 146h1v1h-1zM387.1 146h1v1h-1zM149.9 147h1v1h-1zM155.8 147h1v1h-1zM168.6 147h2v1h-2zM181.3 147h1v1h-1zM198.9 147h1v1h-1zM202.9 147h1v1h-1zM219.5 147h2v1h-2zM171.5 148h1v1h-1zM385.1 148h1v1h-1zM387.1 148h1v1h-1zM153.9 149h1v1h-1zM156.8 149h1v1h-1zM224.4 149h1v1h-1zM385.1 149h1v1h-1zM156.8 149.9h1v1h-1zM153.9 150.9h1v1h-1zM156.8 150.9h2v1h-2zM388.1 150.9h1v1h-1zM153.9 151.9h1v1h-1zM155.8 151.9h2v1h-2zM165.6 151.9h1v1h-1zM171.5 151.9h1v1h-1zM167.6 152.9h1v1h-1zM169.5 152.9h1v1h-1zM176.4 152.9h1v1h-1zM192.1 152.9h1v1h-1zM198 152.9h1v1h-1zM199.9 152.9h1v1h-1zM256.8 152.9h1v1h-1zM263.6 152.9h1v1h-1zM268.5 152.9h1v1h-1zM159.7 153.9h1v1h-1zM162.7 153.9h1v1h-1zM170.5 153.9h1v1h-1zM197 153.9h1v1h-1zM198.9 153.9h1v1h-1zM202.9 153.9h1v1h-1zM205.8 153.9h1v1h-1zM244 153.9h1v1h-1zM158.8 154.8h2v1h-2zM164.6 154.8h1v1h-1zM168.6 154.8h1v1h-1zM170.5 154.8h1v1h-1zM198.9 154.8h1v1h-1zM201.9 154.8h2v1h-2zM205.8 154.8h1v1h-1zM161.7 155.8h1v1h-1zM164.6 155.8h1v1h-1zM172.5 155.8h1v1h-1zM176.4 155.8h1v1h-1zM181.3 155.8h1v1h-1zM197 155.8h1v1h-1zM202.9 155.8h1v1h-1zM275.4 155.8h1v1h-1zM161.7 156.8h1v1h-1zM167.6 156.8h1v1h-1zM172.5 156.8h1v1h-1zM176.4 156.8h1v1h-1zM199.9 156.8h2v1h-2zM204.8 156.8h1v1h-1zM212.7 156.8h1v1h-1zM219.5 156.8h2v1h-2zM308.7 156.8h1v1h-1zM367.5 156.8h2v1h-2zM173.5 157.8h1v1h-1zM179.3 157.8h1v1h-1zM185.2 157.8h1v1h-1zM191.1 157.8h1v1h-1zM193.1 157.8h1v1h-1zM200.9 157.8h1v1h-1zM228.3 157.8h1v1h-1zM240.1 157.8h2v1h-2zM244 157.8h1v1h-1zM246 157.8h1v1h-1zM250.9 157.8h1v1h-1zM255.8 157.8h1v1h-1zM257.7 157.8h1v1h-1zM267.5 157.8h2v1h-2zM271.5 157.8h2v1h-2zM276.4 157.8h1v1h-1zM296.9 157.8h4v1h-4zM304.8 157.8h1v1h-1zM307.7 157.8h1v1h-1zM315.6 157.8h2v1h-2zM339.1 157.8h1v1h-1zM389.1 157.8h1v1h-1zM164.6 158.8h1v1h-1zM169.5 158.8h1v1h-1zM181.3 158.8h1v1h-1zM197 158.8h1v1h-1zM201.9 158.8h1v1h-1zM203.8 158.8h2v1h-2zM248.9 158.8h1v1h-1zM251.9 158.8h1v1h-1zM254.8 158.8h1v1h-1zM263.6 158.8h1v1h-1zM276.4 158.8h1v1h-1zM162.7 159.7h1v1h-1zM167.6 159.7h1v1h-1zM169.5 159.7h2v1h-2zM172.5 159.7h1v1h-1zM195 159.7h1v1h-1zM199.9 159.7h2v1h-2zM308.7 159.7h1v1h-1zM162.7 160.7h1v1h-1zM165.6 160.7h1v1h-1zM168.6 160.7h1v1h-1zM171.5 160.7h1v1h-1zM165.6 161.7h1v1h-1zM168.6 161.7h1v1h-1zM171.5 161.7h1v1h-1zM251.9 161.7h1v1h-1zM181.3 162.7h1v1h-1zM199.9 162.7h2v1h-2zM205.8 162.7h1v1h-1zM181.3 163.7h1v1h-1zM205.8 163.7h1v1h-1zM195 164.6h1v1h-1zM197 164.6h1v1h-1zM205.8 164.6h1v1h-1zM256.8 164.6h1v1h-1zM300.9 164.6h1v1h-1zM182.3 165.6h1v1h-1zM192.1 165.6h1v1h-1zM194 165.6h2v1h-2zM197 165.6h1v1h-1zM262.6 165.6h1v1h-1zM274.4 165.6h2v1h-2zM298.9 165.6h1v1h-1zM316.5 165.6h1v1h-1zM345.9 165.6h1v1h-1zM181.3 166.6h1v1h-1zM192.1 166.6h1v1h-1zM198 166.6h1v1h-1zM200.9 166.6h3v1h-3zM204.8 166.6h1v1h-1zM256.8 166.6h1v1h-1zM263.6 166.6h1v1h-1zM270.5 166.6h1v1h-1zM286.2 166.6h1v1h-1zM294 166.6h1v1h-1zM296 166.6h1v1h-1zM169.5 167.6h1v1h-1zM205.8 167.6h1v1h-1zM173.5 168.6h2v1h-2zM182.3 168.6h1v1h-1zM199.9 168.6h2v1h-2zM204.8 168.6h1v1h-1zM262.6 168.6h1v1h-1zM268.5 168.6h1v1h-1zM275.4 168.6h1v1h-1zM277.3 168.6h1v1h-1zM298.9 168.6h1v1h-1zM307.7 168.6h1v1h-1zM345.9 168.6h1v1h-1zM173.5 169.5h1v1h-1zM176.4 169.5h1v1h-1zM181.3 169.5h1v1h-1zM296 169.5h1v1h-1zM319.5 169.5h1v1h-1zM329.3 169.5h1v1h-1zM176.4 170.5h1v1h-1zM182.3 170.5h1v1h-1zM197 170.5h1v1h-1zM256.8 170.5h1v1h-1zM177.4 171.5h1v1h-1zM180.3 171.5h1v1h-1zM184.2 171.5h1v1h-1zM193.1 171.5h2v1h-2zM200.9 171.5h1v1h-1zM228.3 171.5h1v1h-1zM251.9 171.5h1v1h-1zM257.7 171.5h1v1h-1zM262.6 171.5h1v1h-1zM270.5 171.5h1v1h-1zM272.4 171.5h1v1h-1zM297.9 171.5h3v1h-3zM304.8 171.5h1v1h-1zM307.7 171.5h1v1h-1zM311.6 171.5h1v1h-1zM315.6 171.5h1v1h-1zM325.4 171.5h1v1h-1zM338.1 171.5h1v1h-1zM349.9 171.5h1v1h-1zM200.9 172.5h1v1h-1zM286.2 173.5h1v1h-1zM293 173.5h1v1h-1zM200.9 174.4h1v1h-1zM194 176.4h1v1h-1zM197 176.4h1v1h-1zM199.9 176.4h1v1h-1zM201.9 176.4h2v1h-2zM204.8 176.4h1v1h-1zM256.8 176.4h1v1h-1zM268.5 176.4h1v1h-1zM319.5 177.4h1v1h-1zM325.4 177.4h1v1h-1zM345 177.4h1v1h-1zM181.3 178.4h1v1h-1zM286.2 178.4h1v1h-1zM292 178.4h1v1h-1zM333.2 178.4h1v1h-1zM181.3 179.3h1v1h-1zM198.9 179.3h1v1h-1zM205.8 179.3h1v1h-1zM279.3 179.3h1v1h-1zM283.2 179.3h1v1h-1zM285.2 179.3h1v1h-1zM288.1 179.3h1v1h-1zM325.4 179.3h1v1h-1zM334.2 179.3h1v1h-1zM198.9 180.3h1v1h-1zM297.9 180.3h1v1h-1zM329.3 180.3h1v1h-1zM185.2 181.3h1v1h-1zM193.1 181.3h2v1h-2zM200.9 181.3h1v1h-1zM228.3 181.3h1v1h-1zM248.9 181.3h1v1h-1zM271.5 181.3h2v1h-2zM274.4 181.3h1v1h-1zM297.9 181.3h2v1h-2zM300.9 181.3h1v1h-1zM308.7 181.3h1v1h-1zM315.6 181.3h1v1h-1zM327.3 181.3h1v1h-1zM346.9 181.3h1v1h-1zM349.9 181.3h1v1h-1zM184.2 182.3h1v1h-1zM192.1 182.3h1v1h-1zM195 182.3h1v1h-1zM197 182.3h1v1h-1zM201.9 182.3h2v1h-2zM205.8 182.3h1v1h-1zM256.8 182.3h1v1h-1zM268.5 182.3h1v1h-1zM270.5 182.3h1v1h-1zM311.6 182.3h1v1h-1zM318.5 182.3h3v1h-3zM329.3 182.3h1v1h-1zM334.2 182.3h1v1h-1zM283.2 183.3h1v1h-1zM201.9 184.2h1v1h-1zM202.9 185.2h1v1h-1zM198.9 189.1h1v1h-1zM280.3 189.1h1v1h-1zM198.9 191.1h1v1h-1zM241.1 191.1h1v1h-1zM247.9 191.1h1v1h-1zM256.8 191.1h1v1h-1zM194 192.1h1v1h-1zM196 192.1h1v1h-1zM199.9 192.1h2v1h-2zM203.8 192.1h1v1h-1zM262.6 192.1h1v1h-1zM268.5 192.1h1v1h-1zM270.5 192.1h1v1h-1zM274.4 192.1h4v1h-4zM308.7 192.1h1v1h-1zM381.2 192.1h1v1h-1zM195 193.1h1v1h-1zM197 193.1h2v1h-2zM202.9 193.1h1v1h-1zM243 193.1h1v1h-1zM247.9 193.1h1v1h-1zM270.5 193.1h1v1h-1zM309.7 193.1h1v1h-1zM311.6 193.1h1v1h-1zM196 194h1v1h-1zM198 194h1v1h-1zM200.9 194h4v1h-4zM205.8 194h1v1h-1zM268.5 194h1v1h-1zM274.4 194h1v1h-1zM309.7 194h1v1h-1zM381.2 194h1v1h-1zM386.1 194h1v1h-1zM196 195h1v1h-1zM198 195h1v1h-1zM204.8 195h1v1h-1zM268.5 195h1v1h-1zM270.5 195h1v1h-1zM272.4 195h1v1h-1zM274.4 195h1v1h-1zM197 196h1v1h-1zM200.9 196h3v1h-3zM240.1 196h2v1h-2zM256.8 196h1v1h-1zM200.9 197h1v1h-1zM257.7 197h1v1h-1zM262.6 197h1v1h-1zM270.5 197h1v1h-1zM272.4 197h1v1h-1zM275.4 197h3v1h-3zM300.9 197h1v1h-1zM345.9 197h1v1h-1zM203.8 198h2v1h-2zM263.6 198h1v1h-1zM268.5 198h1v1h-1zM276.4 198h1v1h-1zM316.5 198h1v1h-1zM381.2 198h1v1h-1zM386.1 198h1v1h-1zM208.7 198.9h2v1h-2zM219.5 198.9h1v1h-1zM228.3 198.9h1v1h-1zM251.9 198.9h2v1h-2zM254.8 198.9h1v1h-1zM264.6 198.9h1v1h-1zM266.6 198.9h2v1h-2zM269.5 198.9h1v1h-1zM297.9 198.9h1v1h-1zM305.8 198.9h1v1h-1zM307.7 198.9h1v1h-1zM309.7 198.9h1v1h-1zM317.5 198.9h2v1h-2zM327.3 198.9h1v1h-1zM346.9 198.9h1v1h-1zM351.8 198.9h1v1h-1zM240.1 199.9h1v1h-1zM256.8 199.9h1v1h-1zM275.4 199.9h1v1h-1zM277.3 199.9h1v1h-1zM308.7 199.9h1v1h-1zM316.5 199.9h1v1h-1zM257.7 200.9h1v1h-1zM270.5 200.9h1v1h-1zM274.4 200.9h4v1h-4zM248.9 201.9h1v1h-1zM251.9 201.9h1v1h-1zM257.7 201.9h1v1h-1zM262.6 201.9h1v1h-1zM266.6 201.9h1v1h-1zM270.5 201.9h1v1h-1zM274.4 201.9h1v1h-1zM276.4 201.9h1v1h-1zM339.1 201.9h1v1h-1zM252.8 202.9h1v1h-1zM257.7 202.9h1v1h-1zM261.7 202.9h1v1h-1zM267.5 202.9h1v1h-1zM270.5 202.9h4v1h-4zM297.9 202.9h1v1h-1zM299.9 202.9h1v1h-1zM307.7 202.9h1v1h-1zM315.6 202.9h1v1h-1zM336.1 202.9h1v1h-1zM338.1 202.9h1v1h-1zM345.9 202.9h1v1h-1zM208.7 203.8h1v1h-1zM268.5 203.8h1v1h-1zM275.4 203.8h2v1h-2zM292 203.8h2v1h-2zM308.7 203.8h1v1h-1zM256.8 204.8h1v1h-1zM271.5 204.8h1v1h-1zM277.3 204.8h1v1h-1zM285.2 204.8h1v1h-1zM298.9 204.8h1v1h-1zM308.7 204.8h1v1h-1zM345.9 204.8h1v1h-1zM384.2 204.8h1v1h-1zM391 204.8h1v1h-1zM208.7 205.8h1v1h-1zM228.3 205.8h1v1h-1zM247.9 205.8h2v1h-2zM251.9 205.8h1v1h-1zM254.8 205.8h2v1h-2zM257.7 205.8h1v1h-1zM262.6 205.8h1v1h-1zM267.5 205.8h1v1h-1zM271.5 205.8h3v1h-3zM296.9 205.8h2v1h-2zM299.9 205.8h2v1h-2zM315.6 205.8h2v1h-2zM318.5 205.8h1v1h-1zM338.1 205.8h1v1h-1zM345.9 205.8h1v1h-1zM349.9 205.8h1v1h-1zM379.3 205.8h1v1h-1zM384.2 205.8h1v1h-1zM364.6 206.8h1v1h-1zM367.5 206.8h1v1h-1zM295 209.7h1v1h-1zM286.2 210.7h1v1h-1zM285.2 211.7h1v1h-1zM256.8 212.7h1v1h-1zM263.6 212.7h1v1h-1zM361.6 212.7h1v1h-1zM367.5 212.7h1v1h-1zM243 218.5h1v1h-1zM251.9 218.5h1v1h-1zM256.8 219.5h2v1h-2zM262.6 219.5h1v1h-1zM268.5 219.5h1v1h-1zM270.5 219.5h1v1h-1zM272.4 219.5h1v1h-1zM276.4 219.5h1v1h-1zM243 220.5h1v1h-1zM262.6 220.5h1v1h-1zM268.5 220.5h1v1h-1zM271.5 220.5h1v1h-1zM275.4 220.5h2v1h-2zM263.6 221.5h1v1h-1zM254.8 222.5h1v1h-1zM376.3 222.5h2v1h-2zM271.5 227.4h1v1h-1zM275.4 227.4h1v1h-1zM277.3 227.4h1v1h-1zM373.4 227.4h1v1h-1zM380.2 227.4h2v1h-2zM266.6 228.3h1v1h-1zM269.5 228.3h1v1h-1zM300.9 228.3h1v1h-1zM307.7 228.3h1v1h-1zM315.6 228.3h1v1h-1zM288.1 229.3h1v1h-1zM301.8 229.3h1v1h-1zM288.1 231.3h1v1h-1zM268.5 232.3h1v1h-1zM263.6 234.2h1v1h-1zM268.5 234.2h1v1h-1zM276.4 234.2h1v1h-1zM270.5 236.2h1v1h-1zM256.8 238.1h1v1h-1zM262.6 238.1h2v1h-2zM268.5 238.1h1v1h-1zM270.5 238.1h2v1h-2zM273.4 238.1h1v1h-1zM275.4 238.1h2v1h-2zM296.9 238.1h1v1h-1zM301.8 238.1h2v1h-2zM256.8 239.1h1v1h-1zM262.6 239.1h2v1h-2zM274.4 239.1h1v1h-1zM277.3 239.1h1v1h-1zM297.9 239.1h1v1h-1zM304.8 239.1h1v1h-1zM307.7 239.1h1v1h-1zM374.4 245h3v1h-3zM378.3 245h1v1h-1zM388.1 245h1v1h-1zM314.6 246h1v1h-1zM332.2 246h1v1h-1zM334.2 246h1v1h-1zM336.1 246h1v1h-1zM341 246h1v1h-1zM344 246h1v1h-1zM248.9 247h1v1h-1zM251.9 247h1v1h-1zM256.8 247h1v1h-1zM262.6 247h1v1h-1zM277.3 247h1v1h-1zM330.3 247h3v1h-3zM335.2 247h1v1h-1zM342 247h1v1h-1zM248.9 247.9h2v1h-2zM256.8 247.9h1v1h-1zM263.6 247.9h1v1h-1zM268.5 247.9h1v1h-1zM276.4 247.9h2v1h-2zM319.5 247.9h1v1h-1zM255.8 248.9h1v1h-1zM257.7 248.9h1v1h-1zM265.6 248.9h2v1h-2zM271.5 248.9h1v1h-1zM276.4 248.9h1v1h-1zM297.9 248.9h1v1h-1zM299.9 248.9h1v1h-1zM308.7 248.9h1v1h-1zM315.6 248.9h2v1h-2zM367.5 248.9h1v1h-1zM251.9 249.9h2v1h-2zM270.5 249.9h1v1h-1zM274.4 249.9h1v1h-1zM277.3 249.9h1v1h-1zM308.7 249.9h1v1h-1zM373.4 250.9h1v1h-1zM257.7 251.9h1v1h-1zM262.6 251.9h1v1h-1zM271.5 251.9h2v1h-2zM275.4 251.9h2v1h-2zM314.6 251.9h2v1h-2zM345.9 251.9h1v1h-1zM347.9 251.9h1v1h-1zM351.8 251.9h1v1h-1zM254.8 252.8h1v1h-1zM268.5 252.8h1v1h-1zM271.5 252.8h1v1h-1zM275.4 252.8h1v1h-1zM330.3 252.8h3v1h-3zM339.1 252.8h1v1h-1zM341 252.8h1v1h-1zM345.9 252.8h1v1h-1zM349.9 252.8h1v1h-1zM365.5 252.8h1v1h-1zM263.6 253.8h1v1h-1zM331.2 253.8h1v1h-1zM334.2 253.8h1v1h-1zM336.1 253.8h1v1h-1zM260.7 254.8h1v1h-1zM262.6 254.8h1v1h-1zM268.5 254.8h1v1h-1zM270.5 254.8h2v1h-2zM273.4 254.8h1v1h-1zM276.4 254.8h1v1h-1zM308.7 254.8h1v1h-1zM330.3 254.8h1v1h-1zM335.2 254.8h2v1h-2zM266.6 255.8h1v1h-1zM300.9 255.8h1v1h-1zM308.7 255.8h1v1h-1zM318.5 255.8h1v1h-1zM339.1 255.8h1v1h-1zM345.9 255.8h1v1h-1zM259.7 256.8h1v1h-1zM264.6 256.8h1v1h-1zM307.7 256.8h1v1h-1zM309.7 256.8h1v1h-1zM314.6 256.8h2v1h-2zM317.5 256.8h3v1h-3zM330.3 256.8h5.9v1h-5.9zM341 256.8h2v1h-2zM348.9 256.8h1v1h-1zM258.7 257.7h1v1h-1zM265.6 257.7h3v1h-3zM269.5 257.7h1v1h-1zM273.4 257.7h1v1h-1zM297.9 257.7h2v1h-2zM300.9 257.7h1v1h-1zM316.5 257.7h1v1h-1zM318.5 257.7h1v1h-1zM327.3 257.7h1v1h-1zM335.2 257.7h1v1h-1zM339.1 257.7h1v1h-1zM344 257.7h1v1h-1zM347.9 257.7h1v1h-1zM263.6 258.7h1v1h-1zM277.3 258.7h1v1h-1zM262.6 259.7h1v1h-1zM289.1 259.7h1v1h-1zM282.2 260.7h1v1h-1zM286.2 260.7h1v1h-1zM275.4 261.7h1v1h-1zM334.2 261.7h1v1h-1zM336.1 261.7h1v1h-1zM342 261.7h1v1h-1zM359.7 261.7h1v1h-1zM364.6 261.7h1v1h-1zM280.3 262.6h2v1h-2zM296.9 262.6h3v1h-3zM300.9 262.6h1v1h-1zM302.8 262.6h1v1h-1zM304.8 262.6h1v1h-1zM315.6 262.6h2v1h-2zM327.3 262.6h1v1h-1zM339.1 262.6h1v1h-1zM280.3 263.6h1v1h-1zM285.2 263.6h1v1h-1zM296.9 263.6h2v1h-2zM303.8 263.6h1v1h-1zM309.7 263.6h1v1h-1zM311.6 263.6h1v1h-1zM318.5 263.6h2v1h-2zM323.4 263.6h1v1h-1zM325.4 263.6h1v1h-1zM327.3 263.6h1v1h-1zM340.1 263.6h1v1h-1zM342 263.6h1v1h-1zM344 263.6h2v1h-2zM348.9 263.6h1v1h-1zM359.7 263.6h1v1h-1zM361.6 263.6h1v1h-1zM370.4 263.6h1v1h-1zM265.6 264.6h2v1h-2zM271.5 264.6h1v1h-1zM336.1 264.6h1v1h-1zM344 264.6h1v1h-1zM266.6 265.6h1v1h-1zM271.5 265.6h3v1h-3zM272.4 266.6h2v1h-2zM277.3 266.6h1v1h-1zM300.9 266.6h1v1h-1zM308.7 266.6h1v1h-1zM339.1 266.6h1v1h-1zM269.5 267.5h1v1h-1zM280.3 267.5h1v1h-1zM308.7 267.5h1v1h-1zM345.9 267.5h1v1h-1zM357.7 267.5h1v1h-1zM366.5 267.5h1v1h-1zM281.3 268.5h1v1h-1zM297.9 268.5h1v1h-1zM299.9 268.5h1v1h-1zM304.8 268.5h1v1h-1zM307.7 268.5h1v1h-1zM313.6 268.5h1v1h-1zM316.5 268.5h1v1h-1zM325.4 268.5h1v1h-1zM327.3 268.5h1v1h-1zM348.9 268.5h1v1h-1zM359.7 268.5h1v1h-1zM364.6 268.5h1v1h-1zM369.5 268.5h2v1h-2zM271.5 269.5h1v1h-1zM275.4 269.5h3v1h-3zM361.6 269.5h1v1h-1zM364.6 269.5h1v1h-1zM366.5 269.5h1v1h-1zM370.4 269.5h1v1h-1zM280.3 270.5h2v1h-2zM286.2 270.5h1v1h-1zM299.9 270.5h1v1h-1zM304.8 270.5h2v1h-2zM315.6 270.5h1v1h-1zM328.3 270.5h1v1h-1zM334.2 270.5h1v1h-1zM339.1 270.5h1v1h-1zM293 271.5h1v1h-1zM298.9 271.5h3v1h-3zM310.7 271.5h1v1h-1zM315.6 271.5h1v1h-1zM318.5 271.5h1v1h-1zM327.3 271.5h2v1h-2zM338.1 271.5h2v1h-2zM351.8 271.5h1v1h-1zM361.6 271.5h1v1h-1zM369.5 271.5h1v1h-1zM273.4 272.4h1v1h-1zM280.3 272.4h1v1h-1zM300.9 272.4h1v1h-1zM308.7 272.4h1v1h-1zM315.6 272.4h1v1h-1zM338.1 272.4h2v1h-2zM342 272.4h1v1h-1zM347.9 272.4h1v1h-1zM293 273.4h1v1h-1zM308.7 273.4h1v1h-1zM316.5 273.4h1v1h-1zM345.9 273.4h1v1h-1zM349.9 273.4h1v1h-1zM282.2 274.4h1v1h-1zM300.9 274.4h1v1h-1zM304.8 274.4h1v1h-1zM309.7 274.4h1v1h-1zM313.6 274.4h1v1h-1zM315.6 274.4h1v1h-1zM317.5 274.4h1v1h-1zM325.4 274.4h1v1h-1zM328.3 274.4h1v1h-1zM342 274.4h2v1h-2zM345 274.4h1v1h-1zM346.9 274.4h3v1h-3zM279.3 275.4h1v1h-1zM282.2 275.4h1v1h-1zM305.8 275.4h1v1h-1zM310.7 275.4h2v1h-2zM314.6 275.4h1v1h-1zM318.5 275.4h1v1h-1zM325.4 275.4h1v1h-1zM327.3 275.4h1v1h-1zM340.1 275.4h1v1h-1zM347.9 275.4h1v1h-1zM351.8 275.4h1v1h-1zM279.3 276.4h1v1h-1zM282.2 276.4h1v1h-1zM296.9 276.4h2v1h-2zM307.7 276.4h1v1h-1zM310.7 276.4h1v1h-1zM315.6 276.4h2v1h-2zM319.5 276.4h1v1h-1zM325.4 276.4h1v1h-1zM327.3 276.4h1v1h-1zM339.1 276.4h1v1h-1zM347.9 276.4h2v1h-2zM278.3 277.3h1v1h-1zM297.9 277.3h1v1h-1zM299.9 277.3h1v1h-1zM309.7 277.3h2v1h-2zM314.6 277.3h1v1h-1zM317.5 277.3h2v1h-2zM323.4 277.3h1v1h-1zM345 277.3h1v1h-1zM349.9 277.3h1v1h-1zM342 279.3h2v1h-2zM345.9 280.3h1v1h-1zM349.9 281.3h1v1h-1zM382.2 285.2h1v1h-1zM316.5 291.1h1v1h-1zM293 292h1v1h-1zM298.9 292h1v1h-1zM304.8 292h1v1h-1zM306.7 292h2v1h-2zM300.9 294h1v1h-1zM298.9 295h1v1h-1zM303.8 295h1v1h-1zM382.2 296h1v1h-1zM305.8 296.9h1v1h-1zM302.8 297.9h1v1h-1zM313.6 297.9h1v1h-1zM316.5 297.9h1v1h-1zM323.4 297.9h1v1h-1zM325.4 297.9h1v1h-1zM345.9 297.9h1v1h-1zM380.2 297.9h1v1h-1zM303.8 298.9h1v1h-1zM316.5 298.9h1v1h-1zM319.5 298.9h1v1h-1zM325.4 298.9h1v1h-1zM301.8 299.9h1v1h-1zM309.7 299.9h2v1h-2zM317.5 299.9h2v1h-2zM321.4 299.9h1v1h-1zM301.8 300.9h1v1h-1zM309.7 300.9h1v1h-1zM312.6 300.9h1v1h-1zM319.5 300.9h1v1h-1zM327.3 300.9h1v1h-1zM345.9 300.9h1v1h-1zM311.6 302.8h1v1h-1zM306.7 303.8h2v1h-2zM316.5 303.8h1v1h-1zM313.6 304.8h1v1h-1zM317.5 304.8h2v1h-2zM314.6 305.8h2v1h-2zM308.7 306.7h1v1h-1zM361.6 306.7h1v1h-1zM313.6 307.7h2v1h-2zM317.5 307.7h1v1h-1zM319.5 307.7h1v1h-1zM325.4 307.7h1v1h-1zM312.6 308.7h1v1h-1zM327.3 308.7h1v1h-1zM338.1 308.7h2v1h-2zM345.9 308.7h1v1h-1zM351.8 308.7h1v1h-1zM311.6 309.7h1v1h-1zM316.5 309.7h1v1h-1zM318.5 309.7h1v1h-1zM314.6 310.7h1v1h-1zM319.5 310.7h1v1h-1zM317.5 311.6h1v1h-1zM316.5 312.6h1v1h-1zM314.6 313.6h1v1h-1zM316.5 313.6h1v1h-1zM317.5 314.6h2v1h-2zM325.4 315.6h1v1h-1zM349.9 315.6h1v1h-1zM382.2 315.6h1v1h-1zM321.4 316.5h1v1h-1zM345.9 316.5h1v1h-1zM381.2 316.5h1v1h-1zM319.5 317.5h1v1h-1zM321.4 318.5h2v1h-2zM325.4 318.5h1v1h-1zM376.3 318.5h1v1h-1zM381.2 318.5h1v1h-1zM321.4 319.5h3v1h-3zM372.4 319.5h1v1h-1zM376.3 321.4h1v1h-1zM381.2 322.4h1v1h-1zM325.4 323.4h1v1h-1zM327.3 323.4h1v1h-1zM383.2 323.4h1v1h-1zM327.3 325.4h1v1h-1zM338.1 325.4h1v1h-1zM379.3 325.4h1v1h-1zM327.3 326.3h1v1h-1zM330.3 327.3h1v1h-1zM334.2 327.3h1v1h-1zM349.9 327.3h1v1h-1zM378.3 327.3h2v1h-2zM382.2 327.3h1v1h-1zM338.1 328.3h1v1h-1zM345.9 328.3h1v1h-1zM378.3 328.3h1v1h-1zM383.2 329.3h1v1h-1zM376.3 330.3h1v1h-1zM375.3 333.2h2v1h-2zM378.3 334.2h1v1h-1zM338.1 335.2h1v1h-1zM378.3 336.1h1v1h-1zM382.2 336.1h1v1h-1zM374.4 337.1h2v1h-2zM340.1 338.1h1v1h-1zM346.9 338.1h1v1h-1zM351.8 338.1h1v1h-1zM342 339.1h2v1h-2zM345 339.1h1v1h-1zM347.9 339.1h2v1h-2zM351.8 339.1h1v1h-1zM360.6 342h1v1h-1zM366.5 342h1v1h-1zM345.9 343h1v1h-1zM345.9 344h2v1h-2zM348.9 345h1v1h-1zM360.6 345h1v1h-1zM364.6 345h1v1h-1zM363.6 346.9h1v1h-1zM366.5 346.9h1v1h-1zM373.4 347.9h1v1h-1zM372.4 351.8h1v1h-1zM364.6 352.8h1v1h-1zM370.4 352.8h1v1h-1zM364.6 355.7h1v1h-1zM373.4 355.7h1v1h-1zM364.6 360.6h1v1h-1zM364.6 361.6h1v1h-1zM372.4 361.6h1v1h-1zM369.5 362.6h1v1h-1zM379.3 378.3h1v1h-1zM386.1 380.2h1v1h-1zM386.1 381.2h2v1h-2zM389.1 387.1h1v1h-1z"/><path fill="#B81E18" d="M263.6 32.3h1v1h-1zM274.4 32.3h1v1h-1zM300.9 32.3h1v1h-1zM159.7 40.2h1v1h-1zM358.7 47h1v1h-1zM147 48h1v1h-1zM153.9 48h1v1h-1zM147 49h1v1h-1zM149.9 49h1v1h-1zM153.9 49h1v1h-1zM349.9 49h1v1h-1zM358.7 49h1v1h-1zM153.9 50h1v1h-1zM175.4 50h1v1h-1zM147 52.9h1v1h-1zM354.8 52.9h1v1h-1zM332.2 57.8h1v1h-1zM275.4 61.7h1v1h-1zM160.7 65.7h1v1h-1zM160.7 66.6h1v1h-1zM178.4 66.6h1v1h-1zM332.2 67.6h1v1h-1zM338.1 67.6h1v1h-1zM342 67.6h1v1h-1zM173.5 69.6h1v1h-1zM173.5 72.5h1v1h-1zM175.4 72.5h1v1h-1zM338.1 73.5h1v1h-1zM349.9 76.4h1v1h-1zM173.5 78.4h1v1h-1zM175.4 78.4h1v1h-1zM349.9 79.4h1v1h-1zM323.4 81.3h1v1h-1zM343 82.3h1v1h-1zM346.9 82.3h1v1h-1zM198.9 84.3h1v1h-1zM324.4 87.2h1v1h-1zM328.3 87.2h1v1h-1zM315.6 88.2h1v1h-1zM318.5 88.2h1v1h-1zM324.4 88.2h1v1h-1zM326.3 88.2h1v1h-1zM328.3 88.2h1v1h-1zM332.2 88.2h1v1h-1zM180.3 90.2h1v1h-1zM212.7 94.1h1v1h-1zM247.9 94.1h1v1h-1zM180.3 95.1h1v1h-1zM182.3 95.1h1v1h-1zM329.3 95.1h1v1h-1zM177.4 99h1v1h-1zM180.3 99h1v1h-1zM267.5 100h1v1h-1zM318.5 100h1v1h-1zM323.4 100h1v1h-1zM332.2 100h2v1h-2zM171.5 100.9h1v1h-1zM177.4 100.9h2v1h-2zM180.3 100.9h1v1h-1zM182.3 100.9h1v1h-1zM326.3 100.9h1v1h-1zM328.3 100.9h1v1h-1zM360.6 100.9h1v1h-1zM362.6 100.9h1v1h-1zM174.4 102.9h1v1h-1zM180.3 102.9h1v1h-1zM182.3 102.9h1v1h-1zM322.4 102.9h1v1h-1zM329.3 102.9h1v1h-1zM362.6 102.9h1v1h-1zM171.5 104.9h1v1h-1zM177.4 104.9h1v1h-1zM215.6 104.9h1v1h-1zM141.1 106.8h1v1h-1zM365.5 106.8h1v1h-1zM171.5 107.8h1v1h-1zM178.4 107.8h1v1h-1zM180.3 107.8h1v1h-1zM303.8 107.8h1v1h-1zM146 108.8h1v1h-1zM362.6 109.8h1v1h-1zM365.5 109.8h1v1h-1zM149.9 110.7h1v1h-1zM147 111.7h1v1h-1zM157.8 111.7h1v1h-1zM159.7 111.7h1v1h-1zM162.7 111.7h1v1h-1zM165.6 111.7h1v1h-1zM229.3 111.7h1v1h-1zM119.6 112.7h1v1h-1zM132.3 112.7h1v1h-1zM156.8 112.7h1v1h-1zM165.6 112.7h2v1h-2zM181.3 112.7h1v1h-1zM198.9 112.7h1v1h-1zM362.6 112.7h1v1h-1zM149.9 113.7h1v1h-1zM151.9 113.7h2v1h-2zM279.3 113.7h1v1h-1zM360.6 113.7h1v1h-1zM332.2 114.7h1v1h-1zM146 115.6h2v1h-2zM159.7 116.6h1v1h-1zM119.6 117.6h1v1h-1zM122.5 117.6h1v1h-1zM171.5 117.6h1v1h-1zM119.6 118.6h2v1h-2zM122.5 118.6h1v1h-1zM165.6 118.6h1v1h-1zM360.6 118.6h1v1h-1zM127.4 119.6h2v1h-2zM132.3 119.6h1v1h-1zM156.8 119.6h1v1h-1zM159.7 119.6h1v1h-1zM164.6 119.6h1v1h-1zM170.5 119.6h1v1h-1zM181.3 119.6h1v1h-1zM202.9 119.6h1v1h-1zM205.8 119.6h1v1h-1zM121.5 120.5h1v1h-1zM124.5 120.5h1v1h-1zM128.4 120.5h3v1h-3zM140.1 120.5h1v1h-1zM143.1 120.5h1v1h-1zM152.9 120.5h1v1h-1zM159.7 120.5h1v1h-1zM169.5 120.5h1v1h-1zM205.8 120.5h1v1h-1zM273.4 120.5h1v1h-1zM132.3 121.5h1v1h-1zM273.4 121.5h1v1h-1zM282.2 121.5h1v1h-1zM126.4 122.5h1v1h-1zM146 122.5h1v1h-1zM152.9 122.5h1v1h-1zM162.7 122.5h2v1h-2zM167.6 122.5h1v1h-1zM199.9 122.5h1v1h-1zM201.9 122.5h1v1h-1zM203.8 122.5h2v1h-2zM273.4 122.5h1v1h-1zM279.3 122.5h2v1h-2zM130.3 123.5h1v1h-1zM138.2 123.5h1v1h-1zM162.7 123.5h2v1h-2zM181.3 123.5h1v1h-1zM200.9 123.5h1v1h-1zM263.6 123.5h1v1h-1zM389.1 123.5h1v1h-1zM128.4 124.5h1v1h-1zM131.3 124.5h2v1h-2zM156.8 124.5h1v1h-1zM162.7 124.5h1v1h-1zM198.9 124.5h1v1h-1zM126.4 125.4h1v1h-1zM128.4 125.4h1v1h-1zM132.3 125.4h1v1h-1zM147 125.4h1v1h-1zM168.6 125.4h1v1h-1zM171.5 125.4h1v1h-1zM198.9 125.4h1v1h-1zM131.3 126.4h2v1h-2zM141.1 126.4h1v1h-1zM140.1 127.4h1v1h-1zM143.1 127.4h1v1h-1zM168.6 127.4h1v1h-1zM129.4 128.4h1v1h-1zM165.6 128.4h1v1h-1zM171.5 128.4h1v1h-1zM198.9 128.4h1v1h-1zM202.9 128.4h1v1h-1zM143.1 129.4h1v1h-1zM156.8 129.4h1v1h-1zM158.8 129.4h2v1h-2zM164.6 129.4h1v1h-1zM166.6 129.4h1v1h-1zM168.6 129.4h1v1h-1zM181.3 129.4h1v1h-1zM201.9 129.4h1v1h-1zM355.7 129.4h1v1h-1zM140.1 130.3h4v1h-4zM156.8 130.3h1v1h-1zM166.6 130.3h1v1h-1zM168.6 130.3h1v1h-1zM181.3 130.3h1v1h-1zM202.9 130.3h1v1h-1zM205.8 130.3h1v1h-1zM281.3 130.3h2v1h-2zM295 130.3h2v1h-2zM137.2 131.3h1v1h-1zM141.1 131.3h1v1h-1zM155.8 131.3h1v1h-1zM166.6 131.3h1v1h-1zM169.5 131.3h1v1h-1zM176.4 131.3h1v1h-1zM182.3 131.3h1v1h-1zM198.9 131.3h1v1h-1zM202.9 131.3h2v1h-2zM205.8 131.3h1v1h-1zM328.3 131.3h1v1h-1zM367.5 131.3h1v1h-1zM139.2 132.3h1v1h-1zM142.1 132.3h1v1h-1zM147 132.3h1v1h-1zM154.8 132.3h2v1h-2zM159.7 132.3h1v1h-1zM172.5 132.3h1v1h-1zM182.3 132.3h1v1h-1zM199.9 132.3h1v1h-1zM203.8 132.3h1v1h-1zM263.6 132.3h1v1h-1zM268.5 132.3h1v1h-1zM276.4 132.3h1v1h-1zM280.3 132.3h1v1h-1zM285.2 132.3h1v1h-1zM352.8 133.3h1v1h-1zM352.8 134.3h1v1h-1zM206.8 135.2h1v1h-1zM282.2 135.2h1v1h-1zM296 135.2h1v1h-1zM281.3 136.2h1v1h-1zM171.5 137.2h1v1h-1zM367.5 137.2h1v1h-1zM143.1 138.2h1v1h-1zM152.9 138.2h1v1h-1zM164.6 138.2h1v1h-1zM171.5 138.2h1v1h-1zM198.9 138.2h1v1h-1zM202.9 138.2h1v1h-1zM157.8 139.2h1v1h-1zM163.7 139.2h1v1h-1zM168.6 139.2h1v1h-1zM144.1 140.1h1v1h-1zM151.9 140.1h2v1h-2zM156.8 140.1h1v1h-1zM158.8 140.1h1v1h-1zM162.7 140.1h1v1h-1zM164.6 140.1h1v1h-1zM167.6 140.1h1v1h-1zM172.5 140.1h1v1h-1zM199.9 140.1h1v1h-1zM204.8 140.1h1v1h-1zM268.5 140.1h1v1h-1zM387.1 140.1h1v1h-1zM146 141.1h2v1h-2zM164.6 141.1h1v1h-1zM166.6 141.1h1v1h-1zM181.3 141.1h1v1h-1zM355.7 141.1h1v1h-1zM359.7 141.1h1v1h-1zM146 142.1h1v1h-1zM152.9 142.1h1v1h-1zM168.6 142.1h1v1h-1zM182.3 142.1h1v1h-1zM145 143.1h1v1h-1zM147 143.1h1v1h-1zM156.8 143.1h1v1h-1zM158.8 143.1h2v1h-2zM169.5 143.1h1v1h-1zM195 143.1h1v1h-1zM199.9 143.1h1v1h-1zM201.9 143.1h1v1h-1zM263.6 143.1h1v1h-1zM171.5 144.1h1v1h-1zM359.7 144.1h1v1h-1zM365.5 144.1h1v1h-1zM387.1 144.1h1v1h-1zM146 145h1v1h-1zM157.8 145h1v1h-1zM208.7 145h1v1h-1zM223.4 145h2v1h-2zM152.9 146h1v1h-1zM162.7 146h3v1h-3zM199.9 146h1v1h-1zM205.8 146h1v1h-1zM156.8 147h1v1h-1zM170.5 147h1v1h-1zM152.9 149h1v1h-1zM157.8 149h1v1h-1zM165.6 149h1v1h-1zM152.9 149.9h1v1h-1zM157.8 149.9h1v1h-1zM171.5 149.9h1v1h-1zM171.5 150.9h1v1h-1zM157.8 151.9h1v1h-1zM159.7 152.9h1v1h-1zM162.7 152.9h3v1h-3zM170.5 152.9h1v1h-1zM181.3 152.9h1v1h-1zM195 152.9h1v1h-1zM201.9 152.9h1v1h-1zM205.8 152.9h1v1h-1zM158.8 153.9h1v1h-1zM166.6 153.9h1v1h-1zM168.6 153.9h1v1h-1zM155.8 154.8h1v1h-1zM387.1 154.8h1v1h-1zM158.8 155.8h1v1h-1zM162.7 155.8h2v1h-2zM170.5 155.8h1v1h-1zM201.9 155.8h1v1h-1zM205.8 155.8h1v1h-1zM252.8 155.8h1v1h-1zM256.8 155.8h1v1h-1zM160.7 156.8h1v1h-1zM162.7 156.8h2v1h-2zM169.5 156.8h1v1h-1zM181.3 156.8h1v1h-1zM195 156.8h1v1h-1zM197 156.8h2v1h-2zM201.9 156.8h2v1h-2zM205.8 156.8h1v1h-1zM389.1 156.8h1v1h-1zM172.5 157.8h1v1h-1zM176.4 157.8h1v1h-1zM184.2 157.8h1v1h-1zM192.1 157.8h1v1h-1zM196 157.8h1v1h-1zM199.9 157.8h1v1h-1zM262.6 157.8h1v1h-1zM270.5 157.8h1v1h-1zM274.4 157.8h2v1h-2zM308.7 157.8h1v1h-1zM162.7 158.8h2v1h-2zM165.6 158.8h1v1h-1zM202.9 158.8h1v1h-1zM163.7 159.7h1v1h-1zM181.3 159.7h1v1h-1zM198.9 159.7h1v1h-1zM202.9 159.7h1v1h-1zM205.8 159.7h1v1h-1zM166.6 160.7h1v1h-1zM163.7 162.7h2v1h-2zM166.6 162.7h1v1h-1zM170.5 162.7h1v1h-1zM198.9 162.7h1v1h-1zM367.5 162.7h2v1h-2zM164.6 163.7h1v1h-1zM169.5 163.7h2v1h-2zM202.9 163.7h1v1h-1zM167.6 164.6h1v1h-1zM181.3 164.6h1v1h-1zM368.5 164.6h1v1h-1zM172.5 165.6h1v1h-1zM176.4 165.6h1v1h-1zM200.9 165.6h1v1h-1zM203.8 165.6h2v1h-2zM263.6 165.6h1v1h-1zM276.4 165.6h1v1h-1zM172.5 166.6h1v1h-1zM198.9 167.6h1v1h-1zM192.1 168.6h1v1h-1zM194 168.6h1v1h-1zM197 168.6h2v1h-2zM256.8 168.6h2v1h-2zM274.4 168.6h1v1h-1zM308.7 168.6h1v1h-1zM172.5 169.5h1v1h-1zM205.8 169.5h1v1h-1zM286.2 169.5h1v1h-1zM173.5 170.5h1v1h-1zM192.1 170.5h1v1h-1zM195 170.5h1v1h-1zM198.9 170.5h2v1h-2zM201.9 170.5h2v1h-2zM205.8 170.5h1v1h-1zM192.1 171.5h1v1h-1zM195 171.5h1v1h-1zM198 171.5h1v1h-1zM203.8 171.5h1v1h-1zM256.8 171.5h1v1h-1zM274.4 171.5h1v1h-1zM276.4 171.5h1v1h-1zM300.9 171.5h1v1h-1zM316.5 171.5h1v1h-1zM345.9 171.5h1v1h-1zM176.4 172.5h1v1h-1zM181.3 172.5h1v1h-1zM198.9 172.5h1v1h-1zM198.9 176.4h1v1h-1zM322.4 178.4h1v1h-1zM181.3 180.3h1v1h-1zM184.2 181.3h1v1h-1zM192.1 181.3h1v1h-1zM195 181.3h1v1h-1zM203.8 181.3h2v1h-2zM257.7 181.3h1v1h-1zM262.6 181.3h1v1h-1zM268.5 181.3h1v1h-1zM270.5 181.3h1v1h-1zM277.3 181.3h1v1h-1zM325.4 181.3h1v1h-1zM198.9 182.3h1v1h-1zM277.3 182.3h1v1h-1zM325.4 182.3h1v1h-1zM278.3 183.3h1v1h-1zM198.9 184.2h1v1h-1zM256.8 184.2h1v1h-1zM327.3 184.2h1v1h-1zM278.3 186.2h1v1h-1zM280.3 186.2h1v1h-1zM278.3 189.1h1v1h-1zM246 191.1h1v1h-1zM193.1 192.1h1v1h-1zM195 192.1h1v1h-1zM201.9 192.1h1v1h-1zM204.8 192.1h1v1h-1zM256.8 192.1h1v1h-1zM263.6 192.1h1v1h-1zM194 193.1h1v1h-1zM241.1 193.1h1v1h-1zM246 193.1h1v1h-1zM251.9 193.1h1v1h-1zM391 193.1h1v1h-1zM199.9 194h1v1h-1zM263.6 194h1v1h-1zM391 194h1v1h-1zM199.9 195h1v1h-1zM263.6 195h1v1h-1zM295 195h1v1h-1zM201.9 197h1v1h-1zM204.8 197h2v1h-2zM256.8 197h1v1h-1zM263.6 197h1v1h-1zM268.5 197h1v1h-1zM199.9 198h2v1h-2zM205.8 198h1v1h-1zM256.8 198h1v1h-1zM277.3 198h1v1h-1zM247.9 198.9h1v1h-1zM255.8 198.9h1v1h-1zM265.6 198.9h1v1h-1zM272.4 198.9h1v1h-1zM274.4 198.9h1v1h-1zM296.9 198.9h1v1h-1zM299.9 198.9h1v1h-1zM310.7 198.9h1v1h-1zM315.6 198.9h2v1h-2zM325.4 198.9h1v1h-1zM338.1 198.9h1v1h-1zM345.9 198.9h1v1h-1zM347.9 198.9h1v1h-1zM349.9 198.9h1v1h-1zM268.5 199.9h1v1h-1zM203.8 200.9h1v1h-1zM256.8 200.9h1v1h-1zM263.6 200.9h1v1h-1zM268.5 200.9h1v1h-1zM271.5 201.9h1v1h-1zM275.4 201.9h1v1h-1zM277.3 201.9h1v1h-1zM308.7 201.9h1v1h-1zM262.6 202.9h1v1h-1zM275.4 202.9h1v1h-1zM298.9 202.9h1v1h-1zM308.7 202.9h1v1h-1zM256.8 203.8h1v1h-1zM262.6 203.8h1v1h-1zM270.5 203.8h1v1h-1zM277.3 203.8h1v1h-1zM262.6 204.8h2v1h-2zM274.4 204.8h3v1h-3zM375.3 204.8h1v1h-1zM380.2 204.8h1v1h-1zM256.8 205.8h1v1h-1zM266.6 205.8h1v1h-1zM270.5 205.8h1v1h-1zM276.4 205.8h1v1h-1zM308.7 205.8h1v1h-1zM380.2 205.8h1v1h-1zM383.2 205.8h1v1h-1zM286.2 209.7h1v1h-1zM285.2 217.6h2v1h-2zM263.6 219.5h1v1h-1zM277.3 219.5h1v1h-1zM256.8 220.5h1v1h-1zM274.4 220.5h1v1h-1zM256.8 222.5h1v1h-1zM254.8 225.4h1v1h-1zM263.6 227.4h1v1h-1zM248.9 228.3h2v1h-2zM272.4 228.3h1v1h-1zM300.9 229.3h1v1h-1zM300.9 234.2h1v1h-1zM376.3 234.2h1v1h-1zM265.6 236.2h1v1h-1zM268.5 236.2h1v1h-1zM274.4 238.1h1v1h-1zM277.3 238.1h1v1h-1zM315.6 240.1h2v1h-2zM328.3 240.1h1v1h-1zM367.5 242.1h1v1h-1zM312.6 243h1v1h-1zM360.6 243h1v1h-1zM314.6 244h1v1h-1zM312.6 246h1v1h-1zM263.6 247h1v1h-1zM312.6 247h1v1h-1zM373.4 247h1v1h-1zM275.4 247.9h1v1h-1zM335.2 247.9h1v1h-1zM249.9 248.9h1v1h-1zM268.5 248.9h1v1h-1zM272.4 248.9h1v1h-1zM275.4 248.9h1v1h-1zM300.9 248.9h1v1h-1zM345.9 248.9h1v1h-1zM262.6 249.9h1v1h-1zM268.5 249.9h1v1h-1zM374.4 250.9h1v1h-1zM254.8 251.9h2v1h-2zM260.7 251.9h1v1h-1zM274.4 251.9h1v1h-1zM277.3 251.9h1v1h-1zM365.5 251.9h1v1h-1zM373.4 251.9h2v1h-2zM383.2 251.9h1v1h-1zM255.8 252.8h1v1h-1zM270.5 252.8h1v1h-1zM272.4 252.8h1v1h-1zM274.4 252.8h1v1h-1zM308.7 252.8h1v1h-1zM321.4 252.8h1v1h-1zM377.3 252.8h1v1h-1zM256.8 253.8h1v1h-1zM257.7 254.8h1v1h-1zM275.4 254.8h1v1h-1zM277.3 254.8h1v1h-1zM276.4 255.8h1v1h-1zM299.9 255.8h1v1h-1zM388.1 255.8h1v1h-1zM260.7 256.8h2v1h-2zM265.6 256.8h1v1h-1zM269.5 256.8h1v1h-1zM281.3 256.8h1v1h-1zM299.9 256.8h2v1h-2zM305.8 256.8h1v1h-1zM316.5 256.8h1v1h-1zM325.4 256.8h1v1h-1zM328.3 256.8h1v1h-1zM339.1 256.8h1v1h-1zM349.9 256.8h1v1h-1zM260.7 257.7h1v1h-1zM268.5 257.7h1v1h-1zM338.1 257.7h1v1h-1zM349.9 257.7h1v1h-1zM359.7 257.7h3v1h-3zM364.6 257.7h1v1h-1zM289.1 260.7h1v1h-1zM366.5 261.7h1v1h-1zM370.4 261.7h1v1h-1zM269.5 262.6h1v1h-1zM299.9 262.6h1v1h-1zM308.7 262.6h1v1h-1zM338.1 262.6h1v1h-1zM347.9 262.6h1v1h-1zM269.5 263.6h1v1h-1zM281.3 263.6h2v1h-2zM299.9 263.6h1v1h-1zM307.7 263.6h1v1h-1zM314.6 263.6h2v1h-2zM334.2 263.6h1v1h-1zM346.9 263.6h2v1h-2zM351.8 263.6h1v1h-1zM366.5 263.6h1v1h-1zM369.5 263.6h1v1h-1zM274.4 264.6h1v1h-1zM276.4 264.6h1v1h-1zM270.5 265.6h1v1h-1zM274.4 265.6h4v1h-4zM271.5 266.6h1v1h-1zM276.4 266.6h1v1h-1zM272.4 267.5h2v1h-2zM364.6 267.5h1v1h-1zM280.3 268.5h1v1h-1zM338.1 268.5h2v1h-2zM345.9 268.5h3v1h-3zM349.9 268.5h1v1h-1zM351.8 268.5h1v1h-1zM357.7 268.5h1v1h-1zM361.6 268.5h1v1h-1zM366.5 268.5h1v1h-1zM274.4 269.5h1v1h-1zM357.7 269.5h1v1h-1zM359.7 269.5h2v1h-2zM369.5 269.5h1v1h-1zM282.2 270.5h1v1h-1zM289.1 270.5h1v1h-1zM300.9 270.5h1v1h-1zM338.1 270.5h1v1h-1zM347.9 270.5h2v1h-2zM316.5 271.5h1v1h-1zM345.9 271.5h1v1h-1zM364.6 271.5h1v1h-1zM370.4 271.5h1v1h-1zM343 272.4h1v1h-1zM345.9 272.4h1v1h-1zM359.7 272.4h2v1h-2zM297.9 274.4h2v1h-2zM307.7 274.4h1v1h-1zM316.5 274.4h1v1h-1zM318.5 274.4h1v1h-1zM327.3 274.4h1v1h-1zM338.1 274.4h1v1h-1zM351.8 274.4h1v1h-1zM307.7 275.4h1v1h-1zM315.6 275.4h2v1h-2zM334.2 275.4h1v1h-1zM339.1 275.4h1v1h-1zM342 275.4h1v1h-1zM349.9 275.4h1v1h-1zM359.7 275.4h1v1h-1zM281.3 276.4h1v1h-1zM298.9 276.4h1v1h-1zM300.9 276.4h1v1h-1zM308.7 276.4h1v1h-1zM349.9 276.4h1v1h-1zM285.2 277.3h1v1h-1zM296.9 277.3h1v1h-1zM298.9 277.3h1v1h-1zM300.9 277.3h1v1h-1zM304.8 277.3h1v1h-1zM327.3 277.3h1v1h-1zM339.1 277.3h1v1h-1zM348.9 277.3h1v1h-1zM346.9 279.3h1v1h-1zM351.8 279.3h1v1h-1zM359.7 279.3h1v1h-1zM343 285.2h1v1h-1zM346.9 285.2h1v1h-1zM384.2 285.2h1v1h-1zM292 291.1h1v1h-1zM295 291.1h1v1h-1zM302.8 291.1h1v1h-1zM302.8 293h2v1h-2zM302.8 295h1v1h-1zM304.8 295h1v1h-1zM307.7 295h1v1h-1zM380.2 296h1v1h-1zM304.8 296.9h1v1h-1zM307.7 296.9h1v1h-1zM315.6 296.9h2v1h-2zM305.8 297.9h1v1h-1zM310.7 297.9h1v1h-1zM315.6 297.9h1v1h-1zM382.2 297.9h1v1h-1zM302.8 298.9h1v1h-1zM304.8 298.9h2v1h-2zM307.7 298.9h1v1h-1zM310.7 298.9h2v1h-2zM317.5 298.9h2v1h-2zM305.8 299.9h1v1h-1zM311.6 299.9h1v1h-1zM305.8 300.9h1v1h-1zM311.6 300.9h1v1h-1zM314.6 300.9h1v1h-1zM318.5 300.9h1v1h-1zM323.4 300.9h1v1h-1zM325.4 300.9h1v1h-1zM349.9 300.9h1v1h-1zM303.8 302.8h1v1h-1zM306.7 302.8h1v1h-1zM308.7 303.8h1v1h-1zM315.6 304.8h2v1h-2zM310.7 305.8h2v1h-2zM359.7 306.7h1v1h-1zM309.7 307.7h1v1h-1zM311.6 307.7h1v1h-1zM315.6 307.7h1v1h-1zM318.5 307.7h1v1h-1zM313.6 308.7h2v1h-2zM319.5 308.7h1v1h-1zM313.6 310.7h1v1h-1zM317.5 310.7h2v1h-2zM318.5 311.6h2v1h-2zM315.6 312.6h1v1h-1zM315.6 313.6h1v1h-1zM316.5 314.6h1v1h-1zM319.5 315.6h1v1h-1zM345.9 315.6h1v1h-1zM372.4 315.6h1v1h-1zM379.3 315.6h1v1h-1zM391 315.6h1v1h-1zM325.4 316.5h1v1h-1zM371.4 316.5h1v1h-1zM376.3 316.5h1v1h-1zM371.4 319.5h1v1h-1zM376.3 319.5h1v1h-1zM381.2 319.5h1v1h-1zM372.4 321.4h1v1h-1zM374.4 321.4h2v1h-2zM381.2 321.4h1v1h-1zM371.4 322.4h1v1h-1zM371.4 325.4h2v1h-2zM374.4 326.3h1v1h-1zM328.3 327.3h1v1h-1zM338.1 327.3h2v1h-2zM339.1 334.2h1v1h-1zM345.9 334.2h1v1h-1zM338.1 337.1h1v1h-1zM347.9 338.1h1v1h-1zM349.9 339.1h1v1h-1zM347.9 345h1v1h-1zM349.9 345h1v1h-1zM363.6 345h1v1h-1zM373.4 345h1v1h-1zM351.8 345.9h1v1h-1zM348.9 346.9h1v1h-1zM351.8 346.9h1v1h-1zM360.6 346.9h1v1h-1zM364.6 346.9h1v1h-1zM351.8 347.9h1v1h-1zM351.8 348.9h1v1h-1zM364.6 351.8h1v1h-1zM373.4 352.8h1v1h-1zM373.4 353.8h1v1h-1zM370.4 360.6h1v1h-1zM373.4 360.6h1v1h-1zM369.5 361.6h2v1h-2zM373.4 362.6h1v1h-1z"/><path fill="#CC2C14" d="M263.6 33.3h1v1h-1zM354.8 47h1v1h-1zM147 50h1v1h-1zM149.9 50h1v1h-1zM165.6 50h1v1h-1zM183.3 51h1v1h-1zM354.8 51.9h1v1h-1zM358.7 51.9h1v1h-1zM149.9 52.9h1v1h-1zM356.7 52.9h1v1h-1zM352.8 55.9h1v1h-1zM338.1 63.7h1v1h-1zM275.4 65.7h1v1h-1zM323.4 68.6h1v1h-1zM284.2 70.6h1v1h-1zM318.5 72.5h1v1h-1zM323.4 72.5h1v1h-1zM349.9 75.5h1v1h-1zM318.5 81.3h1v1h-1zM247.9 84.3h1v1h-1zM326.3 87.2h1v1h-1zM329.3 87.2h1v1h-1zM333.2 87.2h1v1h-1zM177.4 90.2h2v1h-2zM177.4 95.1h1v1h-1zM315.6 95.1h1v1h-1zM326.3 95.1h1v1h-1zM265.6 97h1v1h-1zM171.5 99h1v1h-1zM265.6 100h1v1h-1zM269.5 100h1v1h-1zM273.4 100h1v1h-1zM324.4 100h1v1h-1zM326.3 100h1v1h-1zM332.2 100.9h2v1h-2zM364.6 100.9h1v1h-1zM333.2 102.9h1v1h-1zM178.4 104.9h1v1h-1zM142.1 108.8h1v1h-1zM112.7 111.7h1v1h-1zM171.5 111.7h1v1h-1zM226.4 111.7h1v1h-1zM228.3 111.7h1v1h-1zM140.1 112.7h1v1h-1zM143.1 112.7h1v1h-1zM365.5 113.7h1v1h-1zM141.1 115.6h1v1h-1zM274.4 115.6h1v1h-1zM279.3 115.6h1v1h-1zM365.5 116.6h1v1h-1zM389.1 116.6h1v1h-1zM364.6 118.6h1v1h-1zM121.5 119.6h1v1h-1zM123.5 119.6h1v1h-1zM140.1 119.6h1v1h-1zM143.1 119.6h1v1h-1zM165.6 119.6h1v1h-1zM168.6 119.6h1v1h-1zM198.9 119.6h1v1h-1zM123.5 120.5h1v1h-1zM131.3 120.5h1v1h-1zM168.6 120.5h1v1h-1zM170.5 120.5h1v1h-1zM202.9 120.5h1v1h-1zM270.5 121.5h1v1h-1zM125.4 122.5h1v1h-1zM127.4 122.5h1v1h-1zM130.3 122.5h1v1h-1zM142.1 122.5h2v1h-2zM156.8 122.5h1v1h-1zM164.6 122.5h1v1h-1zM166.6 122.5h1v1h-1zM169.5 122.5h1v1h-1zM285.2 122.5h1v1h-1zM389.1 122.5h2v1h-2zM124.5 123.5h1v1h-1zM128.4 123.5h1v1h-1zM140.1 123.5h1v1h-1zM156.8 123.5h1v1h-1zM166.6 123.5h1v1h-1zM202.9 123.5h1v1h-1zM129.4 124.5h1v1h-1zM157.8 124.5h1v1h-1zM147 126.4h1v1h-1zM130.3 127.4h3v1h-3zM157.8 127.4h1v1h-1zM171.5 127.4h1v1h-1zM143.1 128.4h1v1h-1zM165.6 130.3h1v1h-1zM198.9 130.3h1v1h-1zM273.4 130.3h1v1h-1zM280.3 130.3h1v1h-1zM285.2 130.3h1v1h-1zM138.2 131.3h1v1h-1zM156.8 131.3h1v1h-1zM164.6 131.3h2v1h-2zM171.5 131.3h1v1h-1zM334.2 131.3h1v1h-1zM352.8 131.3h1v1h-1zM354.8 131.3h1v1h-1zM356.7 131.3h1v1h-1zM137.2 132.3h1v1h-1zM146 132.3h1v1h-1zM167.6 132.3h1v1h-1zM204.8 132.3h1v1h-1zM334.2 132.3h1v1h-1zM140.1 137.2h1v1h-1zM143.1 137.2h1v1h-1zM165.6 138.2h1v1h-1zM146 140.1h2v1h-2zM159.7 140.1h1v1h-1zM170.5 140.1h1v1h-1zM181.3 140.1h1v1h-1zM197 140.1h1v1h-1zM198.9 140.1h1v1h-1zM205.8 140.1h1v1h-1zM142.1 141.1h1v1h-1zM156.8 141.1h1v1h-1zM165.6 141.1h1v1h-1zM168.6 141.1h1v1h-1zM198.9 141.1h1v1h-1zM202.9 141.1h1v1h-1zM157.8 142.1h1v1h-1zM176.4 142.1h1v1h-1zM198.9 142.1h1v1h-1zM164.6 143.1h1v1h-1zM166.6 143.1h1v1h-1zM170.5 143.1h1v1h-1zM202.9 143.1h1v1h-1zM165.6 146h1v1h-1zM168.6 146h1v1h-1zM202.9 146h1v1h-1zM149 147h1v1h-1zM152.9 147h1v1h-1zM165.6 147h1v1h-1zM152.9 150.9h1v1h-1zM155.8 152.9h1v1h-1zM158.8 152.9h1v1h-1zM166.6 152.9h1v1h-1zM197 152.9h1v1h-1zM202.9 152.9h1v1h-1zM154.8 153.9h1v1h-1zM171.5 153.9h1v1h-1zM165.6 154.8h1v1h-1zM159.7 155.8h1v1h-1zM166.6 155.8h1v1h-1zM198.9 155.8h1v1h-1zM247.9 155.8h1v1h-1zM164.6 156.8h1v1h-1zM166.6 156.8h1v1h-1zM170.5 156.8h1v1h-1zM167.6 157.8h1v1h-1zM182.3 157.8h1v1h-1zM194 157.8h1v1h-1zM204.8 157.8h1v1h-1zM277.3 157.8h1v1h-1zM300.9 157.8h1v1h-1zM159.7 158.8h1v1h-1zM166.6 158.8h1v1h-1zM170.5 158.8h2v1h-2zM198.9 158.8h1v1h-1zM160.7 159.7h1v1h-1zM166.6 159.7h1v1h-1zM169.5 162.7h1v1h-1zM166.6 163.7h1v1h-1zM168.6 163.7h1v1h-1zM198.9 163.7h1v1h-1zM170.5 164.6h1v1h-1zM367.5 164.6h1v1h-1zM181.3 165.6h1v1h-1zM199.9 165.6h1v1h-1zM256.8 165.6h1v1h-1zM169.5 166.6h1v1h-1zM205.8 166.6h1v1h-1zM170.5 167.6h1v1h-1zM176.4 168.6h1v1h-1zM201.9 168.6h2v1h-2zM205.8 168.6h1v1h-1zM202.9 169.5h1v1h-1zM294 169.5h1v1h-1zM172.5 170.5h1v1h-1zM197 171.5h1v1h-1zM201.9 171.5h1v1h-1zM204.8 171.5h1v1h-1zM268.5 171.5h1v1h-1zM271.5 171.5h1v1h-1zM277.3 171.5h1v1h-1zM308.7 171.5h1v1h-1zM181.3 176.4h1v1h-1zM327.3 178.4h1v1h-1zM197 181.3h1v1h-1zM199.9 181.3h1v1h-1zM256.8 181.3h1v1h-1zM263.6 181.3h1v1h-1zM275.4 181.3h2v1h-2zM197 192.1h1v1h-1zM205.8 192.1h1v1h-1zM256.8 194h1v1h-1zM202.9 195h1v1h-1zM256.8 195h1v1h-1zM381.2 195h1v1h-1zM198.9 196h1v1h-1zM274.4 197h1v1h-1zM391 197h1v1h-1zM387.1 198h2v1h-2zM248.9 198.9h1v1h-1zM257.7 198.9h1v1h-1zM270.5 198.9h1v1h-1zM273.4 198.9h1v1h-1zM298.9 198.9h1v1h-1zM300.9 198.9h1v1h-1zM204.8 199.9h1v1h-1zM262.6 199.9h1v1h-1zM268.5 201.9h1v1h-1zM251.9 202.9h1v1h-1zM274.4 202.9h1v1h-1zM300.9 202.9h1v1h-1zM263.6 203.8h1v1h-1zM295 203.8h1v1h-1zM268.5 204.8h1v1h-1zM277.3 205.8h1v1h-1zM375.3 205.8h1v1h-1zM292 209.7h1v1h-1zM286.2 211.7h1v1h-1zM263.6 220.5h1v1h-1zM277.3 220.5h1v1h-1zM253.8 222.5h1v1h-1zM373.4 222.5h1v1h-1zM381.2 222.5h1v1h-1zM256.8 223.4h1v1h-1zM256.8 227.4h1v1h-1zM257.7 228.3h1v1h-1zM271.5 228.3h1v1h-1zM277.3 228.3h1v1h-1zM308.7 228.3h1v1h-1zM316.5 228.3h1v1h-1zM319.5 240.1h1v1h-1zM360.6 241.1h1v1h-1zM364.6 241.1h1v1h-1zM364.6 245h1v1h-1zM387.1 245h1v1h-1zM335.2 246h1v1h-1zM321.4 247.9h1v1h-1zM328.3 247.9h1v1h-1zM251.9 248.9h1v1h-1zM262.6 248.9h1v1h-1zM270.5 248.9h1v1h-1zM274.4 248.9h1v1h-1zM277.3 248.9h1v1h-1zM256.8 249.9h1v1h-1zM275.4 249.9h1v1h-1zM365.5 250.9h1v1h-1zM263.6 251.9h1v1h-1zM268.5 251.9h1v1h-1zM381.2 251.9h1v1h-1zM257.7 252.8h1v1h-1zM276.4 252.8h2v1h-2zM318.5 252.8h2v1h-2zM373.4 252.8h1v1h-1zM255.8 254.8h1v1h-1zM274.4 254.8h1v1h-1zM262.6 255.8h1v1h-1zM268.5 255.8h1v1h-1zM274.4 255.8h2v1h-2zM258.7 256.8h1v1h-1zM267.5 256.8h1v1h-1zM271.5 256.8h1v1h-1zM273.4 256.8h1v1h-1zM297.9 256.8h1v1h-1zM304.8 256.8h1v1h-1zM327.3 256.8h1v1h-1zM338.1 256.8h1v1h-1zM346.9 256.8h1v1h-1zM271.5 257.7h2v1h-2zM276.4 257.7h2v1h-2zM308.7 257.7h1v1h-1zM345.9 257.7h1v1h-1zM366.5 257.7h1v1h-1zM388.1 257.7h1v1h-1zM262.6 258.7h1v1h-1zM282.2 259.7h1v1h-1zM285.2 259.7h1v1h-1zM262.6 260.7h2v1h-2zM285.2 260.7h1v1h-1zM262.6 261.7h1v1h-1zM369.5 261.7h1v1h-1zM267.5 262.6h1v1h-1zM271.5 262.6h1v1h-1zM345.9 262.6h1v1h-1zM349.9 262.6h1v1h-1zM300.9 263.6h1v1h-1zM310.7 263.6h1v1h-1zM316.5 263.6h2v1h-2zM339.1 263.6h1v1h-1zM349.9 263.6h1v1h-1zM357.7 263.6h1v1h-1zM268.5 264.6h1v1h-1zM270.5 264.6h1v1h-1zM267.5 265.6h1v1h-1zM267.5 266.6h1v1h-1zM270.5 266.6h1v1h-1zM274.4 266.6h1v1h-1zM275.4 267.5h1v1h-1zM360.6 267.5h1v1h-1zM370.4 267.5h1v1h-1zM269.5 268.5h1v1h-1zM296.9 268.5h1v1h-1zM298.9 268.5h1v1h-1zM300.9 268.5h1v1h-1zM308.7 268.5h1v1h-1zM270.5 269.5h1v1h-1zM273.4 270.5h1v1h-1zM308.7 270.5h1v1h-1zM316.5 270.5h1v1h-1zM272.4 271.5h1v1h-1zM308.7 271.5h1v1h-1zM360.6 271.5h1v1h-1zM366.5 271.5h1v1h-1zM346.9 272.4h1v1h-1zM280.3 274.4h2v1h-2zM308.7 274.4h1v1h-1zM349.9 274.4h1v1h-1zM359.7 274.4h1v1h-1zM281.3 275.4h1v1h-1zM297.9 275.4h4v1h-4zM308.7 275.4h1v1h-1zM346.9 275.4h1v1h-1zM348.9 275.4h1v1h-1zM360.6 275.4h1v1h-1zM280.3 276.4h1v1h-1zM338.1 276.4h1v1h-1zM345.9 276.4h1v1h-1zM279.3 277.3h1v1h-1zM308.7 277.3h1v1h-1zM316.5 277.3h1v1h-1zM338.1 277.3h1v1h-1zM347.9 277.3h1v1h-1zM347.9 279.3h1v1h-1zM380.2 285.2h1v1h-1zM303.8 291.1h1v1h-1zM323.4 291.1h1v1h-1zM295 292h1v1h-1zM300.9 295h1v1h-1zM384.2 295h1v1h-1zM384.2 296h1v1h-1zM304.8 297.9h1v1h-1zM307.7 297.9h1v1h-1zM315.6 298.9h1v1h-1zM307.7 299.9h1v1h-1zM303.8 300.9h1v1h-1zM317.5 300.9h1v1h-1zM304.8 302.8h1v1h-1zM307.7 302.8h2v1h-2zM305.8 304.8h1v1h-1zM307.7 304.8h1v1h-1zM310.7 304.8h2v1h-2zM316.5 307.7h1v1h-1zM325.4 308.7h1v1h-1zM310.7 309.7h1v1h-1zM315.6 309.7h1v1h-1zM315.6 310.7h1v1h-1zM313.6 311.6h1v1h-1zM316.5 311.6h1v1h-1zM382.2 313.6h1v1h-1zM391 313.6h1v1h-1zM376.3 315.6h1v1h-1zM379.3 316.5h1v1h-1zM379.3 319.5h1v1h-1zM379.3 322.4h1v1h-1zM345.9 327.3h1v1h-1zM338.1 334.2h1v1h-1zM348.9 338.1h1v1h-1zM340.1 339.1h1v1h-1zM345.9 339.1h1v1h-1zM345.9 340.1h1v1h-1zM347.9 346.9h1v1h-1zM351.8 349.9h1v1h-1z"/><path fill="#DE4010" d="M164.6 40.2h1v1h-1zM352.8 52.9h1v1h-1zM352.8 60.8h1v1h-1zM276.4 61.7h1v1h-1zM322.4 88.2h1v1h-1zM333.2 88.2h1v1h-1zM174.4 95.1h1v1h-1zM322.4 95.1h1v1h-1zM324.4 95.1h1v1h-1zM273.4 97h1v1h-1zM318.5 100.9h1v1h-1zM323.4 100.9h2v1h-2zM365.5 100.9h1v1h-1zM171.5 102.9h1v1h-1zM318.5 102.9h1v1h-1zM174.4 104.9h1v1h-1zM182.3 104.9h1v1h-1zM233.2 106.8h1v1h-1zM228.3 108.8h2v1h-2zM249.9 109.8h1v1h-1zM168.6 111.7h1v1h-1zM157.8 112.7h1v1h-1zM266.6 113.7h1v1h-1zM269.5 113.7h1v1h-1zM266.6 115.6h1v1h-1zM281.3 115.6h1v1h-1zM362.6 115.6h1v1h-1zM364.6 116.6h1v1h-1zM157.8 118.6h1v1h-1zM362.6 118.6h1v1h-1zM122.5 119.6h1v1h-1zM166.6 119.6h1v1h-1zM141.1 120.5h1v1h-1zM165.6 120.5h1v1h-1zM171.5 120.5h1v1h-1zM279.3 120.5h1v1h-1zM123.5 121.5h1v1h-1zM128.4 122.5h1v1h-1zM131.3 122.5h1v1h-1zM141.1 122.5h1v1h-1zM158.8 122.5h2v1h-2zM165.6 122.5h1v1h-1zM170.5 122.5h1v1h-1zM181.3 122.5h1v1h-1zM202.9 122.5h1v1h-1zM286.2 122.5h1v1h-1zM143.1 123.5h1v1h-1zM146 123.5h1v1h-1zM170.5 123.5h1v1h-1zM171.5 124.5h1v1h-1zM157.8 126.4h1v1h-1zM128.4 127.4h1v1h-1zM130.3 128.4h2v1h-2zM157.8 128.4h1v1h-1zM140.1 129.4h1v1h-1zM198.9 129.4h1v1h-1zM279.3 130.3h1v1h-1zM170.5 131.3h1v1h-1zM133.3 132.3h1v1h-1zM141.1 132.3h1v1h-1zM153.9 132.3h1v1h-1zM162.7 132.3h1v1h-1zM164.6 132.3h1v1h-1zM169.5 132.3h1v1h-1zM195 132.3h1v1h-1zM197 132.3h1v1h-1zM201.9 132.3h2v1h-2zM205.8 132.3h1v1h-1zM270.5 132.3h1v1h-1zM140.1 138.2h1v1h-1zM156.8 138.2h2v1h-2zM140.1 139.2h1v1h-1zM166.6 140.1h1v1h-1zM143.1 141.1h1v1h-1zM146 143.1h1v1h-1zM205.8 143.1h1v1h-1zM147 146h1v1h-1zM156.8 146h2v1h-2zM157.8 147h1v1h-1zM157.8 148h1v1h-1zM152.9 151.9h1v1h-1zM154.8 152.9h1v1h-1zM165.6 152.9h1v1h-1zM155.8 153.9h2v1h-2zM156.8 154.8h1v1h-1zM165.6 155.8h1v1h-1zM171.5 155.8h1v1h-1zM247 155.8h1v1h-1zM161.7 157.8h1v1h-1zM195 157.8h1v1h-1zM198 157.8h1v1h-1zM202.9 157.8h1v1h-1zM256.8 157.8h1v1h-1zM164.6 159.7h1v1h-1zM168.6 159.7h1v1h-1zM169.5 164.6h1v1h-1zM198.9 164.6h1v1h-1zM202.9 164.6h1v1h-1zM198 165.6h1v1h-1zM201.9 165.6h2v1h-2zM198.9 166.6h1v1h-1zM195 168.6h1v1h-1zM203.8 168.6h1v1h-1zM263.6 168.6h1v1h-1zM198.9 169.5h1v1h-1zM181.3 170.5h1v1h-1zM182.3 171.5h1v1h-1zM275.4 171.5h1v1h-1zM205.8 181.3h1v1h-1zM198 192.1h1v1h-1zM198.9 193.1h1v1h-1zM197 194h1v1h-1zM201.9 195h1v1h-1zM205.8 195h1v1h-1zM386.1 195h1v1h-1zM268.5 198.9h1v1h-1zM271.5 198.9h1v1h-1zM276.4 198.9h1v1h-1zM203.8 199.9h1v1h-1zM263.6 199.9h1v1h-1zM204.8 200.9h1v1h-1zM391 200.9h1v1h-1zM205.8 201.9h1v1h-1zM256.8 201.9h1v1h-1zM263.6 202.9h1v1h-1zM277.3 202.9h1v1h-1zM285.2 209.7h1v1h-1zM285.2 212.7h1v1h-1zM253.8 223.4h2v1h-2zM253.8 225.4h1v1h-1zM376.3 227.4h2v1h-2zM379.3 227.4h1v1h-1zM256.8 228.3h1v1h-1zM262.6 228.3h1v1h-1zM270.5 228.3h1v1h-1zM367.5 239.1h1v1h-1zM367.5 243h1v1h-1zM360.6 245h1v1h-1zM383.2 247h1v1h-1zM387.1 247h2v1h-2zM316.5 247.9h1v1h-1zM318.5 247.9h1v1h-1zM252.8 248.9h1v1h-1zM364.6 248.9h1v1h-1zM364.6 249.9h1v1h-1zM252.8 251.9h1v1h-1zM387.1 251.9h1v1h-1zM263.6 252.8h1v1h-1zM327.3 252.8h1v1h-1zM374.4 252.8h1v1h-1zM381.2 254.8h1v1h-1zM277.3 255.8h1v1h-1zM381.2 255.8h1v1h-1zM266.6 256.8h1v1h-1zM272.4 256.8h1v1h-1zM280.3 256.8h1v1h-1zM298.9 256.8h1v1h-1zM310.7 256.8h1v1h-1zM347.9 256.8h1v1h-1zM274.4 257.7h1v1h-1zM381.2 257.7h1v1h-1zM357.7 259.7h1v1h-1zM263.6 261.7h1v1h-1zM264.6 262.6h3v1h-3zM270.5 262.6h1v1h-1zM272.4 262.6h1v1h-1zM274.4 262.6h1v1h-1zM276.4 262.6h1v1h-1zM304.8 263.6h1v1h-1zM277.3 264.6h1v1h-1zM268.5 265.6h1v1h-1zM274.4 267.5h1v1h-1zM277.3 270.5h1v1h-1zM274.4 273.4h1v1h-1zM299.9 274.4h1v1h-1zM339.1 274.4h1v1h-1zM345.9 274.4h1v1h-1zM299.9 276.4h1v1h-1zM315.6 277.3h1v1h-1zM345.9 277.3h1v1h-1zM281.3 280.3h1v1h-1zM380.2 287.1h1v1h-1zM382.2 287.1h1v1h-1zM384.2 287.1h1v1h-1zM300.9 296.9h1v1h-1zM308.7 296.9h1v1h-1zM299.9 297.9h1v1h-1zM308.7 298.9h1v1h-1zM302.8 299.9h1v1h-1zM316.5 299.9h1v1h-1zM302.8 300.9h1v1h-1zM304.8 303.8h1v1h-1zM307.7 305.8h2v1h-2zM310.7 307.7h1v1h-1zM317.5 308.7h1v1h-1zM315.6 314.6h1v1h-1zM317.5 316.5h1v1h-1zM349.9 338.1h1v1h-1zM348.9 345.9h1v1h-1zM349.9 346.9h1v1h-1zM348.9 347.9h2v1h-2z"/><path fill="#EC560E" d="M167.6 50h2v1h-2zM173.5 50h1v1h-1zM364.6 102.9h1v1h-1zM233.2 105.8h1v1h-1zM226.4 108.8h1v1h-1zM364.6 112.7h1v1h-1zM360.6 116.6h1v1h-1zM365.5 118.6h1v1h-1zM171.5 119.6h1v1h-1zM132.3 120.5h1v1h-1zM157.8 120.5h1v1h-1zM198.9 120.5h1v1h-1zM129.4 122.5h1v1h-1zM140.1 122.5h1v1h-1zM127.4 123.5h1v1h-1zM129.4 123.5h1v1h-1zM168.6 123.5h1v1h-1zM198.9 123.5h1v1h-1zM205.8 123.5h1v1h-1zM129.4 127.4h1v1h-1zM165.6 129.4h1v1h-1zM171.5 130.3h1v1h-1zM140.1 131.3h1v1h-1zM168.6 131.3h1v1h-1zM152.9 132.3h1v1h-1zM156.8 132.3h1v1h-1zM170.5 132.3h1v1h-1zM181.3 132.3h1v1h-1zM202.9 140.1h1v1h-1zM157.8 141.1h1v1h-1zM168.6 143.1h1v1h-1zM198.9 143.1h1v1h-1zM198.9 146h1v1h-1zM153.9 152.9h1v1h-1zM168.6 152.9h1v1h-1zM168.6 155.8h1v1h-1zM159.7 156.8h1v1h-1zM160.7 157.8h1v1h-1zM197 157.8h1v1h-1zM203.8 157.8h1v1h-1zM171.5 159.7h1v1h-1zM165.6 162.7h1v1h-1zM171.5 163.7h1v1h-1zM198.9 165.6h1v1h-1zM168.6 167.6h1v1h-1zM171.5 167.6h1v1h-1zM172.5 168.6h1v1h-1zM181.3 168.6h1v1h-1zM198.9 168.6h1v1h-1zM173.5 171.5h1v1h-1zM181.3 171.5h1v1h-1zM199.9 171.5h1v1h-1zM202.9 171.5h1v1h-1zM182.3 181.3h1v1h-1zM201.9 181.3h2v1h-2zM263.6 182.3h1v1h-1zM202.9 192.1h1v1h-1zM198.9 194h1v1h-1zM197 195h1v1h-1zM198 197h1v1h-1zM199.9 197h1v1h-1zM201.9 198h1v1h-1zM262.6 198.9h1v1h-1zM308.7 198.9h1v1h-1zM200.9 199.9h1v1h-1zM205.8 199.9h1v1h-1zM205.8 200.9h1v1h-1zM203.8 201.9h1v1h-1zM263.6 201.9h1v1h-1zM256.8 202.9h1v1h-1zM268.5 202.9h1v1h-1zM276.4 202.9h1v1h-1zM268.5 205.8h1v1h-1zM256.8 225.4h1v1h-1zM274.4 228.3h1v1h-1zM276.4 228.3h1v1h-1zM318.5 240.1h1v1h-1zM381.2 245h1v1h-1zM381.2 247h1v1h-1zM381.2 247.9h1v1h-1zM383.2 247.9h1v1h-1zM387.1 247.9h2v1h-2zM263.6 248.9h1v1h-1zM263.6 249.9h1v1h-1zM315.6 252.8h1v1h-1zM388.1 254.8h1v1h-1zM308.7 256.8h1v1h-1zM262.6 257.7h1v1h-1zM275.4 262.6h1v1h-1zM272.4 263.6h1v1h-1zM298.9 263.6h1v1h-1zM338.1 263.6h1v1h-1zM270.5 267.5h1v1h-1zM276.4 267.5h2v1h-2zM272.4 268.5h2v1h-2zM276.4 268.5h1v1h-1zM272.4 270.5h1v1h-1zM345.9 270.5h1v1h-1zM273.4 271.5h1v1h-1zM276.4 273.4h1v1h-1zM280.3 275.4h1v1h-1zM307.7 291.1h1v1h-1zM320.5 291.1h1v1h-1zM297.9 296.9h3v1h-3zM300.9 297.9h1v1h-1zM308.7 297.9h1v1h-1zM308.7 299.9h1v1h-1zM304.8 300.9h1v1h-1zM307.7 300.9h1v1h-1zM310.7 300.9h1v1h-1zM315.6 300.9h1v1h-1zM308.7 304.8h1v1h-1zM310.7 308.7h1v1h-1zM315.6 308.7h1v1h-1zM318.5 308.7h1v1h-1zM315.6 311.6h1v1h-1zM317.5 315.6h1v1h-1zM318.5 316.5h1v1h-1zM345.9 338.1h1v1h-1zM349.9 348.9h1v1h-1z"/><path fill="#F66E10" d="M157.8 119.6h1v1h-1zM122.5 121.5h1v1h-1zM124.5 122.5h1v1h-1zM132.3 122.5h1v1h-1zM168.6 122.5h1v1h-1zM205.8 122.5h1v1h-1zM171.5 123.5h1v1h-1zM157.8 129.4h1v1h-1zM131.3 130.3h1v1h-1zM157.8 130.3h1v1h-1zM134.3 132.3h1v1h-1zM158.8 132.3h1v1h-1zM141.1 138.2h1v1h-1zM165.6 140.1h1v1h-1zM168.6 140.1h1v1h-1zM171.5 141.1h1v1h-1zM143.1 142.1h1v1h-1zM171.5 146h1v1h-1zM171.5 147h1v1h-1zM171.5 154.8h1v1h-1zM162.7 157.8h2v1h-2zM169.5 157.8h1v1h-1zM181.3 157.8h1v1h-1zM201.9 157.8h1v1h-1zM165.6 159.7h1v1h-1zM168.6 162.7h1v1h-1zM171.5 162.7h1v1h-1zM169.5 165.6h1v1h-1zM167.6 166.6h1v1h-1zM170.5 166.6h1v1h-1zM176.4 171.5h1v1h-1zM263.6 171.5h1v1h-1zM195 194h1v1h-1zM202.9 197h2v1h-2zM263.6 205.8h1v1h-1zM274.4 205.8h1v1h-1zM263.6 228.3h1v1h-1zM256.8 252.8h1v1h-1zM263.6 254.8h1v1h-1zM257.7 255.8h1v1h-1zM270.5 256.8h1v1h-1zM274.4 256.8h1v1h-1zM345.9 256.8h1v1h-1zM263.6 257.7h1v1h-1zM275.4 257.7h1v1h-1zM267.5 263.6h1v1h-1zM273.4 263.6h1v1h-1zM308.7 263.6h1v1h-1zM345.9 263.6h1v1h-1zM271.5 267.5h1v1h-1zM275.4 268.5h1v1h-1zM274.4 271.5h1v1h-1zM338.1 275.4h1v1h-1zM345.9 275.4h1v1h-1zM304.8 299.9h1v1h-1zM308.7 300.9h1v1h-1zM316.5 310.7h1v1h-1zM319.5 316.5h1v1h-1zM318.5 317.5h1v1h-1zM349.9 345.9h1v1h-1z"/><path fill="#FC8614" d="M120.5 119.6h1v1h-1zM157.8 122.5h1v1h-1zM165.6 123.5h1v1h-1zM130.3 129.4h1v1h-1zM132.3 130.3h1v1h-1zM157.8 131.3h1v1h-1zM138.2 132.3h1v1h-1zM143.1 132.3h1v1h-1zM166.6 132.3h1v1h-1zM152.9 143.1h1v1h-1zM157.8 143.1h1v1h-1zM156.8 152.9h1v1h-1zM171.5 152.9h1v1h-1zM198.9 152.9h1v1h-1zM156.8 155.8h1v1h-1zM170.5 157.8h1v1h-1zM205.8 157.8h1v1h-1zM263.6 157.8h1v1h-1zM168.6 158.8h1v1h-1zM165.6 163.7h1v1h-1zM168.6 164.6h1v1h-1zM169.5 168.6h1v1h-1zM203.8 198.9h1v1h-1zM263.6 198.9h1v1h-1zM275.4 198.9h1v1h-1zM277.3 198.9h1v1h-1zM202.9 200.9h1v1h-1zM203.8 202.9h1v1h-1zM205.8 203.8h1v1h-1zM275.4 205.8h1v1h-1zM268.5 228.3h1v1h-1zM275.4 228.3h1v1h-1zM256.8 248.9h1v1h-1zM256.8 255.8h1v1h-1zM270.5 257.7h1v1h-1zM277.3 262.6h1v1h-1zM266.6 263.6h1v1h-1zM275.4 266.6h1v1h-1zM274.4 270.5h1v1h-1zM277.3 272.4h1v1h-1zM275.4 273.4h1v1h-1zM277.3 273.4h1v1h-1zM280.3 277.3h2v1h-2zM311.6 308.7h1v1h-1zM316.5 315.6h1v1h-1zM318.5 315.6h1v1h-1zM339.1 338.1h1v1h-1zM345.9 345h1v1h-1z"/><path fill="#FF9E1C" d="M171.5 122.5h1v1h-1zM132.3 123.5h1v1h-1zM132.3 128.4h1v1h-1zM131.3 129.4h2v1h-2zM171.5 129.4h1v1h-1zM140.1 132.3h1v1h-1zM171.5 132.3h1v1h-1zM142.1 140.1h1v1h-1zM157.8 140.1h1v1h-1zM165.6 143.1h1v1h-1zM157.8 155.8h1v1h-1zM158.8 156.8h1v1h-1zM168.6 156.8h1v1h-1zM166.6 157.8h1v1h-1zM167.6 165.6h1v1h-1zM170.5 165.6h1v1h-1zM205.8 171.5h1v1h-1zM198.9 181.3h1v1h-1zM198.9 192.1h1v1h-1zM202.9 198h1v1h-1zM201.9 200.9h1v1h-1zM204.8 202.9h1v1h-1zM263.6 255.8h1v1h-1zM275.4 256.8h1v1h-1zM268.5 262.6h1v1h-1zM265.6 263.6h1v1h-1zM271.5 263.6h1v1h-1zM276.4 263.6h2v1h-2zM268.5 266.6h1v1h-1zM277.3 268.5h1v1h-1zM271.5 270.5h1v1h-1zM276.4 270.5h1v1h-1zM277.3 271.5h1v1h-1zM276.4 272.4h1v1h-1zM299.9 298.9h1v1h-1zM316.5 300.9h1v1h-1zM311.6 310.7h1v1h-1zM319.5 318.5h1v1h-1zM346.9 345.9h2v1h-2z"/><path fill="#FFB42C" d="M198.9 122.5h1v1h-1zM157.8 123.5h1v1h-1zM157.8 132.3h1v1h-1zM165.6 132.3h1v1h-1zM171.5 140.1h1v1h-1zM157.8 152.9h1v1h-1zM157.8 153.9h1v1h-1zM157.8 154.8h1v1h-1zM165.6 156.8h1v1h-1zM171.5 156.8h1v1h-1zM171.5 157.8h1v1h-1zM198.9 157.8h1v1h-1zM171.5 164.6h1v1h-1zM205.8 165.6h1v1h-1zM168.6 166.6h1v1h-1zM170.5 169.5h1v1h-1zM172.5 171.5h1v1h-1zM198.9 195h1v1h-1zM204.8 198.9h1v1h-1zM256.8 198.9h1v1h-1zM204.8 201.9h1v1h-1zM204.8 203.8h1v1h-1zM256.8 251.9h1v1h-1zM264.6 263.6h1v1h-1zM270.5 263.6h1v1h-1zM268.5 267.5h1v1h-1zM270.5 268.5h1v1h-1zM274.4 268.5h1v1h-1zM275.4 271.5h1v1h-1zM298.9 297.9h1v1h-1zM316.5 308.7h1v1h-1z"/><path fill="#FFC844" d="M33.3 32.3h1v1h-1zM123.5 122.5h1v1h-1zM168.6 132.3h1v1h-1zM143.1 140.1h1v1h-1zM171.5 143.1h1v1h-1zM198.9 171.5h1v1h-1zM256.8 254.8h1v1h-1zM262.6 256.8h1v1h-1zM268.5 256.8h1v1h-1zM277.3 256.8h1v1h-1zM275.4 263.6h1v1h-1zM275.4 270.5h1v1h-1zM274.4 272.4h2v1h-2zM308.7 307.7h1v1h-1zM309.7 308.7h1v1h-1z"/><path fill="#FFDA60" d="M122.5 120.5h1v1h-1zM168.6 157.8h1v1h-1zM166.6 164.6h1v1h-1zM200.9 198.9h1v1h-1zM205.8 198.9h1v1h-1zM201.9 199.9h1v1h-1zM205.8 204.8h1v1h-1zM276.4 256.8h1v1h-1zM271.5 268.5h1v1h-1zM277.3 275.4h1v1h-1z"/><path fill="#FFE984" d="M198.9 156.8h1v1h-1zM166.6 165.6h1v1h-1zM202.9 199.9h1v1h-1zM268.5 263.6h1v1h-1z"/><path fill="#FFF4B0" d="M132.3 131.3h1v1h-1zM198.9 132.3h1v1h-1zM141.1 140.1h1v1h-1zM157.8 156.8h1v1h-1zM158.8 157.8h2v1h-2zM164.6 157.8h2v1h-2zM165.6 164.6h1v1h-1zM168.6 165.6h1v1h-1zM171.5 165.6h1v1h-1zM171.5 166.6h1v1h-1zM170.5 168.6h2v1h-2zM171.5 169.5h1v1h-1zM171.5 170.5h1v1h-1zM198.9 197h1v1h-1zM198.9 198h1v1h-1zM199.9 198.9h1v1h-1zM201.9 198.9h2v1h-2zM202.9 201.9h1v1h-1zM205.8 202.9h1v1h-1zM257.7 256.8h1v1h-1zM263.6 256.8h1v1h-1zM263.6 262.6h1v1h-1zM274.4 263.6h1v1h-1zM276.4 271.5h1v1h-1zM275.4 274.4h3v1h-3zM276.4 275.4h1v1h-1zM277.3 276.4h1v1h-1zM300.9 298.9h1v1h-1zM300.9 299.9h1v1h-1z"/></g>
<use href="#tri" transform="matrix(0 1 1 0 0 0)"/>
</g>
<line x1="243.5" y1="172" x2="635.5" y2="564.5" stroke="#fff" stroke-width="0.9" opacity="0.92"/>
</svg>
</body></html>
